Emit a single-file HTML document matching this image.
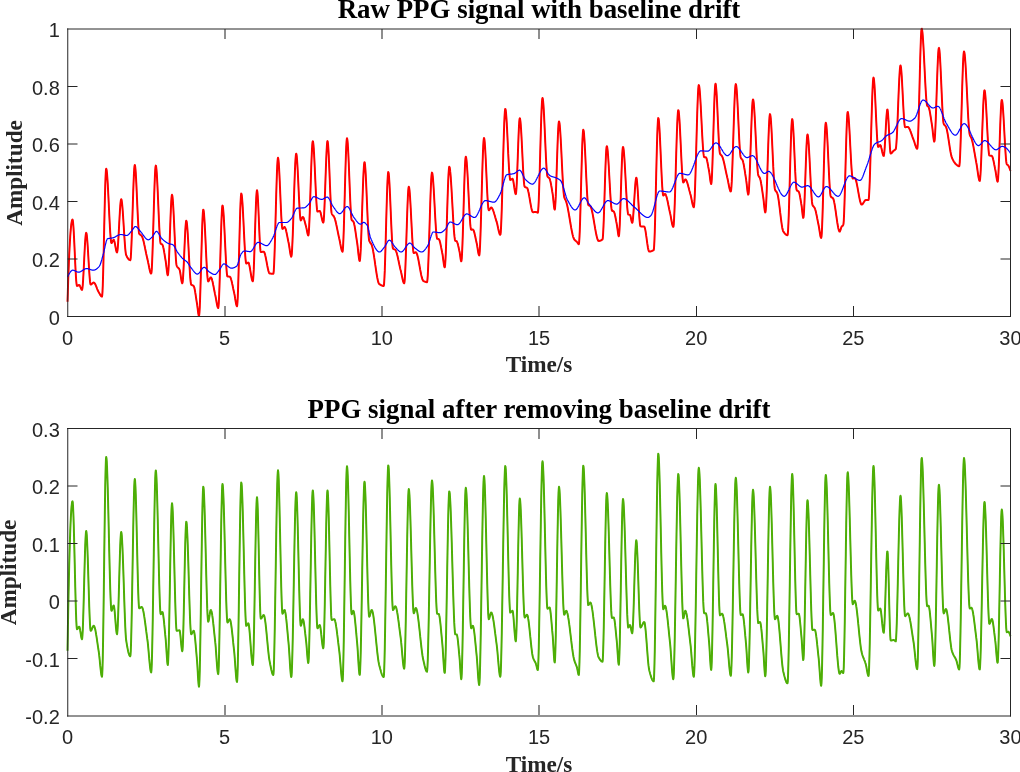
<!DOCTYPE html>
<html><head><meta charset="utf-8"><title>PPG signal</title>
<style>
html,body{margin:0;padding:0;background:#fff;}
body{width:1020px;height:772px;overflow:hidden;}
svg{display:block;}
.tk{font-family:"Liberation Sans",Arial,sans-serif;font-size:20px;fill:#262626;}
.lb{font-family:"Liberation Serif","Times New Roman",serif;font-size:23.2px;font-weight:bold;fill:#262626;}
.tt{font-family:"Liberation Serif","Times New Roman",serif;font-size:26.9px;font-weight:bold;fill:#000;}
</style></head>
<body>
<svg width="1020" height="772" viewBox="0 0 1020 772">
<rect width="1020" height="772" fill="#fff"/>
<path d="M67.5 301.8 L67.8 293.8 68.0 286.2 68.2 279.0 68.5 272.2 68.8 265.8 69.0 259.9 69.2 254.3 69.5 249.2 69.8 244.5 70.0 240.1 70.2 236.2 70.5 232.7 70.8 229.7 71.0 227.0 71.2 224.7 71.5 222.9 71.8 221.4 72.0 220.4 72.2 219.8 72.5 219.6 72.8 220.2 73.0 221.9 73.2 224.5 73.5 227.9 73.8 232.1 74.0 236.8 74.2 241.9 74.5 247.2 74.8 252.7 75.0 258.2 75.2 263.6 75.5 268.7 75.8 273.4 76.0 277.5 76.2 281.0 76.5 283.6 76.8 285.3 77.0 285.9 77.2 285.9 77.5 285.8 77.8 285.7 78.0 285.5 78.2 285.4 78.5 285.2 78.8 285.1 79.0 285.0 79.2 285.0 79.5 285.2 79.8 285.5 80.0 286.0 80.2 286.6 80.5 287.2 80.8 287.9 81.0 288.5 81.2 289.0 81.5 289.5 81.8 289.8 82.0 289.9 82.2 289.3 82.5 287.7 82.8 285.1 83.0 281.7 83.2 277.8 83.5 273.3 83.8 268.4 84.0 263.4 84.2 258.3 84.5 253.3 84.8 248.5 85.0 244.1 85.2 240.3 85.5 237.0 85.8 234.6 86.0 233.2 86.2 232.8 86.5 233.5 86.8 234.9 87.0 237.1 87.2 240.0 87.5 243.3 87.8 247.0 88.0 251.0 88.2 255.2 88.5 259.5 88.8 263.8 89.0 268.0 89.2 271.9 89.5 275.5 89.8 278.6 90.0 281.2 90.2 283.1 90.5 284.3 90.8 284.6 91.0 284.5 91.2 284.4 91.5 284.2 91.8 284.0 92.0 283.8 92.2 283.5 92.5 283.3 92.8 283.1 93.0 282.9 93.2 282.7 93.5 282.6 93.8 282.6 94.0 282.7 94.2 282.8 94.5 283.1 94.8 283.4 95.0 283.8 95.2 284.3 95.5 284.8 95.8 285.3 96.0 285.9 96.2 286.5 96.5 287.1 96.8 287.8 97.0 288.4 97.2 289.1 97.5 289.7 97.8 290.3 98.0 290.8 98.2 291.3 98.5 291.8 98.8 292.2 99.0 292.6 99.2 293.1 99.5 293.5 99.8 294.0 100.0 294.4 100.2 294.9 100.5 295.3 100.8 295.6 101.0 296.0 101.2 296.2 101.5 296.4 101.8 296.6 102.0 296.6 102.2 295.3 102.5 291.6 102.8 285.8 103.0 278.3 103.2 269.4 103.5 259.3 103.8 248.5 104.0 237.3 104.2 225.9 104.5 214.6 104.8 204.0 105.0 194.1 105.2 185.4 105.5 178.2 105.8 172.8 106.0 169.6 106.2 168.8 106.5 169.4 106.8 171.0 107.0 173.3 107.2 176.3 107.5 180.0 107.8 184.1 108.0 188.6 108.2 193.5 108.5 198.6 108.8 203.8 109.0 209.0 109.2 214.2 109.5 219.2 109.8 224.0 110.0 228.5 110.2 232.5 110.5 236.0 110.8 238.9 111.0 241.1 111.2 242.5 111.5 243.0 111.8 242.9 112.0 242.6 112.2 242.1 112.5 241.6 112.8 241.1 113.0 240.6 113.2 240.2 113.5 239.9 113.8 239.8 114.0 240.1 114.2 240.8 114.5 241.7 114.8 242.9 115.0 244.2 115.2 245.6 115.5 247.0 115.8 248.4 116.0 249.7 116.2 250.8 116.5 251.7 116.8 252.2 117.0 252.5 117.2 251.9 117.5 250.4 117.8 248.0 118.0 244.8 118.2 241.1 118.5 236.9 118.8 232.4 119.0 227.7 119.2 223.0 119.5 218.3 119.8 213.9 120.0 209.8 120.2 206.2 120.5 203.2 120.8 200.9 121.0 199.6 121.2 199.2 121.5 199.8 121.8 201.0 122.0 202.8 122.2 205.2 122.5 208.1 122.8 211.3 123.0 214.9 123.2 218.7 123.5 222.7 123.8 226.7 124.0 230.8 124.2 234.8 124.5 238.6 124.8 242.3 125.0 245.6 125.2 248.6 125.5 251.1 125.8 253.2 126.0 254.6 126.2 255.3 126.5 255.8 126.8 256.3 127.0 256.8 127.2 257.3 127.5 257.7 127.8 258.1 128.0 258.4 128.2 258.8 128.5 259.1 128.8 259.3 129.0 259.6 129.2 259.8 129.5 259.9 129.8 260.0 130.0 260.1 130.2 260.2 130.5 259.6 130.8 257.5 131.0 254.0 131.2 249.2 131.5 243.5 131.8 236.9 132.0 229.7 132.2 222.0 132.5 214.2 132.8 206.2 133.0 198.5 133.2 191.1 133.5 184.2 133.8 178.1 134.0 172.9 134.2 168.9 134.5 166.2 134.8 165.0 135.0 165.4 135.2 166.9 135.5 169.5 135.8 172.9 136.0 177.1 136.2 181.9 136.5 187.1 136.8 192.7 137.0 198.4 137.2 204.1 137.5 209.7 137.8 215.1 138.0 220.0 138.2 224.4 138.5 228.1 138.8 231.0 139.0 232.9 139.2 233.7 139.5 234.0 139.8 234.3 140.0 234.5 140.2 234.7 140.5 234.9 140.8 235.0 141.0 235.2 141.2 235.4 141.5 235.7 141.8 236.0 142.0 236.4 142.2 237.0 142.5 237.6 142.8 238.4 143.0 239.2 143.2 240.1 143.5 241.0 143.8 242.0 144.0 243.1 144.2 244.2 144.5 245.4 144.8 246.6 145.0 247.8 145.2 249.0 145.5 250.3 145.8 251.5 146.0 252.7 146.2 253.9 146.5 255.1 146.8 256.2 147.0 257.3 147.2 258.4 147.5 259.4 147.8 260.5 148.0 261.6 148.2 262.9 148.5 264.1 148.8 265.4 149.0 266.7 149.2 267.9 149.5 269.1 149.8 270.2 150.0 271.2 150.2 272.1 150.5 272.7 150.8 273.3 151.0 273.6 151.2 273.6 151.5 272.3 151.8 269.4 152.0 265.0 152.2 259.3 152.5 252.6 152.8 245.1 153.0 236.9 153.2 228.4 153.5 219.6 153.8 210.8 154.0 202.3 154.2 194.1 154.5 186.6 154.8 179.9 155.0 174.2 155.2 169.8 155.5 166.9 155.8 165.6 156.0 165.9 156.2 167.4 156.5 169.8 156.8 173.1 157.0 177.1 157.2 181.7 157.5 186.9 157.8 192.4 158.0 198.1 158.2 204.0 158.5 209.9 158.8 215.7 159.0 221.3 159.2 226.5 159.5 231.2 159.8 235.4 160.0 238.8 160.2 241.4 160.5 243.1 160.8 243.7 161.0 243.9 161.2 244.0 161.5 244.1 161.8 244.2 162.0 244.3 162.2 244.5 162.5 244.9 162.8 245.4 163.0 246.2 163.2 247.2 163.5 248.3 163.8 249.6 164.0 250.9 164.2 252.4 164.5 253.9 164.8 255.5 165.0 257.0 165.2 258.6 165.5 260.0 165.8 261.5 166.0 263.4 166.2 265.5 166.5 267.7 166.8 269.9 167.0 271.9 167.2 273.5 167.5 274.7 167.8 275.2 168.0 274.7 168.2 272.7 168.5 269.3 168.8 264.7 169.0 259.3 169.2 253.1 169.5 246.4 169.8 239.3 170.0 232.1 170.2 225.0 170.5 218.2 170.8 211.9 171.0 206.3 171.2 201.6 171.5 197.9 171.8 195.6 172.0 194.8 172.2 195.3 172.5 196.9 172.8 199.4 173.0 202.7 173.2 206.6 173.5 211.1 173.8 216.0 174.0 221.3 174.2 226.7 174.5 232.2 174.8 237.7 175.0 243.0 175.2 248.1 175.5 252.7 175.8 256.8 176.0 260.3 176.2 263.1 176.5 265.0 176.8 265.9 177.0 266.4 177.2 266.8 177.5 267.1 177.8 267.4 178.0 267.6 178.2 267.9 178.5 268.1 178.8 268.4 179.0 268.7 179.2 269.1 179.5 269.5 179.8 270.3 180.0 271.4 180.2 272.8 180.5 274.4 180.8 276.1 181.0 277.8 181.2 279.5 181.5 280.9 181.8 282.1 182.0 282.9 182.2 283.3 182.5 282.8 182.8 281.1 183.0 278.2 183.2 274.4 183.5 269.8 183.8 264.6 184.0 259.0 184.2 253.2 184.5 247.4 184.8 241.7 185.0 236.3 185.2 231.4 185.5 227.3 185.8 224.0 186.0 221.8 186.2 220.8 186.5 221.1 186.8 222.3 187.0 224.2 187.2 226.9 187.5 230.1 187.8 233.9 188.0 238.1 188.2 242.5 188.5 247.2 188.8 252.0 189.0 256.8 189.2 261.5 189.5 266.1 189.8 270.3 190.0 274.2 190.2 277.6 190.5 280.5 190.8 282.6 191.0 284.1 191.2 284.6 191.5 284.8 191.8 285.0 192.0 285.1 192.2 285.2 192.5 285.3 192.8 285.4 193.0 285.6 193.2 285.7 193.5 285.9 193.8 286.2 194.0 286.6 194.2 287.4 194.5 288.4 194.8 289.6 195.0 290.9 195.2 292.4 195.5 294.0 195.8 295.7 196.0 297.3 196.2 299.0 196.5 300.6 196.8 302.2 197.0 303.7 197.2 305.4 197.5 307.4 197.8 309.4 198.0 311.4 198.2 313.2 198.5 314.6 198.8 315.6 199.0 315.9 199.2 314.9 199.5 311.9 199.8 307.3 200.0 301.3 200.2 294.2 200.5 286.1 200.8 277.4 201.0 268.3 201.2 259.1 201.5 249.9 201.8 241.1 202.0 232.9 202.2 225.6 202.5 219.3 202.8 214.4 203.0 211.1 203.2 209.7 203.5 210.0 203.8 211.4 204.0 213.6 204.2 216.7 204.5 220.5 204.8 224.8 205.0 229.6 205.2 234.7 205.5 240.1 205.8 245.5 206.0 251.0 206.2 256.3 206.5 261.5 206.8 266.3 207.0 270.6 207.2 274.3 207.5 277.4 207.8 279.7 208.0 281.0 208.2 281.4 208.5 281.2 208.8 280.9 209.0 280.5 209.2 280.0 209.5 279.4 209.8 278.8 210.0 278.3 210.2 277.8 210.5 277.5 210.8 277.4 211.0 277.5 211.2 277.7 211.5 278.2 211.8 278.8 212.0 279.6 212.2 280.5 212.5 281.5 212.8 282.6 213.0 283.8 213.2 285.0 213.5 286.3 213.8 287.6 214.0 289.0 214.2 290.3 214.5 291.5 214.8 292.8 215.0 294.0 215.2 295.0 215.5 296.2 215.8 297.5 216.0 298.9 216.2 300.3 216.5 301.8 216.8 303.2 217.0 304.5 217.2 305.7 217.5 306.7 217.8 307.4 218.0 307.9 218.2 308.0 218.5 306.6 218.8 303.4 219.0 298.7 219.2 292.7 219.5 285.6 219.8 277.7 220.0 269.2 220.2 260.4 220.5 251.4 220.8 242.7 221.0 234.3 221.2 226.5 221.5 219.6 221.8 213.8 222.0 209.4 222.2 206.6 222.5 205.6 222.8 206.1 223.0 207.6 223.2 209.9 223.5 213.0 223.8 216.7 224.0 220.9 224.2 225.6 224.5 230.6 224.8 235.8 225.0 241.1 225.2 246.4 225.5 251.6 225.8 256.6 226.0 261.3 226.2 265.5 226.5 269.2 226.8 272.3 227.0 274.6 227.2 276.1 227.5 276.6 227.8 276.6 228.0 276.6 228.2 276.6 228.5 276.6 228.8 276.6 229.0 276.6 229.2 276.7 229.5 276.7 229.8 276.7 230.0 276.8 230.2 277.1 230.5 277.6 230.8 278.2 231.0 278.9 231.2 279.7 231.5 280.7 231.8 281.7 232.0 282.8 232.2 283.9 232.5 285.1 232.8 286.3 233.0 287.5 233.2 288.7 233.5 289.9 233.8 291.0 234.0 292.1 234.2 293.2 234.5 294.5 234.8 295.9 235.0 297.5 235.2 299.0 235.5 300.6 235.8 302.1 236.0 303.4 236.2 304.5 236.5 305.4 236.8 306.0 237.0 306.2 237.2 305.1 237.5 302.0 237.8 297.1 238.0 290.8 238.2 283.2 238.5 274.7 238.8 265.4 239.0 255.8 239.2 246.0 239.5 236.3 239.8 226.9 240.0 218.2 240.2 210.4 240.5 203.8 240.8 198.6 241.0 195.1 241.2 193.6 241.5 193.9 241.8 195.2 242.0 197.3 242.2 200.2 242.5 203.7 242.8 207.8 243.0 212.3 243.2 217.2 243.5 222.3 243.8 227.5 244.0 232.8 244.2 237.9 244.5 242.9 244.8 247.5 245.0 251.8 245.2 255.6 245.5 258.8 245.8 261.2 246.0 262.8 246.2 263.5 246.5 263.5 246.8 263.4 247.0 263.3 247.2 263.1 247.5 262.9 247.8 262.8 248.0 262.7 248.2 262.6 248.5 262.7 248.8 263.1 249.0 263.8 249.2 264.7 249.5 265.9 249.8 267.2 250.0 268.6 250.2 270.1 250.5 271.6 250.8 273.2 251.0 274.7 251.2 276.1 251.5 277.5 251.8 278.7 252.0 279.7 252.2 280.5 252.5 281.0 252.8 281.3 253.0 280.7 253.2 278.4 253.5 274.5 253.8 269.4 254.0 263.2 254.2 256.2 254.5 248.6 254.8 240.6 255.0 232.5 255.2 224.4 255.5 216.7 255.8 209.6 256.0 203.2 256.2 197.9 256.5 193.8 256.8 191.1 257.0 190.2 257.2 191.0 257.5 193.1 257.8 196.5 258.0 200.8 258.2 205.9 258.5 211.5 258.8 217.4 259.0 223.5 259.2 229.5 259.5 235.3 259.8 240.5 260.0 244.9 260.2 248.5 260.5 250.9 260.8 252.0 261.0 252.0 261.2 252.0 261.5 252.0 261.8 251.9 262.0 251.9 262.2 251.9 262.5 251.8 262.8 251.8 263.0 251.8 263.2 251.8 263.5 251.7 263.8 251.7 264.0 251.9 264.2 252.2 264.5 252.8 264.8 253.5 265.0 254.3 265.2 255.3 265.5 256.4 265.8 257.5 266.0 258.8 266.2 260.1 266.5 261.4 266.8 262.8 267.0 264.1 267.2 265.4 267.5 266.7 267.8 267.9 268.0 269.1 268.2 270.1 268.5 271.1 268.8 271.9 269.0 272.6 269.2 273.1 269.5 273.4 269.8 273.5 270.0 273.5 270.2 273.6 270.5 273.6 270.8 273.6 271.0 273.7 271.2 273.7 271.5 273.7 271.8 273.8 272.0 273.8 272.2 273.8 272.5 273.8 272.8 273.8 273.0 273.8 273.2 273.8 273.5 273.2 273.8 270.8 274.0 266.9 274.2 261.5 274.5 255.0 274.8 247.5 275.0 239.3 275.2 230.5 275.5 221.4 275.8 212.1 276.0 203.0 276.2 194.1 276.5 185.7 276.8 178.1 277.0 171.4 277.2 165.8 277.5 161.5 277.8 158.8 278.0 157.8 278.2 158.5 278.5 160.3 278.8 163.1 279.0 166.8 279.2 171.2 279.5 176.2 279.8 181.7 280.0 187.4 280.2 193.3 280.5 199.2 280.8 205.0 281.0 210.4 281.2 215.5 281.5 219.9 281.8 223.6 282.0 226.4 282.2 228.2 282.5 228.9 282.8 228.8 283.0 228.6 283.2 228.3 283.5 227.9 283.8 227.6 284.0 227.3 284.2 227.1 284.5 227.0 284.8 227.1 285.0 227.4 285.2 227.9 285.5 228.5 285.8 229.3 286.0 230.3 286.2 231.3 286.5 232.4 286.8 233.6 287.0 234.8 287.2 236.1 287.5 237.4 287.8 238.7 288.0 240.0 288.2 241.2 288.5 242.3 288.8 243.5 289.0 244.9 289.2 246.5 289.5 248.2 289.8 249.9 290.0 251.5 290.2 253.1 290.5 254.4 290.8 255.5 291.0 256.3 291.2 256.6 291.5 256.1 291.8 254.2 292.0 250.9 292.2 246.5 292.5 241.1 292.8 234.9 293.0 228.0 293.2 220.7 293.5 213.0 293.8 205.2 294.0 197.3 294.2 189.6 294.5 182.3 294.8 175.4 295.0 169.2 295.2 163.8 295.5 159.4 295.8 156.2 296.0 154.2 296.2 153.7 296.5 154.5 296.8 156.4 297.0 159.1 297.2 162.6 297.5 166.7 297.8 171.3 298.0 176.4 298.2 181.6 298.5 187.1 298.8 192.5 299.0 197.8 299.2 202.8 299.5 207.4 299.8 211.6 300.0 215.0 300.2 217.8 300.5 219.6 300.8 220.4 301.0 220.3 301.2 220.0 301.5 219.4 301.8 218.8 302.0 218.2 302.2 217.6 302.5 217.2 302.8 217.0 303.0 217.1 303.2 217.3 303.5 217.7 303.8 218.3 304.0 219.0 304.2 219.8 304.5 220.7 304.8 221.6 305.0 222.6 305.2 223.6 305.5 224.5 305.8 225.5 306.0 226.4 306.2 227.3 306.5 228.4 306.8 229.7 307.0 231.0 307.2 232.3 307.5 233.5 307.8 234.5 308.0 235.2 308.2 235.5 308.5 235.0 308.8 232.9 309.0 229.4 309.2 224.7 309.5 219.0 309.8 212.5 310.0 205.3 310.2 197.7 310.5 189.9 310.8 182.1 311.0 174.4 311.2 167.0 311.5 160.2 311.8 154.2 312.0 149.0 312.2 145.0 312.5 142.4 312.8 141.2 313.0 141.5 313.2 143.0 313.5 145.4 313.8 148.6 314.0 152.6 314.2 157.1 314.5 162.1 314.8 167.5 315.0 173.0 315.2 178.6 315.5 184.2 315.8 189.6 316.0 194.6 316.2 199.3 316.5 203.4 316.8 206.8 317.0 209.4 317.2 211.0 317.5 211.6 317.8 211.6 318.0 211.5 318.2 211.4 318.5 211.3 318.8 211.2 319.0 211.1 319.2 211.0 319.5 211.0 319.8 211.0 320.0 211.2 320.2 211.7 320.5 212.4 320.8 213.4 321.0 214.4 321.2 215.6 321.5 216.8 321.8 218.0 322.0 219.1 322.2 220.2 322.5 221.1 322.8 221.8 323.0 222.4 323.2 222.6 323.5 222.0 323.8 220.0 324.0 216.5 324.2 212.0 324.5 206.4 324.8 200.2 325.0 193.3 325.2 186.2 325.5 178.9 325.8 171.7 326.0 164.9 326.2 158.5 326.5 152.8 326.8 148.0 327.0 144.3 327.2 141.9 327.5 141.1 327.8 141.8 328.0 143.8 328.2 146.9 328.5 151.0 328.8 155.9 329.0 161.3 329.2 167.2 329.5 173.4 329.8 179.7 330.0 186.0 330.2 192.0 330.5 197.6 330.8 202.6 331.0 206.9 331.2 210.2 331.5 212.5 331.8 213.6 332.0 214.1 332.2 214.5 332.5 214.9 332.8 215.2 333.0 215.5 333.2 215.7 333.5 216.0 333.8 216.3 334.0 216.7 334.2 217.2 334.5 217.8 334.8 218.5 335.0 219.3 335.2 220.1 335.5 221.1 335.8 222.1 336.0 223.2 336.2 224.3 336.5 225.5 336.8 226.7 337.0 227.9 337.2 229.1 337.5 230.4 337.8 231.6 338.0 232.8 338.2 234.1 338.5 235.2 338.8 236.4 339.0 237.5 339.2 238.5 339.5 239.7 339.8 240.9 340.0 242.2 340.2 243.5 340.5 244.9 340.8 246.2 341.0 247.4 341.2 248.5 341.5 249.6 341.8 250.4 342.0 251.0 342.2 251.4 342.5 251.6 342.8 250.6 343.0 247.7 343.2 243.2 343.5 237.3 343.8 230.2 344.0 222.2 344.2 213.5 344.5 204.4 344.8 195.0 345.0 185.6 345.2 176.4 345.5 167.7 345.8 159.7 346.0 152.6 346.2 146.7 346.5 142.2 346.8 139.3 347.0 138.3 347.2 139.0 347.5 140.8 347.8 143.7 348.0 147.6 348.2 152.2 348.5 157.5 348.8 163.2 349.0 169.4 349.2 175.7 349.5 182.1 349.8 188.5 350.0 194.6 350.2 200.4 350.5 205.7 350.8 210.4 351.0 214.3 351.2 217.3 351.5 219.3 351.8 220.1 352.0 220.4 352.2 220.6 352.5 220.7 352.8 220.9 353.0 221.1 353.2 221.4 353.5 221.8 353.8 222.5 354.0 223.3 354.2 224.4 354.5 225.6 354.8 226.9 355.0 228.4 355.2 230.0 355.5 231.6 355.8 233.3 356.0 235.0 356.2 236.8 356.5 238.5 356.8 240.2 357.0 241.8 357.2 243.5 357.5 245.4 357.8 247.6 358.0 249.9 358.2 252.3 358.5 254.6 358.8 256.7 359.0 258.6 359.2 259.9 359.5 260.8 359.8 261.0 360.0 259.9 360.2 257.4 360.5 253.7 360.8 248.9 361.0 243.2 361.2 236.8 361.5 229.8 361.8 222.3 362.0 214.7 362.2 207.0 362.5 199.4 362.8 192.0 363.0 185.1 363.2 178.8 363.5 173.3 363.8 168.7 364.0 165.2 364.2 163.0 364.5 162.2 364.8 162.8 365.0 164.5 365.2 167.2 365.5 170.8 365.8 175.1 366.0 180.1 366.2 185.5 366.5 191.2 366.8 197.2 367.0 203.2 367.2 209.3 367.5 215.1 367.8 220.7 368.0 225.8 368.2 230.4 368.5 234.3 368.8 237.4 369.0 239.6 369.2 240.7 369.5 241.3 369.8 241.9 370.0 242.3 370.2 242.7 370.5 243.0 370.8 243.3 371.0 243.7 371.2 244.1 371.5 244.5 371.8 245.1 372.0 245.9 372.2 246.7 372.5 247.7 372.8 248.9 373.0 250.2 373.2 251.5 373.5 253.0 373.8 254.5 374.0 256.1 374.2 257.7 374.5 259.4 374.8 261.2 375.0 262.9 375.2 264.7 375.5 266.4 375.8 268.2 376.0 269.9 376.2 271.5 376.5 273.1 376.8 274.7 377.0 276.2 377.2 277.5 377.5 278.8 377.8 280.0 378.0 281.1 378.2 282.0 378.5 282.7 378.8 283.3 379.0 283.8 379.2 284.0 379.5 284.2 379.8 284.4 380.0 284.6 380.2 284.7 380.5 284.9 380.8 285.0 381.0 285.2 381.2 285.3 381.5 285.4 381.8 285.5 382.0 285.6 382.2 285.7 382.5 285.8 382.8 285.9 383.0 285.9 383.2 285.9 383.5 286.0 383.8 285.9 384.0 284.6 384.2 281.5 384.5 276.8 384.8 270.9 385.0 263.8 385.2 255.9 385.5 247.3 385.8 238.3 386.0 229.0 386.2 219.8 386.5 210.8 386.8 202.2 387.0 194.2 387.2 187.2 387.5 181.2 387.8 176.6 388.0 173.5 388.2 172.1 388.5 172.5 388.8 174.0 389.0 176.6 389.2 180.1 389.5 184.3 389.8 189.2 390.0 194.5 390.2 200.2 390.5 206.2 390.8 212.2 391.0 218.2 391.2 224.0 391.5 229.5 391.8 234.6 392.0 239.1 392.2 242.9 392.5 245.8 392.8 247.8 393.0 248.6 393.2 248.8 393.5 249.0 393.8 249.1 394.0 249.2 394.2 249.3 394.5 249.4 394.8 249.5 395.0 249.6 395.2 249.8 395.5 250.1 395.8 250.5 396.0 251.0 396.2 251.6 396.5 252.3 396.8 253.1 397.0 254.0 397.2 255.0 397.5 256.0 397.8 257.1 398.0 258.2 398.2 259.4 398.5 260.6 398.8 261.8 399.0 263.0 399.2 264.2 399.5 265.3 399.8 266.5 400.0 267.6 400.2 268.7 400.5 269.7 400.8 270.6 401.0 271.7 401.2 272.8 401.5 274.0 401.8 275.2 402.0 276.4 402.2 277.6 402.5 278.8 402.8 279.9 403.0 280.9 403.2 281.7 403.5 282.4 403.8 282.9 404.0 283.2 404.2 283.3 404.5 282.1 404.8 279.5 405.0 275.6 405.2 270.5 405.5 264.5 405.8 257.8 406.0 250.5 406.2 242.8 406.5 235.0 406.8 227.2 407.0 219.5 407.2 212.2 407.5 205.5 407.8 199.5 408.0 194.4 408.2 190.5 408.5 187.9 408.8 186.7 409.0 187.0 409.2 188.2 409.5 190.2 409.8 193.0 410.0 196.3 410.2 200.2 410.5 204.5 410.8 209.1 411.0 214.0 411.2 218.9 411.5 223.9 411.8 228.8 412.0 233.5 412.2 237.9 412.5 242.0 412.8 245.6 413.0 248.6 413.2 250.9 413.5 252.5 413.8 253.1 414.0 253.1 414.2 253.0 414.5 252.9 414.8 252.7 415.0 252.6 415.2 252.4 415.5 252.3 415.8 252.3 416.0 252.3 416.2 252.6 416.5 252.9 416.8 253.5 417.0 254.1 417.2 254.9 417.5 255.8 417.8 256.8 418.0 257.9 418.2 259.1 418.5 260.3 418.8 261.6 419.0 263.0 419.2 264.3 419.5 265.7 419.8 267.1 420.0 268.5 420.2 269.9 420.5 271.2 420.8 272.5 421.0 273.8 421.2 275.0 421.5 276.1 421.8 277.1 422.0 278.1 422.2 278.9 422.5 279.6 422.8 280.1 423.0 280.6 423.2 280.8 423.5 281.0 423.8 281.1 424.0 281.3 424.2 281.4 424.5 281.5 424.8 281.6 425.0 281.7 425.2 281.8 425.5 281.9 425.8 282.0 426.0 282.1 426.2 282.1 426.5 282.1 426.8 282.2 427.0 282.2 427.2 281.4 427.5 279.1 427.8 275.5 428.0 270.8 428.2 265.0 428.5 258.5 428.8 251.3 429.0 243.6 429.2 235.6 429.5 227.4 429.8 219.2 430.0 211.2 430.2 203.5 430.5 196.3 430.8 189.7 431.0 184.0 431.2 179.3 431.5 175.7 431.8 173.4 432.0 172.6 432.2 173.0 432.5 174.3 432.8 176.3 433.0 178.9 433.2 182.1 433.5 185.8 433.8 189.9 434.0 194.2 434.2 198.8 434.5 203.5 434.8 208.3 435.0 213.0 435.2 217.5 435.5 221.9 435.8 225.9 436.0 229.5 436.2 232.7 436.5 235.3 436.8 237.2 437.0 238.4 437.2 238.8 437.5 238.8 437.8 238.9 438.0 238.9 438.2 239.0 438.5 239.0 438.8 239.1 439.0 239.4 439.2 239.8 439.5 240.4 439.8 241.2 440.0 242.1 440.2 243.1 440.5 244.2 440.8 245.4 441.0 246.6 441.2 247.9 441.5 249.2 441.8 250.5 442.0 251.7 442.2 253.0 442.5 254.3 442.8 255.9 443.0 257.8 443.2 259.8 443.5 261.7 443.8 263.6 444.0 265.1 444.2 266.4 444.5 267.2 444.8 267.3 445.0 266.1 445.2 263.4 445.5 259.3 445.8 254.0 446.0 247.8 446.2 240.8 446.5 233.2 446.8 225.2 447.0 217.1 447.2 208.9 447.5 200.9 447.8 193.3 448.0 186.3 448.2 180.1 448.5 174.8 448.8 170.7 449.0 168.0 449.2 166.8 449.5 167.0 449.8 167.9 450.0 169.5 450.2 171.7 450.5 174.3 450.8 177.4 451.0 181.0 451.2 184.8 451.5 188.9 451.8 193.3 452.0 197.7 452.2 202.3 452.5 206.9 452.8 211.4 453.0 215.8 453.2 220.1 453.5 224.1 453.8 227.8 454.0 231.2 454.2 234.2 454.5 236.7 454.8 238.6 455.0 240.0 455.2 240.7 455.5 240.9 455.8 241.0 456.0 241.0 456.2 241.1 456.5 241.2 456.8 241.4 457.0 241.7 457.2 242.3 457.5 243.0 457.8 243.8 458.0 244.8 458.2 245.8 458.5 246.9 458.8 248.1 459.0 249.3 459.2 250.4 459.5 251.5 459.8 252.9 460.0 254.6 460.2 256.4 460.5 258.2 460.8 259.7 461.0 260.8 461.2 261.3 461.5 260.7 461.8 258.4 462.0 254.5 462.2 249.3 462.5 243.0 462.8 235.7 463.0 227.8 463.2 219.4 463.5 210.8 463.8 202.1 464.0 193.5 464.2 185.4 464.5 177.9 464.8 171.2 465.0 165.5 465.2 161.0 465.5 158.1 465.8 156.8 466.0 157.0 466.2 158.2 466.5 160.1 466.8 162.7 467.0 166.0 467.2 169.7 467.5 173.9 467.8 178.4 468.0 183.2 468.2 188.2 468.5 193.3 468.8 198.3 469.0 203.3 469.2 208.1 469.5 212.6 469.8 216.8 470.0 220.5 470.2 223.8 470.5 226.4 470.8 228.3 471.0 229.5 471.2 229.8 471.5 229.7 471.8 229.7 472.0 229.6 472.2 229.5 472.5 229.5 472.8 229.5 473.0 229.5 473.2 229.8 473.5 230.2 473.8 230.8 474.0 231.5 474.2 232.4 474.5 233.3 474.8 234.4 475.0 235.5 475.2 236.6 475.5 237.8 475.8 239.0 476.0 240.1 476.2 241.3 476.5 242.4 476.8 243.5 477.0 244.7 477.2 246.2 477.5 247.8 477.8 249.5 478.0 251.0 478.2 252.5 478.5 253.8 478.8 254.7 479.0 255.3 479.2 255.4 479.5 254.2 479.8 251.2 480.0 246.8 480.2 241.1 480.5 234.3 480.8 226.6 481.0 218.3 481.2 209.5 481.5 200.4 481.8 191.2 482.0 182.2 482.2 173.4 482.5 165.2 482.8 157.7 483.0 151.2 483.2 145.7 483.5 141.5 483.8 138.9 484.0 138.0 484.2 138.5 484.5 140.2 484.8 142.7 485.0 146.1 485.2 150.1 485.5 154.7 485.8 159.8 486.0 165.2 486.2 170.7 486.5 176.4 486.8 182.0 487.0 187.4 487.2 192.5 487.5 197.2 487.8 201.4 488.0 204.9 488.2 207.6 488.5 209.4 488.8 210.2 489.0 210.2 489.2 210.0 489.5 209.7 489.8 209.3 490.0 208.9 490.2 208.5 490.5 208.1 490.8 207.8 491.0 207.6 491.2 207.5 491.5 207.6 491.8 207.8 492.0 208.1 492.2 208.4 492.5 208.9 492.8 209.4 493.0 210.0 493.2 210.6 493.5 211.4 493.8 212.1 494.0 212.9 494.2 213.7 494.5 214.6 494.8 215.4 495.0 216.3 495.2 217.2 495.5 218.1 495.8 219.0 496.0 219.8 496.2 220.7 496.5 221.5 496.8 222.2 497.0 223.1 497.2 224.1 497.5 225.2 497.8 226.4 498.0 227.6 498.2 228.7 498.5 229.9 498.8 231.0 499.0 232.0 499.2 232.9 499.5 233.7 499.8 234.3 500.0 234.7 500.2 234.8 500.5 234.3 500.8 232.0 501.0 228.1 501.2 222.9 501.5 216.6 501.8 209.2 502.0 201.1 502.2 192.3 502.5 183.1 502.8 173.7 503.0 164.3 503.2 155.0 503.5 146.1 503.8 137.6 504.0 130.0 504.2 123.2 504.5 117.5 504.8 113.1 505.0 110.1 505.2 108.9 505.5 109.2 505.8 110.4 506.0 112.6 506.2 115.5 506.5 119.1 506.8 123.3 507.0 127.9 507.2 132.8 507.5 138.0 507.8 143.3 508.0 148.6 508.2 153.9 508.5 158.9 508.8 163.7 509.0 168.0 509.2 171.8 509.5 175.0 509.8 177.5 510.0 179.2 510.2 179.9 510.5 179.9 510.8 179.8 511.0 179.7 511.2 179.5 511.5 179.3 511.8 179.1 512.0 179.0 512.2 178.9 512.5 178.8 512.8 179.1 513.0 179.8 513.2 180.8 513.5 182.2 513.8 183.8 514.0 185.4 514.2 187.2 514.5 188.9 514.8 190.5 515.0 191.9 515.2 193.0 515.5 193.8 515.8 194.1 516.0 193.6 516.2 191.5 516.5 188.0 516.8 183.3 517.0 177.7 517.2 171.4 517.5 164.6 517.8 157.6 518.0 150.5 518.2 143.6 518.5 137.0 518.8 131.1 519.0 126.1 519.2 122.1 519.5 119.4 519.8 118.2 520.0 118.5 520.2 119.8 520.5 121.9 520.8 124.8 521.0 128.3 521.2 132.4 521.5 136.9 521.8 141.8 522.0 146.8 522.2 152.0 522.5 157.2 522.8 162.3 523.0 167.2 523.2 171.8 523.5 175.9 523.8 179.6 524.0 182.6 524.2 184.9 524.5 186.3 524.8 186.9 525.0 187.0 525.2 187.1 525.5 187.2 525.8 187.3 526.0 187.4 526.2 187.5 526.5 187.6 526.8 187.7 527.0 187.9 527.2 188.1 527.5 188.6 527.8 189.3 528.0 190.2 528.2 191.2 528.5 192.3 528.8 193.5 529.0 194.8 529.2 196.2 529.5 197.6 529.8 199.1 530.0 200.6 530.2 202.1 530.5 203.5 530.8 204.9 531.0 206.2 531.2 207.5 531.5 208.6 531.8 209.6 532.0 210.5 532.2 211.2 532.5 211.8 532.8 212.1 533.0 212.2 533.2 212.2 533.5 212.2 533.8 212.2 534.0 212.1 534.2 212.1 534.5 212.0 534.8 212.0 535.0 212.0 535.2 211.9 535.5 211.9 535.8 211.9 536.0 211.9 536.2 212.0 536.5 212.1 536.8 212.2 537.0 212.4 537.2 212.5 537.5 212.6 537.8 212.7 538.0 212.1 538.2 209.7 538.5 205.8 538.8 200.5 539.0 194.1 539.2 186.7 539.5 178.5 539.8 169.9 540.0 160.8 540.2 151.7 540.5 142.7 540.8 133.9 541.0 125.6 541.2 118.1 541.5 111.4 541.8 105.9 542.0 101.7 542.2 99.0 542.5 98.0 542.8 98.6 543.0 100.2 543.2 102.6 543.5 105.9 543.8 109.9 544.0 114.4 544.2 119.4 544.5 124.8 544.8 130.4 545.0 136.1 545.2 141.9 545.5 147.6 545.8 153.0 546.0 158.2 546.2 162.9 546.5 167.1 546.8 170.7 547.0 173.5 547.2 175.5 547.5 176.4 547.8 176.8 548.0 177.1 548.2 177.3 548.5 177.5 548.8 177.7 549.0 177.9 549.2 178.2 549.5 178.6 549.8 179.1 550.0 179.8 550.2 180.7 550.5 181.7 550.8 182.9 551.0 184.2 551.2 185.5 551.5 187.0 551.8 188.5 552.0 190.0 552.2 191.5 552.5 193.1 552.8 194.6 553.0 196.7 553.2 199.1 553.5 201.7 553.8 204.2 554.0 206.4 554.2 208.2 554.5 209.3 554.8 209.6 555.0 208.4 555.2 205.7 555.5 201.6 555.8 196.4 556.0 190.3 556.2 183.5 556.5 176.2 556.8 168.6 557.0 160.9 557.2 153.4 557.5 146.1 557.8 139.4 558.0 133.5 558.2 128.5 558.5 124.7 558.8 122.3 559.0 121.4 559.2 121.9 559.5 123.2 559.8 125.3 560.0 128.2 560.2 131.6 560.5 135.5 560.8 139.9 561.0 144.6 561.2 149.6 561.5 154.7 561.8 160.0 562.0 165.2 562.2 170.3 562.5 175.2 562.8 179.9 563.0 184.2 563.2 188.0 563.5 191.3 563.8 194.0 564.0 196.0 564.2 197.2 564.5 198.0 564.8 198.6 565.0 199.2 565.2 199.6 565.5 200.1 565.8 200.6 566.0 201.2 566.2 201.9 566.5 202.7 566.8 203.6 567.0 204.6 567.2 205.6 567.5 206.8 567.8 208.0 568.0 209.3 568.2 210.6 568.5 212.0 568.8 213.4 569.0 214.9 569.2 216.3 569.5 217.8 569.8 219.3 570.0 220.8 570.2 222.3 570.5 223.8 570.8 225.2 571.0 226.6 571.2 228.0 571.5 229.4 571.8 230.7 572.0 231.9 572.2 233.1 572.5 234.2 572.8 235.2 573.0 236.2 573.2 237.0 573.5 237.8 573.8 238.4 574.0 238.9 574.2 239.4 574.5 239.7 574.8 240.0 575.0 240.2 575.2 240.5 575.5 240.7 575.8 240.9 576.0 241.1 576.2 241.3 576.5 241.5 576.8 241.7 577.0 242.0 577.2 242.3 577.5 242.7 577.8 243.1 578.0 243.5 578.2 243.8 578.5 244.1 578.8 244.2 579.0 243.5 579.2 241.0 579.5 236.7 579.8 231.0 580.0 224.1 580.2 216.2 580.5 207.5 580.8 198.3 581.0 188.9 581.2 179.4 581.5 170.0 581.8 161.1 582.0 152.9 582.2 145.5 582.5 139.3 582.8 134.5 583.0 131.2 583.2 129.8 583.5 130.1 583.8 131.4 584.0 133.7 584.2 136.7 584.5 140.4 584.8 144.7 585.0 149.5 585.2 154.6 585.5 160.0 585.8 165.5 586.0 171.0 586.2 176.5 586.5 181.8 586.8 186.8 587.0 191.5 587.2 195.6 587.5 199.1 587.8 201.8 588.0 203.8 588.2 204.8 588.5 205.1 588.8 205.3 589.0 205.4 589.2 205.5 589.5 205.6 589.8 205.8 590.0 205.9 590.2 206.1 590.5 206.4 590.8 206.9 591.0 207.5 591.2 208.2 591.5 209.0 591.8 209.9 592.0 211.0 592.2 212.1 592.5 213.3 592.8 214.6 593.0 215.9 593.2 217.3 593.5 218.7 593.8 220.2 594.0 221.6 594.2 223.1 594.5 224.6 594.8 226.1 595.0 227.6 595.2 229.0 595.5 230.4 595.8 231.8 596.0 233.1 596.2 234.3 596.5 235.5 596.8 236.6 597.0 237.5 597.2 238.4 597.5 239.2 597.8 239.8 598.0 240.3 598.2 240.7 598.5 240.9 598.8 241.0 599.0 241.0 599.2 240.9 599.5 240.9 599.8 240.8 600.0 240.8 600.2 240.7 600.5 240.6 600.8 240.5 601.0 240.4 601.2 240.2 601.5 240.1 601.8 239.9 602.0 239.7 602.2 239.6 602.5 239.4 602.8 238.3 603.0 235.5 603.2 231.4 603.5 226.1 603.8 219.8 604.0 212.7 604.2 205.1 604.5 197.2 604.8 189.1 605.0 181.1 605.2 173.5 605.5 166.3 605.8 160.0 606.0 154.5 606.2 150.3 606.5 147.4 606.8 146.2 607.0 146.4 607.2 147.5 607.5 149.3 607.8 151.7 608.0 154.7 608.2 158.2 608.5 162.1 608.8 166.3 609.0 170.7 609.2 175.2 609.5 179.8 609.8 184.4 610.0 188.9 610.2 193.1 610.5 197.1 610.8 200.8 611.0 204.0 611.2 206.7 611.5 208.7 611.8 210.1 612.0 210.7 612.2 210.9 612.5 211.0 612.8 211.0 613.0 211.1 613.2 211.2 613.5 211.3 613.8 211.5 614.0 211.8 614.2 212.4 614.5 213.1 614.8 214.0 615.0 215.1 615.2 216.3 615.5 217.5 615.8 218.8 616.0 220.2 616.2 221.5 616.5 222.8 616.8 224.1 617.0 225.5 617.2 227.3 617.5 229.2 617.8 231.2 618.0 233.0 618.2 234.6 618.5 235.7 618.8 236.2 619.0 235.6 619.2 233.3 619.5 229.6 619.8 224.6 620.0 218.5 620.2 211.6 620.5 204.1 620.8 196.3 621.0 188.4 621.2 180.5 621.5 172.9 621.8 165.9 622.0 159.7 622.2 154.4 622.5 150.4 622.8 147.8 623.0 146.9 623.2 147.3 623.5 148.6 623.8 150.5 624.0 153.1 624.2 156.3 624.5 159.9 624.8 164.0 625.0 168.3 625.2 172.8 625.5 177.5 625.8 182.3 626.0 187.0 626.2 191.6 626.5 196.0 626.8 200.2 627.0 203.9 627.2 207.3 627.5 210.1 627.8 212.2 628.0 213.7 628.2 214.4 628.5 214.6 628.8 214.6 629.0 214.7 629.2 214.7 629.5 214.8 629.8 214.8 630.0 214.9 630.2 215.3 630.5 216.1 630.8 217.2 631.0 218.5 631.2 219.8 631.5 221.0 631.8 222.0 632.0 222.7 632.2 222.8 632.5 222.2 632.8 220.6 633.0 218.4 633.2 215.5 633.5 212.1 633.8 208.4 634.0 204.4 634.2 200.3 634.5 196.2 634.8 192.2 635.0 188.4 635.2 185.0 635.5 182.2 635.8 179.9 636.0 178.4 636.2 177.7 636.5 178.0 636.8 179.2 637.0 181.3 637.2 184.0 637.5 187.3 637.8 191.0 638.0 195.0 638.2 199.3 638.5 203.6 638.8 207.9 639.0 212.0 639.2 215.8 639.5 219.2 639.8 222.1 640.0 224.3 640.2 225.7 640.5 226.2 640.8 226.3 641.0 226.3 641.2 226.4 641.5 226.4 641.8 226.4 642.0 226.4 642.2 226.4 642.5 226.5 642.8 226.5 643.0 226.5 643.2 226.5 643.5 226.5 643.8 226.6 644.0 226.6 644.2 226.6 644.5 226.9 644.8 227.6 645.0 228.5 645.2 229.6 645.5 230.9 645.8 232.5 646.0 234.1 646.2 235.9 646.5 237.7 646.8 239.6 647.0 241.4 647.2 243.2 647.5 244.9 647.8 246.5 648.0 248.0 648.2 249.2 648.5 250.2 648.8 251.0 649.0 251.4 649.2 251.5 649.5 251.5 649.8 251.5 650.0 251.5 650.2 251.5 650.5 251.4 650.8 251.4 651.0 251.3 651.2 251.2 651.5 251.1 651.8 251.0 652.0 250.9 652.2 250.8 652.5 250.7 652.8 250.6 653.0 250.4 653.2 250.3 653.5 250.1 653.8 249.9 654.0 248.2 654.2 244.5 654.5 239.0 654.8 232.1 655.0 223.9 655.2 214.7 655.5 204.7 655.8 194.3 656.0 183.6 656.2 172.9 656.5 162.5 656.8 152.6 657.0 143.5 657.2 135.4 657.5 128.5 657.8 123.2 658.0 119.6 658.2 118.1 658.5 118.4 658.8 119.8 659.0 122.2 659.2 125.3 659.5 129.3 659.8 133.8 660.0 138.8 660.2 144.2 660.5 149.8 660.8 155.6 661.0 161.3 661.2 167.0 661.5 172.5 661.8 177.7 662.0 182.4 662.2 186.6 662.5 190.1 662.8 192.8 663.0 194.6 663.2 195.4 663.5 195.4 663.8 195.2 664.0 194.9 664.2 194.6 664.5 194.3 664.8 194.0 665.0 194.0 665.2 194.0 665.5 194.3 665.8 194.7 666.0 195.3 666.2 196.0 666.5 196.8 666.8 197.7 667.0 198.6 667.2 199.7 667.5 200.8 667.8 202.0 668.0 203.2 668.2 204.5 668.5 205.7 668.8 207.0 669.0 208.2 669.2 209.4 669.5 210.6 669.8 211.7 670.0 212.7 670.2 213.8 670.5 215.1 670.8 216.4 671.0 217.8 671.2 219.3 671.5 220.7 671.8 222.0 672.0 223.3 672.2 224.5 672.5 225.4 672.8 226.2 673.0 226.7 673.2 226.9 673.5 226.4 673.8 224.3 674.0 220.7 674.2 215.9 674.5 210.0 674.8 203.2 675.0 195.6 675.2 187.5 675.5 179.0 675.8 170.3 676.0 161.6 676.2 153.0 676.5 144.7 676.8 136.9 677.0 129.8 677.2 123.5 677.5 118.2 677.8 114.1 678.0 111.4 678.2 110.2 678.5 110.5 678.8 111.8 679.0 114.0 679.2 117.0 679.5 120.7 679.8 124.9 680.0 129.6 680.2 134.6 680.5 139.9 680.8 145.3 681.0 150.7 681.2 156.0 681.5 161.2 681.8 166.0 682.0 170.4 682.2 174.3 682.5 177.6 682.8 180.1 683.0 181.8 683.2 182.5 683.5 182.5 683.8 182.1 684.0 181.7 684.2 181.1 684.5 180.5 684.8 180.0 685.0 179.6 685.2 179.4 685.5 179.4 685.8 179.6 686.0 179.9 686.2 180.2 686.5 180.7 686.8 181.3 687.0 182.0 687.2 182.7 687.5 183.5 687.8 184.3 688.0 185.2 688.2 186.1 688.5 187.1 688.8 188.0 689.0 189.0 689.2 190.0 689.5 191.0 689.8 191.9 690.0 192.8 690.2 193.7 690.5 194.6 690.8 195.5 691.0 196.6 691.2 197.8 691.5 199.1 691.8 200.4 692.0 201.6 692.2 202.8 692.5 204.0 692.8 205.0 693.0 205.8 693.2 206.5 693.5 207.0 693.8 207.2 694.0 206.6 694.2 204.4 694.5 200.7 694.8 195.6 695.0 189.4 695.2 182.3 695.5 174.4 695.8 165.9 696.0 157.1 696.2 148.0 696.5 138.8 696.8 129.8 697.0 121.2 697.2 113.0 697.5 105.6 697.8 99.0 698.0 93.5 698.2 89.2 698.5 86.3 698.8 85.1 699.0 85.4 699.2 86.5 699.5 88.4 699.8 91.0 700.0 94.1 700.2 97.8 700.5 102.0 700.8 106.4 701.0 111.1 701.2 116.0 701.5 121.0 701.8 126.0 702.0 130.9 702.2 135.6 702.5 140.1 702.8 144.2 703.0 147.9 703.2 151.1 703.5 153.7 703.8 155.7 704.0 156.8 704.2 157.1 704.5 157.2 704.8 157.2 705.0 157.2 705.2 157.2 705.5 157.2 705.8 157.3 706.0 157.4 706.2 157.8 706.5 158.4 706.8 159.2 707.0 160.2 707.2 161.3 707.5 162.5 707.8 163.9 708.0 165.2 708.2 166.7 708.5 168.1 708.8 169.4 709.0 170.7 709.2 172.2 709.5 173.9 709.8 175.9 710.0 177.9 710.2 179.8 710.5 181.6 710.8 182.9 711.0 183.8 711.2 184.0 711.5 182.6 711.8 179.5 712.0 174.9 712.2 169.0 712.5 162.1 712.8 154.3 713.0 146.0 713.2 137.3 713.5 128.6 713.8 120.0 714.0 111.8 714.2 104.2 714.5 97.4 714.8 91.8 715.0 87.4 715.2 84.7 715.5 83.7 715.8 84.3 716.0 86.0 716.2 88.7 716.5 92.2 716.8 96.4 717.0 101.1 717.2 106.3 717.5 111.8 717.8 117.5 718.0 123.2 718.2 128.8 718.5 134.1 718.8 139.1 719.0 143.6 719.2 147.4 719.5 150.5 719.8 152.6 720.0 153.7 720.2 154.1 720.5 154.5 720.8 154.8 721.0 155.0 721.2 155.2 721.5 155.5 721.8 155.8 722.0 156.2 722.2 156.6 722.5 157.2 722.8 157.9 723.0 158.7 723.2 159.6 723.5 160.5 723.8 161.5 724.0 162.5 724.2 163.6 724.5 164.7 724.8 165.9 725.0 167.1 725.2 168.3 725.5 169.5 725.8 170.7 726.0 171.9 726.2 173.1 726.5 174.2 726.8 175.3 727.0 176.4 727.2 177.5 727.5 178.5 727.8 179.7 728.0 180.9 728.2 182.2 728.5 183.5 728.8 184.8 729.0 186.1 729.2 187.3 729.5 188.4 729.8 189.4 730.0 190.3 730.2 190.9 730.5 191.3 730.8 191.5 731.0 191.0 731.2 189.1 731.5 185.8 731.8 181.4 732.0 175.9 732.2 169.7 732.5 162.7 732.8 155.3 733.0 147.4 733.2 139.4 733.5 131.4 733.8 123.5 734.0 115.9 734.2 108.7 734.5 102.1 734.8 96.3 735.0 91.5 735.2 87.7 735.5 85.2 735.8 84.1 736.0 84.4 736.2 85.7 736.5 87.9 736.8 90.8 737.0 94.3 737.2 98.5 737.5 103.1 737.8 108.0 738.0 113.2 738.2 118.6 738.5 124.0 738.8 129.3 739.0 134.5 739.2 139.4 739.5 144.0 739.8 148.1 740.0 151.6 740.2 154.4 740.5 156.5 740.8 157.7 741.0 158.2 741.2 158.5 741.5 158.8 741.8 159.0 742.0 159.3 742.2 159.6 742.5 160.0 742.8 160.6 743.0 161.4 743.2 162.4 743.5 163.5 743.8 164.7 744.0 166.1 744.2 167.5 744.5 169.1 744.8 170.6 745.0 172.2 745.2 173.9 745.5 175.5 745.8 177.1 746.0 178.6 746.2 180.4 746.5 182.5 746.8 184.7 747.0 187.0 747.2 189.3 747.5 191.3 747.8 192.9 748.0 194.0 748.2 194.6 748.5 194.1 748.8 192.1 749.0 188.9 749.2 184.5 749.5 179.1 749.8 173.0 750.0 166.2 750.2 159.0 750.5 151.5 750.8 143.9 751.0 136.4 751.2 129.2 751.5 122.3 751.8 116.0 752.0 110.5 752.2 105.9 752.5 102.4 752.8 100.2 753.0 99.4 753.2 99.8 753.5 101.2 753.8 103.2 754.0 106.0 754.2 109.4 754.5 113.3 754.8 117.6 755.0 122.2 755.2 127.1 755.5 132.2 755.8 137.4 756.0 142.6 756.2 147.6 756.5 152.6 756.8 157.2 757.0 161.5 757.2 165.4 757.5 168.8 757.8 171.6 758.0 173.7 758.2 175.0 758.5 175.7 758.8 176.2 759.0 176.6 759.2 177.0 759.5 177.3 759.8 177.8 760.0 178.4 760.2 179.2 760.5 180.1 760.8 181.3 761.0 182.6 761.2 184.0 761.5 185.6 761.8 187.2 762.0 188.9 762.2 190.6 762.5 192.3 762.8 194.1 763.0 195.8 763.2 197.5 763.5 199.4 763.8 201.7 764.0 204.1 764.2 206.5 764.5 208.7 764.8 210.6 765.0 211.8 765.2 212.4 765.5 211.9 765.8 209.9 766.0 206.5 766.2 202.0 766.5 196.5 766.8 190.1 767.0 183.1 767.2 175.7 767.5 168.0 767.8 160.1 768.0 152.3 768.2 144.8 768.5 137.7 768.8 131.2 769.0 125.5 769.2 120.8 769.5 117.2 769.8 114.9 770.0 114.1 770.2 114.6 770.5 116.1 770.8 118.4 771.0 121.5 771.2 125.3 771.5 129.6 771.8 134.3 772.0 139.4 772.2 144.7 772.5 150.2 772.8 155.7 773.0 161.1 773.2 166.4 773.5 171.4 773.8 176.0 774.0 180.1 774.2 183.6 774.5 186.5 774.8 188.5 775.0 189.6 775.2 190.2 775.5 190.7 775.8 191.0 776.0 191.4 776.2 191.6 776.5 192.0 776.8 192.3 777.0 192.7 777.2 193.3 777.5 194.0 777.8 195.0 778.0 196.2 778.2 197.6 778.5 199.2 778.8 200.9 779.0 202.7 779.2 204.6 779.5 206.6 779.8 208.7 780.0 210.8 780.2 212.9 780.5 215.0 780.8 217.1 781.0 219.1 781.2 221.0 781.5 222.9 781.8 224.6 782.0 226.2 782.2 227.7 782.5 228.9 782.8 229.9 783.0 230.8 783.2 231.3 783.5 231.7 783.8 232.1 784.0 232.4 784.2 232.8 784.5 233.1 784.8 233.4 785.0 233.7 785.2 234.0 785.5 234.2 785.8 234.4 786.0 234.6 786.2 234.8 786.5 235.0 786.8 235.1 787.0 235.2 787.2 235.2 787.5 235.2 787.8 234.3 788.0 231.6 788.2 227.3 788.5 221.7 788.8 214.9 789.0 207.3 789.2 198.9 789.5 190.0 789.8 180.8 790.0 171.6 790.2 162.5 790.5 153.7 790.8 145.4 791.0 137.9 791.2 131.4 791.5 126.0 791.8 122.0 792.0 119.7 792.2 119.1 792.5 119.9 792.8 121.9 793.0 124.8 793.2 128.6 793.5 133.1 793.8 138.1 794.0 143.5 794.2 149.2 794.5 155.0 794.8 160.8 795.0 166.5 795.2 171.9 795.5 176.8 795.8 181.2 796.0 184.8 796.2 187.6 796.5 189.5 796.8 190.2 797.0 190.5 797.2 190.7 797.5 190.8 797.8 190.9 798.0 191.1 798.2 191.2 798.5 191.5 798.8 191.8 799.0 192.3 799.2 193.0 799.5 194.0 799.8 195.1 800.0 196.4 800.2 197.7 800.5 199.2 800.8 200.7 801.0 202.2 801.2 203.7 801.5 205.2 801.8 207.0 802.0 209.2 802.2 211.6 802.5 213.8 802.8 215.8 803.0 217.2 803.2 217.9 803.5 217.3 803.8 215.2 804.0 211.7 804.2 207.0 804.5 201.4 804.8 194.9 805.0 188.0 805.2 180.7 805.5 173.2 805.8 165.9 806.0 158.8 806.2 152.3 806.5 146.4 806.8 141.5 807.0 137.8 807.2 135.4 807.5 134.5 807.8 135.0 808.0 136.4 808.2 138.6 808.5 141.4 808.8 144.9 809.0 149.0 809.2 153.4 809.5 158.1 809.8 163.1 810.0 168.2 810.2 173.3 810.5 178.4 810.8 183.3 811.0 187.9 811.2 192.2 811.5 196.0 811.8 199.3 812.0 201.9 812.2 203.8 812.5 204.9 812.8 205.4 813.0 205.8 813.2 206.2 813.5 206.4 813.8 206.7 814.0 207.0 814.2 207.3 814.5 207.7 814.8 208.2 815.0 208.8 815.2 209.5 815.5 210.4 815.8 211.3 816.0 212.4 816.2 213.5 816.5 214.7 816.8 215.9 817.0 217.2 817.2 218.5 817.5 219.8 817.8 221.1 818.0 222.3 818.2 223.6 818.5 224.8 818.8 226.0 819.0 227.4 819.2 229.0 819.5 230.6 819.8 232.2 820.0 233.7 820.2 235.2 820.5 236.4 820.8 237.3 821.0 237.8 821.2 237.9 821.5 236.6 821.8 233.4 822.0 228.7 822.2 222.7 822.5 215.6 822.8 207.6 823.0 198.9 823.2 189.7 823.5 180.4 823.8 171.0 824.0 161.9 824.2 153.2 824.5 145.2 824.8 138.0 825.0 132.0 825.2 127.3 825.5 124.2 825.8 122.8 826.0 123.1 826.2 124.4 826.5 126.6 826.8 129.6 827.0 133.2 827.2 137.4 827.5 142.1 827.8 147.1 828.0 152.4 828.2 157.8 828.5 163.2 828.8 168.6 829.0 173.8 829.2 178.7 829.5 183.3 829.8 187.3 830.0 190.8 830.2 193.6 830.5 195.5 830.8 196.5 831.0 196.9 831.2 197.1 831.5 197.3 831.8 197.4 832.0 197.6 832.2 197.7 832.5 197.9 832.8 198.1 833.0 198.3 833.2 198.8 833.5 199.4 833.8 200.2 834.0 201.2 834.2 202.4 834.5 203.7 834.8 205.1 835.0 206.6 835.2 208.3 835.5 210.0 835.8 211.7 836.0 213.5 836.2 215.3 836.5 217.0 836.8 218.8 837.0 220.5 837.2 222.2 837.5 223.8 837.8 225.3 838.0 226.6 838.2 227.9 838.5 229.0 838.8 229.9 839.0 230.7 839.2 231.2 839.5 231.5 839.8 231.6 840.0 231.3 840.2 230.7 840.5 229.9 840.8 229.1 841.0 228.2 841.2 227.4 841.5 226.9 841.8 226.5 842.0 226.3 842.2 226.0 842.5 225.8 842.8 225.6 843.0 225.3 843.2 224.9 843.5 223.8 843.8 220.8 844.0 216.2 844.2 210.2 844.5 203.0 844.8 194.9 845.0 186.1 845.2 176.8 845.5 167.3 845.8 157.9 846.0 148.7 846.2 140.1 846.5 132.1 846.8 125.2 847.0 119.5 847.2 115.2 847.5 112.7 847.8 112.0 848.0 112.7 848.2 114.2 848.5 116.4 848.8 119.3 849.0 122.8 849.2 126.7 849.5 131.0 849.8 135.6 850.0 140.4 850.2 145.3 850.5 150.2 850.8 155.0 851.0 159.6 851.2 163.9 851.5 167.8 851.8 171.3 852.0 174.2 852.2 176.4 852.5 177.9 852.8 178.6 853.0 178.6 853.2 178.5 853.5 178.4 853.8 178.3 854.0 178.2 854.2 178.1 854.5 178.1 854.8 178.1 855.0 178.2 855.2 178.5 855.5 179.0 855.8 179.7 856.0 180.5 856.2 181.4 856.5 182.4 856.8 183.5 857.0 184.8 857.2 186.1 857.5 187.4 857.8 188.8 858.0 190.2 858.2 191.6 858.5 193.0 858.8 194.4 859.0 195.8 859.2 197.1 859.5 198.4 859.8 199.6 860.0 200.7 860.2 201.7 860.5 202.5 860.8 203.3 861.0 203.9 861.2 204.3 861.5 204.5 861.8 204.6 862.0 204.5 862.2 204.4 862.5 204.1 862.8 203.9 863.0 203.5 863.2 203.1 863.5 202.7 863.8 202.3 864.0 201.9 864.2 201.5 864.5 201.1 864.8 200.8 865.0 200.5 865.2 200.3 865.5 200.1 865.8 200.0 866.0 200.0 866.2 200.0 866.5 200.0 866.8 200.0 867.0 200.0 867.2 200.0 867.5 200.0 867.8 199.9 868.0 199.9 868.2 199.9 868.5 199.9 868.8 199.0 869.0 196.5 869.2 192.4 869.5 187.1 869.8 180.7 870.0 173.4 870.2 165.4 870.5 156.8 870.8 147.9 871.0 138.7 871.2 129.6 871.5 120.6 871.8 112.0 872.0 104.0 872.2 96.7 872.5 90.3 872.8 85.0 873.0 81.0 873.2 78.5 873.5 77.6 873.8 78.2 874.0 79.8 874.2 82.4 874.5 85.7 874.8 89.7 875.0 94.3 875.2 99.3 875.5 104.6 875.8 110.1 876.0 115.6 876.2 121.0 876.5 126.3 876.8 131.2 877.0 135.7 877.2 139.6 877.5 142.8 877.8 145.2 878.0 146.6 878.2 146.9 878.5 146.8 878.8 146.6 879.0 146.3 879.2 146.0 879.5 145.6 879.8 145.4 880.0 145.2 880.2 145.1 880.5 145.3 880.8 145.8 881.0 146.6 881.2 147.5 881.5 148.5 881.8 149.6 882.0 150.7 882.2 151.9 882.5 153.0 882.8 154.0 883.0 154.8 883.2 155.4 883.5 155.8 883.8 155.9 884.0 155.0 884.2 153.1 884.5 150.3 884.8 146.8 885.0 142.8 885.2 138.3 885.5 133.7 885.8 129.0 886.0 124.4 886.2 120.2 886.5 116.4 886.8 113.3 887.0 111.0 887.2 109.7 887.5 109.6 887.8 110.9 888.0 113.3 888.2 116.8 888.5 120.9 888.8 125.6 889.0 130.5 889.2 135.5 889.5 140.3 889.8 144.7 890.0 148.4 890.2 151.3 890.5 153.0 890.8 153.5 891.0 153.4 891.2 153.3 891.5 153.1 891.8 152.9 892.0 152.6 892.2 152.3 892.5 152.0 892.8 151.7 893.0 151.4 893.2 151.1 893.5 150.9 893.8 150.6 894.0 150.5 894.2 150.3 894.5 150.1 894.8 150.0 895.0 149.8 895.2 149.6 895.5 149.3 895.8 149.0 896.0 147.8 896.2 145.5 896.5 142.1 896.8 138.0 897.0 133.1 897.2 127.6 897.5 121.7 897.8 115.5 898.0 109.1 898.2 102.6 898.5 96.3 898.8 90.2 899.0 84.5 899.2 79.3 899.5 74.7 899.8 70.9 900.0 68.0 900.2 66.2 900.5 65.5 900.8 66.1 901.0 67.6 901.2 69.9 901.5 73.0 901.8 76.7 902.0 80.9 902.2 85.5 902.5 90.4 902.8 95.4 903.0 100.4 903.2 105.3 903.5 110.0 903.8 114.4 904.0 118.3 904.2 121.7 904.5 124.3 904.8 126.2 905.0 127.1 905.2 127.2 905.5 127.2 905.8 127.2 906.0 127.1 906.2 127.1 906.5 127.1 906.8 127.1 907.0 127.1 907.2 127.0 907.5 127.0 907.8 127.0 908.0 127.0 908.2 127.2 908.5 127.4 908.8 127.7 909.0 128.0 909.2 128.4 909.5 128.9 909.8 129.4 910.0 130.0 910.2 130.6 910.5 131.3 910.8 132.0 911.0 132.7 911.2 133.4 911.5 134.1 911.8 134.9 912.0 135.6 912.2 136.3 912.5 137.0 912.8 137.7 913.0 138.4 913.2 139.0 913.5 139.6 913.8 140.3 914.0 141.0 914.2 141.7 914.5 142.5 914.8 143.4 915.0 144.2 915.2 145.0 915.5 145.7 915.8 146.5 916.0 147.1 916.2 147.7 916.5 148.1 916.8 148.5 917.0 148.7 917.2 148.7 917.5 147.2 917.8 143.8 918.0 138.7 918.2 132.2 918.5 124.5 918.8 115.8 919.0 106.5 919.2 96.7 919.5 86.7 919.8 76.8 920.0 67.1 920.2 58.0 920.5 49.7 920.8 42.5 921.0 36.5 921.2 32.1 921.5 29.4 921.8 28.7 922.0 29.3 922.2 30.8 922.5 32.9 922.8 35.8 923.0 39.2 923.2 43.1 923.5 47.4 923.8 52.0 924.0 56.9 924.2 62.0 924.5 67.1 924.8 72.2 925.0 77.3 925.2 82.2 925.5 86.9 925.8 91.2 926.0 95.1 926.2 98.5 926.5 101.4 926.8 103.6 927.0 105.1 927.2 105.7 927.5 106.0 927.8 106.2 928.0 106.4 928.2 106.6 928.5 106.9 928.8 107.4 929.0 108.2 929.2 109.1 929.5 110.1 929.8 111.3 930.0 112.7 930.2 114.1 930.5 115.7 930.8 117.2 931.0 118.9 931.2 120.5 931.5 122.1 931.8 123.7 932.0 125.3 932.2 127.1 932.5 129.2 932.8 131.5 933.0 133.9 933.2 136.2 933.5 138.2 933.8 139.9 934.0 141.1 934.2 141.6 934.5 141.1 934.8 139.1 935.0 135.8 935.2 131.3 935.5 125.8 935.8 119.6 936.0 112.7 936.2 105.4 936.5 97.8 936.8 90.1 937.0 82.6 937.2 75.4 937.5 68.6 937.8 62.5 938.0 57.2 938.2 52.9 938.5 49.8 938.8 48.1 939.0 47.9 939.2 48.9 939.5 50.9 939.8 53.8 940.0 57.5 940.2 61.9 940.5 66.7 940.8 72.0 941.0 77.6 941.2 83.3 941.5 89.1 941.8 94.8 942.0 100.4 942.2 105.6 942.5 110.4 942.8 114.7 943.0 118.3 943.2 121.1 943.5 123.0 943.8 123.9 944.0 124.4 944.2 124.7 944.5 125.0 944.8 125.3 945.0 125.5 945.2 125.8 945.5 126.1 945.8 126.4 946.0 126.9 946.2 127.5 946.5 128.4 946.8 129.3 947.0 130.4 947.2 131.6 947.5 133.0 947.8 134.4 948.0 135.9 948.2 137.5 948.5 139.1 948.8 140.7 949.0 142.4 949.2 144.0 949.5 145.6 949.8 147.3 950.0 148.8 950.2 150.3 950.5 151.8 950.8 153.1 951.0 154.3 951.2 155.4 951.5 156.4 951.8 157.2 952.0 157.9 952.2 158.5 952.5 159.0 952.8 159.5 953.0 160.0 953.2 160.5 953.5 160.9 953.8 161.4 954.0 161.8 954.2 162.1 954.5 162.5 954.8 162.8 955.0 163.2 955.2 163.5 955.5 163.8 955.8 164.0 956.0 164.3 956.2 164.5 956.5 164.7 956.8 164.9 957.0 165.1 957.2 165.3 957.5 165.5 957.8 165.7 958.0 165.9 958.2 166.0 958.5 166.1 958.8 166.2 959.0 166.3 959.2 166.2 959.5 165.0 959.8 162.1 960.0 157.8 960.2 152.2 960.5 145.6 960.8 138.1 961.0 130.0 961.2 121.3 961.5 112.5 961.8 103.5 962.0 94.6 962.2 86.1 962.5 78.1 962.8 70.8 963.0 64.3 963.2 59.0 963.5 54.9 963.8 52.4 964.0 51.5 964.2 51.9 964.5 53.1 964.8 55.0 965.0 57.6 965.2 60.8 965.5 64.4 965.8 68.5 966.0 73.0 966.2 77.7 966.5 82.7 966.8 87.8 967.0 93.0 967.2 98.2 967.5 103.4 967.8 108.4 968.0 113.2 968.2 117.7 968.5 121.8 968.8 125.5 969.0 128.8 969.2 131.4 969.5 133.5 969.8 134.8 970.0 135.5 970.2 136.0 970.5 136.5 970.8 136.9 971.0 137.3 971.2 137.8 971.5 138.4 971.8 139.2 972.0 140.1 972.2 141.0 972.5 142.1 972.8 143.2 973.0 144.4 973.2 145.6 973.5 146.9 973.8 148.3 974.0 149.6 974.2 151.1 974.5 152.5 974.8 153.9 975.0 155.4 975.2 156.8 975.5 158.2 975.8 159.6 976.0 161.0 976.2 162.4 976.5 163.7 976.8 165.2 977.0 166.8 977.2 168.5 977.5 170.3 977.8 172.1 978.0 173.9 978.2 175.5 978.5 177.0 978.8 178.4 979.0 179.5 979.2 180.3 979.5 180.8 979.8 180.9 980.0 179.9 980.2 177.6 980.5 174.2 980.8 169.8 981.0 164.6 981.2 158.7 981.5 152.3 981.8 145.5 982.0 138.4 982.2 131.4 982.5 124.4 982.8 117.7 983.0 111.3 983.2 105.5 983.5 100.5 983.8 96.3 984.0 93.1 984.2 91.0 984.5 90.3 984.8 90.8 985.0 92.2 985.2 94.4 985.5 97.3 985.8 100.8 986.0 104.8 986.2 109.2 986.5 113.9 986.8 118.7 987.0 123.7 987.2 128.6 987.5 133.5 987.8 138.1 988.0 142.3 988.2 146.2 988.5 149.5 988.8 152.2 989.0 154.2 989.2 155.3 989.5 155.5 989.8 155.6 990.0 155.6 990.2 155.7 990.5 155.7 990.8 155.7 991.0 155.8 991.2 155.8 991.5 155.8 991.8 155.9 992.0 156.1 992.2 156.4 992.5 157.0 992.8 157.8 993.0 158.6 993.2 159.7 993.5 160.8 993.8 162.0 994.0 163.2 994.2 164.5 994.5 165.8 994.8 167.1 995.0 168.4 995.2 169.5 995.5 170.8 995.8 172.3 996.0 174.0 996.2 175.7 996.5 177.4 996.8 178.9 997.0 180.2 997.2 181.1 997.5 181.6 997.8 181.4 998.0 179.6 998.2 176.4 998.5 172.0 998.8 166.6 999.0 160.5 999.2 153.7 999.5 146.6 999.8 139.3 1000.0 132.1 1000.2 125.1 1000.5 118.5 1000.8 112.7 1001.0 107.6 1001.2 103.7 1001.5 101.1 1001.8 99.9 1002.0 100.2 1002.2 101.3 1002.5 103.2 1002.8 105.8 1003.0 108.9 1003.2 112.6 1003.5 116.6 1003.8 121.0 1004.0 125.5 1004.2 130.2 1004.5 135.0 1004.8 139.6 1005.0 144.2 1005.2 148.5 1005.5 152.4 1005.8 156.0 1006.0 159.0 1006.2 161.4 1006.5 163.2 1006.8 164.1 1007.0 164.4 1007.2 164.6 1007.5 164.8 1007.8 165.0 1008.0 165.2 1008.2 165.5 1008.5 165.9 1008.8 166.3 1009.0 166.8 1009.2 167.4 1009.5 168.0 1009.8 168.7 1010.0 169.4 1010.2 170.1 1010.5 170.9" fill="none" stroke="#ff0000" stroke-width="2" stroke-linejoin="round"/>
<path d="M67.5 276.9 L67.8 276.4 68.0 275.9 68.2 275.4 68.5 275.0 68.8 274.5 69.0 274.1 69.2 273.7 69.5 273.2 69.8 272.8 70.0 272.5 70.2 272.1 70.5 271.8 70.8 271.5 71.0 271.2 71.2 271.0 71.5 270.7 71.8 270.6 72.0 270.4 72.2 270.3 72.5 270.2 72.8 270.2 73.0 270.2 73.2 270.2 73.5 270.3 73.8 270.3 74.0 270.4 74.2 270.5 74.5 270.6 74.8 270.7 75.0 270.8 75.2 270.9 75.5 271.1 75.8 271.2 76.0 271.3 76.2 271.5 76.5 271.6 76.8 271.7 77.0 271.8 77.2 271.9 77.5 272.0 77.8 272.1 78.0 272.1 78.2 272.2 78.5 272.2 78.8 272.2 79.0 272.2 79.2 272.1 79.5 272.1 79.8 272.0 80.0 271.9 80.2 271.8 80.5 271.7 80.8 271.6 81.0 271.4 81.2 271.3 81.5 271.1 81.8 271.0 82.0 270.8 82.2 270.6 82.5 270.5 82.8 270.3 83.0 270.1 83.2 270.0 83.5 269.8 83.8 269.6 84.0 269.5 84.2 269.3 84.5 269.2 84.8 269.1 85.0 268.9 85.2 268.8 85.5 268.8 85.8 268.7 86.0 268.6 86.2 268.6 86.5 268.6 86.8 268.6 87.0 268.6 87.2 268.7 87.5 268.7 87.8 268.7 88.0 268.8 88.2 268.9 88.5 268.9 88.8 269.0 89.0 269.1 89.2 269.2 89.5 269.2 89.8 269.3 90.0 269.4 90.2 269.5 90.5 269.6 90.8 269.7 91.0 269.8 91.2 269.8 91.5 269.9 91.8 270.0 92.0 270.0 92.2 270.1 92.5 270.1 92.8 270.2 93.0 270.2 93.2 270.2 93.5 270.2 93.8 270.2 94.0 270.1 94.2 270.1 94.5 270.0 94.8 270.0 95.0 269.9 95.2 269.7 95.5 269.6 95.8 269.5 96.0 269.3 96.2 269.2 96.5 269.0 96.8 268.8 97.0 268.6 97.2 268.4 97.5 268.2 97.8 267.9 98.0 267.7 98.2 267.4 98.5 267.2 98.8 266.9 99.0 266.6 99.2 266.4 99.5 266.0 99.8 265.6 100.0 265.1 100.2 264.5 100.5 263.8 100.8 263.1 101.0 262.3 101.2 261.5 101.5 260.6 101.8 259.7 102.0 258.8 102.2 257.9 102.5 256.9 102.8 256.0 103.0 255.2 103.2 254.3 103.5 253.4 103.8 252.4 104.0 251.4 104.2 250.2 104.5 249.1 104.8 247.9 105.0 246.7 105.2 245.5 105.5 244.4 105.8 243.3 106.0 242.3 106.2 241.4 106.5 240.6 106.8 239.9 107.0 239.4 107.2 239.0 107.5 238.8 107.8 238.7 108.0 238.6 108.2 238.6 108.5 238.5 108.8 238.5 109.0 238.4 109.2 238.4 109.5 238.3 109.8 238.3 110.0 238.3 110.2 238.2 110.5 238.2 110.8 238.2 111.0 238.1 111.2 238.1 111.5 238.1 111.8 238.0 112.0 238.0 112.2 238.0 112.5 237.9 112.8 237.9 113.0 237.8 113.2 237.7 113.5 237.7 113.8 237.6 114.0 237.5 114.2 237.4 114.5 237.2 114.8 237.1 115.0 237.0 115.2 236.9 115.5 236.7 115.8 236.6 116.0 236.4 116.2 236.3 116.5 236.1 116.8 236.0 117.0 235.9 117.2 235.7 117.5 235.6 117.8 235.4 118.0 235.3 118.2 235.2 118.5 235.1 118.8 235.0 119.0 234.9 119.2 234.8 119.5 234.7 119.8 234.6 120.0 234.6 120.2 234.5 120.5 234.5 120.8 234.5 121.0 234.5 121.2 234.5 121.5 234.5 121.8 234.6 122.0 234.6 122.2 234.7 122.5 234.7 122.8 234.8 123.0 234.8 123.2 234.9 123.5 234.9 123.8 235.0 124.0 235.1 124.2 235.1 124.5 235.2 124.8 235.2 125.0 235.3 125.2 235.3 125.5 235.4 125.8 235.4 126.0 235.5 126.2 235.5 126.5 235.5 126.8 235.5 127.0 235.5 127.2 235.4 127.5 235.3 127.8 235.2 128.0 235.0 128.2 234.8 128.5 234.6 128.8 234.3 129.0 234.0 129.2 233.8 129.5 233.5 129.8 233.2 130.0 232.9 130.2 232.6 130.5 232.3 130.8 232.0 131.0 231.7 131.2 231.4 131.5 231.1 131.8 230.8 132.0 230.5 132.2 230.2 132.5 229.8 132.8 229.5 133.0 229.1 133.2 228.7 133.5 228.3 133.8 228.0 134.0 227.6 134.2 227.3 134.5 227.0 134.8 226.8 135.0 226.6 135.2 226.5 135.5 226.5 135.8 226.5 136.0 226.6 136.2 226.7 136.5 226.9 136.8 227.0 137.0 227.3 137.2 227.5 137.5 227.8 137.8 228.1 138.0 228.4 138.2 228.7 138.5 229.0 138.8 229.4 139.0 229.7 139.2 230.0 139.5 230.3 139.8 230.7 140.0 231.0 140.2 231.2 140.5 231.5 140.8 231.8 141.0 232.1 141.2 232.4 141.5 232.7 141.8 233.0 142.0 233.3 142.2 233.7 142.5 234.0 142.8 234.4 143.0 234.7 143.2 235.1 143.5 235.4 143.8 235.8 144.0 236.1 144.2 236.5 144.5 236.8 144.8 237.1 145.0 237.5 145.2 237.8 145.5 238.0 145.8 238.3 146.0 238.6 146.2 238.8 146.5 239.0 146.8 239.2 147.0 239.4 147.2 239.5 147.5 239.6 147.8 239.7 148.0 239.8 148.2 239.8 148.5 239.8 148.8 239.7 149.0 239.6 149.2 239.5 149.5 239.4 149.8 239.2 150.0 239.0 150.2 238.8 150.5 238.6 150.8 238.3 151.0 238.1 151.2 237.8 151.5 237.6 151.8 237.3 152.0 237.1 152.2 236.9 152.5 236.6 152.8 236.3 153.0 235.9 153.2 235.5 153.5 235.1 153.8 234.7 154.0 234.2 154.2 233.8 154.5 233.4 154.8 233.0 155.0 232.6 155.2 232.3 155.5 232.0 155.8 231.7 156.0 231.6 156.2 231.4 156.5 231.4 156.8 231.4 157.0 231.5 157.2 231.7 157.5 231.9 157.8 232.2 158.0 232.5 158.2 232.8 158.5 233.2 158.8 233.6 159.0 234.0 159.2 234.5 159.5 234.9 159.8 235.4 160.0 235.8 160.2 236.3 160.5 236.7 160.8 237.1 161.0 237.5 161.2 237.9 161.5 238.2 161.8 238.5 162.0 238.8 162.2 239.0 162.5 239.3 162.8 239.5 163.0 239.7 163.2 239.9 163.5 240.2 163.8 240.4 164.0 240.6 164.2 240.8 164.5 241.0 164.8 241.2 165.0 241.4 165.2 241.6 165.5 241.8 165.8 242.0 166.0 242.1 166.2 242.3 166.5 242.5 166.8 242.6 167.0 242.8 167.2 242.9 167.5 243.1 167.8 243.2 168.0 243.3 168.2 243.4 168.5 243.5 168.8 243.6 169.0 243.7 169.2 243.8 169.5 243.9 169.8 243.9 170.0 244.0 170.2 244.1 170.5 244.1 170.8 244.1 171.0 244.2 171.2 244.2 171.5 244.3 171.8 244.4 172.0 244.4 172.2 244.5 172.5 244.6 172.8 244.7 173.0 244.8 173.2 245.0 173.5 245.2 173.8 245.5 174.0 245.9 174.2 246.2 174.5 246.7 174.8 247.1 175.0 247.6 175.2 248.0 175.5 248.5 175.8 249.0 176.0 249.5 176.2 250.0 176.5 250.5 176.8 251.0 177.0 251.4 177.2 251.8 177.5 252.2 177.8 252.6 178.0 252.9 178.2 253.2 178.5 253.6 178.8 253.9 179.0 254.2 179.2 254.6 179.5 254.9 179.8 255.2 180.0 255.5 180.2 255.8 180.5 256.1 180.8 256.4 181.0 256.7 181.2 257.0 181.5 257.3 181.8 257.6 182.0 257.9 182.2 258.1 182.5 258.4 182.8 258.6 183.0 258.9 183.2 259.1 183.5 259.3 183.8 259.5 184.0 259.7 184.2 259.9 184.5 260.0 184.8 260.2 185.0 260.4 185.2 260.5 185.5 260.7 185.8 260.8 186.0 261.0 186.2 261.2 186.5 261.4 186.8 261.6 187.0 261.9 187.2 262.2 187.5 262.5 187.8 262.8 188.0 263.2 188.2 263.6 188.5 263.9 188.8 264.3 189.0 264.7 189.2 265.1 189.5 265.5 189.8 265.9 190.0 266.3 190.2 266.7 190.5 267.0 190.8 267.4 191.0 267.7 191.2 268.0 191.5 268.3 191.8 268.6 192.0 268.9 192.2 269.3 192.5 269.6 192.8 269.9 193.0 270.3 193.2 270.6 193.5 270.9 193.8 271.3 194.0 271.6 194.2 271.9 194.5 272.2 194.8 272.5 195.0 272.7 195.2 273.0 195.5 273.2 195.8 273.4 196.0 273.6 196.2 273.8 196.5 273.9 196.8 274.0 197.0 274.1 197.2 274.1 197.5 274.1 197.8 274.0 198.0 273.9 198.2 273.7 198.5 273.6 198.8 273.3 199.0 273.1 199.2 272.8 199.5 272.5 199.8 272.1 200.0 271.8 200.2 271.4 200.5 271.1 200.8 270.7 201.0 270.3 201.2 270.0 201.5 269.6 201.8 269.3 202.0 268.9 202.2 268.6 202.5 268.3 202.8 268.1 203.0 267.8 203.2 267.7 203.5 267.5 203.8 267.4 204.0 267.3 204.2 267.3 204.5 267.3 204.8 267.4 205.0 267.6 205.2 267.7 205.5 267.9 205.8 268.2 206.0 268.4 206.2 268.7 206.5 269.0 206.8 269.3 207.0 269.6 207.2 269.9 207.5 270.2 207.8 270.5 208.0 270.8 208.2 271.1 208.5 271.3 208.8 271.5 209.0 271.7 209.2 271.9 209.5 272.1 209.8 272.2 210.0 272.4 210.2 272.5 210.5 272.7 210.8 272.9 211.0 273.0 211.2 273.2 211.5 273.3 211.8 273.5 212.0 273.6 212.2 273.7 212.5 273.9 212.8 274.0 213.0 274.1 213.2 274.2 213.5 274.3 213.8 274.3 214.0 274.4 214.2 274.4 214.5 274.5 214.8 274.5 215.0 274.5 215.2 274.5 215.5 274.4 215.8 274.2 216.0 274.0 216.2 273.8 216.5 273.6 216.8 273.3 217.0 273.0 217.2 272.7 217.5 272.4 217.8 272.0 218.0 271.7 218.2 271.3 218.5 271.0 218.8 270.6 219.0 270.2 219.2 269.9 219.5 269.6 219.8 269.3 220.0 268.9 220.2 268.6 220.5 268.2 220.8 267.8 221.0 267.4 221.2 266.9 221.5 266.5 221.8 266.0 222.0 265.6 222.2 265.2 222.5 264.9 222.8 264.6 223.0 264.3 223.2 264.1 223.5 264.0 223.8 263.9 224.0 263.9 224.2 263.9 224.5 264.0 224.8 264.1 225.0 264.2 225.2 264.3 225.5 264.4 225.8 264.6 226.0 264.7 226.2 264.9 226.5 265.1 226.8 265.3 227.0 265.5 227.2 265.7 227.5 265.9 227.8 266.1 228.0 266.3 228.2 266.5 228.5 266.7 228.8 266.9 229.0 267.1 229.2 267.3 229.5 267.4 229.8 267.6 230.0 267.7 230.2 267.9 230.5 268.0 230.8 268.1 231.0 268.1 231.2 268.2 231.5 268.2 231.8 268.2 232.0 268.2 232.2 268.2 232.5 268.1 232.8 268.1 233.0 268.0 233.2 267.9 233.5 267.9 233.8 267.8 234.0 267.7 234.2 267.6 234.5 267.5 234.8 267.3 235.0 267.2 235.2 267.1 235.5 266.9 235.8 266.8 236.0 266.6 236.2 266.5 236.5 266.3 236.8 266.1 237.0 265.7 237.2 265.2 237.5 264.7 237.8 264.0 238.0 263.3 238.2 262.6 238.5 261.8 238.8 260.9 239.0 260.1 239.2 259.2 239.5 258.3 239.8 257.5 240.0 256.7 240.2 256.0 240.5 255.3 240.8 254.7 241.0 254.1 241.2 253.7 241.5 253.4 241.8 253.1 242.0 252.8 242.2 252.5 242.5 252.2 242.8 251.9 243.0 251.7 243.2 251.5 243.5 251.3 243.8 251.2 244.0 251.1 244.2 251.0 244.5 251.0 244.8 251.0 245.0 251.0 245.2 251.0 245.5 251.1 245.8 251.1 246.0 251.1 246.2 251.1 246.5 251.2 246.8 251.2 247.0 251.3 247.2 251.3 247.5 251.3 247.8 251.4 248.0 251.4 248.2 251.4 248.5 251.5 248.8 251.5 249.0 251.5 249.2 251.6 249.5 251.6 249.8 251.6 250.0 251.6 250.2 251.6 250.5 251.6 250.8 251.5 251.0 251.3 251.2 251.2 251.5 250.9 251.8 250.7 252.0 250.4 252.2 250.1 252.5 249.7 252.8 249.3 253.0 249.0 253.2 248.5 253.5 248.1 253.8 247.7 254.0 247.3 254.2 246.8 254.5 246.4 254.8 246.0 255.0 245.5 255.2 245.1 255.5 244.7 255.8 244.4 256.0 244.0 256.2 243.7 256.5 243.4 256.8 243.1 257.0 242.9 257.2 242.7 257.5 242.6 257.8 242.5 258.0 242.4 258.2 242.4 258.5 242.4 258.8 242.5 259.0 242.5 259.2 242.6 259.5 242.6 259.8 242.7 260.0 242.8 260.2 242.9 260.5 243.0 260.8 243.1 261.0 243.3 261.2 243.4 261.5 243.5 261.8 243.7 262.0 243.8 262.2 243.9 262.5 244.1 262.8 244.2 263.0 244.4 263.2 244.5 263.5 244.6 263.8 244.8 264.0 244.9 264.2 245.0 264.5 245.1 264.8 245.2 265.0 245.3 265.2 245.4 265.5 245.5 265.8 245.6 266.0 245.6 266.2 245.7 266.5 245.7 266.8 245.7 267.0 245.7 267.2 245.6 267.5 245.5 267.8 245.4 268.0 245.2 268.2 245.0 268.5 244.7 268.8 244.4 269.0 244.1 269.2 243.8 269.5 243.4 269.8 243.1 270.0 242.7 270.2 242.3 270.5 241.8 270.8 241.4 271.0 241.0 271.2 240.5 271.5 240.1 271.8 239.6 272.0 239.2 272.2 238.8 272.5 238.4 272.8 237.9 273.0 237.5 273.2 236.9 273.5 236.4 273.8 235.7 274.0 235.1 274.2 234.4 274.5 233.7 274.8 232.9 275.0 232.2 275.2 231.4 275.5 230.6 275.8 229.8 276.0 229.1 276.2 228.3 276.5 227.6 276.8 226.9 277.0 226.2 277.2 225.6 277.5 225.0 277.8 224.5 278.0 224.0 278.2 223.6 278.5 223.2 278.8 222.9 279.0 222.7 279.2 222.5 279.5 222.5 279.8 222.5 280.0 222.5 280.2 222.5 280.5 222.5 280.8 222.5 281.0 222.5 281.2 222.5 281.5 222.5 281.8 222.5 282.0 222.5 282.2 222.5 282.5 222.5 282.8 222.5 283.0 222.5 283.2 222.5 283.5 222.5 283.8 222.5 284.0 222.5 284.2 222.5 284.5 222.5 284.8 222.5 285.0 222.5 285.2 222.5 285.5 222.5 285.8 222.5 286.0 222.5 286.2 222.5 286.5 222.5 286.8 222.5 287.0 222.4 287.2 222.3 287.5 222.2 287.8 222.1 288.0 221.9 288.2 221.7 288.5 221.5 288.8 221.3 289.0 221.1 289.2 220.8 289.5 220.6 289.8 220.3 290.0 220.0 290.2 219.8 290.5 219.5 290.8 219.2 291.0 218.9 291.2 218.7 291.5 218.4 291.8 218.0 292.0 217.6 292.2 217.2 292.5 216.7 292.8 216.2 293.0 215.6 293.2 215.0 293.5 214.5 293.8 213.9 294.0 213.3 294.2 212.7 294.5 212.1 294.8 211.5 295.0 211.0 295.2 210.5 295.5 210.0 295.8 209.6 296.0 209.2 296.2 208.9 296.5 208.6 296.8 208.4 297.0 208.2 297.2 208.2 297.5 208.2 297.8 208.1 298.0 208.1 298.2 208.1 298.5 208.1 298.8 208.1 299.0 208.1 299.2 208.0 299.5 208.0 299.8 208.0 300.0 208.0 300.2 208.0 300.5 208.0 300.8 208.0 301.0 208.0 301.2 208.0 301.5 208.0 301.8 208.0 302.0 207.9 302.2 207.9 302.5 207.9 302.8 207.9 303.0 207.9 303.2 207.9 303.5 207.9 303.8 207.8 304.0 207.8 304.2 207.8 304.5 207.7 304.8 207.6 305.0 207.5 305.2 207.3 305.5 207.2 305.8 207.0 306.0 206.8 306.2 206.6 306.5 206.4 306.8 206.1 307.0 205.9 307.2 205.6 307.5 205.4 307.8 205.1 308.0 204.9 308.2 204.6 308.5 204.3 308.8 204.1 309.0 203.8 309.2 203.5 309.5 203.1 309.8 202.7 310.0 202.3 310.2 201.8 310.5 201.3 310.8 200.9 311.0 200.4 311.2 199.9 311.5 199.4 311.8 198.9 312.0 198.5 312.2 198.1 312.5 197.7 312.8 197.4 313.0 197.1 313.2 196.9 313.5 196.8 313.8 196.7 314.0 196.7 314.2 196.7 314.5 196.8 314.8 196.8 315.0 196.9 315.2 196.9 315.5 197.0 315.8 197.1 316.0 197.2 316.2 197.3 316.5 197.4 316.8 197.5 317.0 197.7 317.2 197.8 317.5 197.9 317.8 198.0 318.0 198.2 318.2 198.3 318.5 198.4 318.8 198.6 319.0 198.7 319.2 198.8 319.5 198.9 319.8 199.0 320.0 199.1 320.2 199.2 320.5 199.2 320.8 199.3 321.0 199.3 321.2 199.4 321.5 199.4 321.8 199.4 322.0 199.4 322.2 199.3 322.5 199.3 322.8 199.2 323.0 199.1 323.2 199.0 323.5 198.8 323.8 198.7 324.0 198.5 324.2 198.4 324.5 198.2 324.8 198.1 325.0 197.9 325.2 197.8 325.5 197.6 325.8 197.5 326.0 197.4 326.2 197.3 326.5 197.2 326.8 197.1 327.0 197.1 327.2 197.1 327.5 197.1 327.8 197.3 328.0 197.4 328.2 197.7 328.5 197.9 328.8 198.3 329.0 198.6 329.2 199.0 329.5 199.5 329.8 199.9 330.0 200.4 330.2 200.9 330.5 201.4 330.8 201.9 331.0 202.5 331.2 203.0 331.5 203.5 331.8 204.0 332.0 204.5 332.2 205.0 332.5 205.5 332.8 205.9 333.0 206.3 333.2 206.7 333.5 207.0 333.8 207.4 334.0 207.7 334.2 208.1 334.5 208.4 334.8 208.8 335.0 209.1 335.2 209.5 335.5 209.9 335.8 210.2 336.0 210.6 336.2 210.9 336.5 211.2 336.8 211.6 337.0 211.9 337.2 212.2 337.5 212.4 337.8 212.7 338.0 212.9 338.2 213.1 338.5 213.3 338.8 213.4 339.0 213.6 339.2 213.6 339.5 213.7 339.8 213.7 340.0 213.7 340.2 213.6 340.5 213.5 340.8 213.3 341.0 213.1 341.2 212.9 341.5 212.7 341.8 212.4 342.0 212.1 342.2 211.8 342.5 211.4 342.8 211.1 343.0 210.7 343.2 210.4 343.5 210.0 343.8 209.7 344.0 209.3 344.2 209.0 344.5 208.6 344.8 208.3 345.0 208.0 345.2 207.7 345.5 207.4 345.8 207.2 346.0 207.0 346.2 206.8 346.5 206.7 346.8 206.6 347.0 206.5 347.2 206.5 347.5 206.5 347.8 206.7 348.0 206.8 348.2 207.0 348.5 207.3 348.8 207.6 349.0 208.0 349.2 208.4 349.5 208.8 349.8 209.3 350.0 209.7 350.2 210.3 350.5 210.8 350.8 211.3 351.0 211.9 351.2 212.4 351.5 213.0 351.8 213.5 352.0 214.0 352.2 214.6 352.5 215.1 352.8 215.6 353.0 216.0 353.2 216.5 353.5 216.9 353.8 217.3 354.0 217.6 354.2 217.9 354.5 218.2 354.8 218.6 355.0 218.9 355.2 219.3 355.5 219.6 355.8 219.9 356.0 220.3 356.2 220.6 356.5 221.0 356.8 221.3 357.0 221.6 357.2 221.9 357.5 222.2 357.8 222.5 358.0 222.8 358.2 223.0 358.5 223.2 358.8 223.5 359.0 223.6 359.2 223.8 359.5 223.9 359.8 224.1 360.0 224.1 360.2 224.2 360.5 224.2 360.8 224.2 361.0 224.1 361.2 223.9 361.5 223.8 361.8 223.6 362.0 223.3 362.2 223.1 362.5 222.9 362.8 222.7 363.0 222.6 363.2 222.5 363.5 222.4 363.8 222.4 364.0 222.4 364.2 222.5 364.5 222.6 364.8 222.8 365.0 222.9 365.2 223.1 365.5 223.3 365.8 223.6 366.0 223.8 366.2 224.1 366.5 224.4 366.8 224.7 367.0 225.0 367.2 225.4 367.5 226.0 367.8 226.7 368.0 227.6 368.2 228.5 368.5 229.6 368.8 230.7 369.0 231.8 369.2 232.9 369.5 234.0 369.8 235.1 370.0 236.0 370.2 236.9 370.5 237.7 370.8 238.3 371.0 238.9 371.2 239.5 371.5 240.0 371.8 240.6 372.0 241.2 372.2 241.8 372.5 242.3 372.8 242.9 373.0 243.4 373.2 244.0 373.5 244.5 373.8 245.0 374.0 245.5 374.2 246.0 374.5 246.5 374.8 247.0 375.0 247.5 375.2 247.9 375.5 248.3 375.8 248.7 376.0 249.1 376.2 249.5 376.5 249.8 376.8 250.2 377.0 250.5 377.2 250.7 377.5 251.0 377.8 251.2 378.0 251.4 378.2 251.6 378.5 251.7 378.8 251.9 379.0 251.9 379.2 252.0 379.5 252.0 379.8 252.0 380.0 251.9 380.2 251.8 380.5 251.7 380.8 251.5 381.0 251.3 381.2 251.0 381.5 250.8 381.8 250.5 382.0 250.2 382.2 249.9 382.5 249.6 382.8 249.2 383.0 248.9 383.2 248.6 383.5 248.2 383.8 247.9 384.0 247.6 384.2 247.3 384.5 247.0 384.8 246.6 385.0 246.3 385.2 245.9 385.5 245.4 385.8 245.0 386.0 244.5 386.2 244.1 386.5 243.6 386.8 243.1 387.0 242.7 387.2 242.2 387.5 241.8 387.8 241.4 388.0 241.1 388.2 240.8 388.5 240.6 388.8 240.4 389.0 240.3 389.2 240.2 389.5 240.2 389.8 240.3 390.0 240.4 390.2 240.6 390.5 240.8 390.8 241.0 391.0 241.2 391.2 241.5 391.5 241.9 391.8 242.2 392.0 242.6 392.2 242.9 392.5 243.3 392.8 243.7 393.0 244.1 393.2 244.5 393.5 244.9 393.8 245.3 394.0 245.6 394.2 246.0 394.5 246.3 394.8 246.6 395.0 246.9 395.2 247.1 395.5 247.4 395.8 247.7 396.0 247.9 396.2 248.2 396.5 248.5 396.8 248.8 397.0 249.0 397.2 249.3 397.5 249.6 397.8 249.9 398.0 250.1 398.2 250.4 398.5 250.6 398.8 250.8 399.0 251.0 399.2 251.2 399.5 251.4 399.8 251.6 400.0 251.7 400.2 251.8 400.5 251.9 400.8 252.0 401.0 252.0 401.2 252.0 401.5 251.9 401.8 251.9 402.0 251.7 402.2 251.6 402.5 251.4 402.8 251.2 403.0 250.9 403.2 250.7 403.5 250.4 403.8 250.1 404.0 249.7 404.2 249.4 404.5 249.0 404.8 248.7 405.0 248.3 405.2 247.9 405.5 247.5 405.8 247.2 406.0 246.8 406.2 246.4 406.5 246.1 406.8 245.7 407.0 245.4 407.2 245.0 407.5 244.7 407.8 244.4 408.0 244.2 408.2 243.9 408.5 243.7 408.8 243.5 409.0 243.4 409.2 243.2 409.5 243.2 409.8 243.1 410.0 243.1 410.2 243.2 410.5 243.3 410.8 243.4 411.0 243.6 411.2 243.8 411.5 244.1 411.8 244.3 412.0 244.6 412.2 245.0 412.5 245.3 412.8 245.6 413.0 246.0 413.2 246.3 413.5 246.6 413.8 246.9 414.0 247.2 414.2 247.5 414.5 247.8 414.8 248.0 415.0 248.2 415.2 248.3 415.5 248.5 415.8 248.7 416.0 248.9 416.2 249.1 416.5 249.3 416.8 249.5 417.0 249.7 417.2 249.9 417.5 250.1 417.8 250.3 418.0 250.5 418.2 250.6 418.5 250.8 418.8 251.0 419.0 251.1 419.2 251.3 419.5 251.4 419.8 251.5 420.0 251.6 420.2 251.7 420.5 251.8 420.8 251.9 421.0 251.9 421.2 252.0 421.5 252.0 421.8 252.0 422.0 252.0 422.2 251.9 422.5 251.8 422.8 251.7 423.0 251.6 423.2 251.4 423.5 251.2 423.8 251.0 424.0 250.7 424.2 250.5 424.5 250.2 424.8 249.9 425.0 249.6 425.2 249.3 425.5 248.9 425.8 248.6 426.0 248.3 426.2 247.9 426.5 247.5 426.8 247.2 427.0 246.8 427.2 246.5 427.5 246.1 427.8 245.7 428.0 245.2 428.2 244.7 428.5 244.0 428.8 243.4 429.0 242.6 429.2 241.9 429.5 241.1 429.8 240.3 430.0 239.5 430.2 238.6 430.5 237.8 430.8 237.0 431.0 236.3 431.2 235.5 431.5 234.9 431.8 234.2 432.0 233.6 432.2 233.1 432.5 232.7 432.8 232.4 433.0 232.1 433.2 232.0 433.5 232.0 433.8 232.0 434.0 232.0 434.2 232.0 434.5 232.0 434.8 232.1 435.0 232.1 435.2 232.1 435.5 232.2 435.8 232.2 436.0 232.2 436.2 232.3 436.5 232.3 436.8 232.3 437.0 232.4 437.2 232.4 437.5 232.4 437.8 232.5 438.0 232.5 438.2 232.6 438.5 232.6 438.8 232.6 439.0 232.6 439.2 232.7 439.5 232.7 439.8 232.7 440.0 232.7 440.2 232.7 440.5 232.7 440.8 232.7 441.0 232.6 441.2 232.5 441.5 232.4 441.8 232.3 442.0 232.1 442.2 232.0 442.5 231.8 442.8 231.6 443.0 231.4 443.2 231.2 443.5 231.0 443.8 230.8 444.0 230.5 444.2 230.3 444.5 230.1 444.8 229.8 445.0 229.6 445.2 229.4 445.5 229.1 445.8 228.7 446.0 228.4 446.2 227.9 446.5 227.5 446.8 227.0 447.0 226.5 447.2 226.0 447.5 225.4 447.8 224.9 448.0 224.4 448.2 224.0 448.5 223.5 448.8 223.1 449.0 222.8 449.2 222.5 449.5 222.2 449.8 222.1 450.0 222.0 450.2 222.0 450.5 222.0 450.8 222.1 451.0 222.1 451.2 222.2 451.5 222.3 451.8 222.3 452.0 222.4 452.2 222.6 452.5 222.7 452.8 222.8 453.0 222.9 453.2 223.1 453.5 223.2 453.8 223.3 454.0 223.5 454.2 223.6 454.5 223.7 454.8 223.9 455.0 224.0 455.2 224.1 455.5 224.2 455.8 224.3 456.0 224.4 456.2 224.5 456.5 224.6 456.8 224.6 457.0 224.7 457.2 224.7 457.5 224.7 457.8 224.7 458.0 224.6 458.2 224.5 458.5 224.3 458.8 224.2 459.0 223.9 459.2 223.7 459.5 223.4 459.8 223.1 460.0 222.7 460.2 222.4 460.5 222.0 460.8 221.6 461.0 221.2 461.2 220.8 461.5 220.4 461.8 219.9 462.0 219.5 462.2 219.0 462.5 218.6 462.8 218.2 463.0 217.7 463.2 217.3 463.5 216.9 463.8 216.5 464.0 216.1 464.2 215.8 464.5 215.5 464.8 215.1 465.0 214.9 465.2 214.6 465.5 214.4 465.8 214.2 466.0 214.1 466.2 214.0 466.5 213.9 466.8 213.9 467.0 213.9 467.2 214.0 467.5 214.0 467.8 214.1 468.0 214.2 468.2 214.3 468.5 214.4 468.8 214.5 469.0 214.7 469.2 214.8 469.5 215.0 469.8 215.1 470.0 215.3 470.2 215.5 470.5 215.6 470.8 215.8 471.0 216.0 471.2 216.1 471.5 216.3 471.8 216.5 472.0 216.6 472.2 216.8 472.5 216.9 472.8 217.0 473.0 217.2 473.2 217.3 473.5 217.3 473.8 217.4 474.0 217.5 474.2 217.5 474.5 217.5 474.8 217.5 475.0 217.4 475.2 217.3 475.5 217.1 475.8 216.9 476.0 216.6 476.2 216.3 476.5 216.0 476.8 215.6 477.0 215.2 477.2 214.8 477.5 214.3 477.8 213.8 478.0 213.3 478.2 212.8 478.5 212.3 478.8 211.7 479.0 211.1 479.2 210.6 479.5 210.0 479.8 209.4 480.0 208.8 480.2 208.2 480.5 207.6 480.8 207.1 481.0 206.5 481.2 205.9 481.5 205.4 481.8 204.9 482.0 204.4 482.2 203.9 482.5 203.4 482.8 203.0 483.0 202.6 483.2 202.2 483.5 201.9 483.8 201.5 484.0 201.3 484.2 201.0 484.5 200.9 484.8 200.7 485.0 200.6 485.2 200.6 485.5 200.6 485.8 200.6 486.0 200.6 486.2 200.7 486.5 200.7 486.8 200.7 487.0 200.8 487.2 200.8 487.5 200.8 487.8 200.9 488.0 201.0 488.2 201.0 488.5 201.1 488.8 201.1 489.0 201.2 489.2 201.3 489.5 201.3 489.8 201.4 490.0 201.5 490.2 201.5 490.5 201.6 490.8 201.7 491.0 201.7 491.2 201.8 491.5 201.9 491.8 201.9 492.0 202.0 492.2 202.0 492.5 202.1 492.8 202.1 493.0 202.1 493.2 202.2 493.5 202.2 493.8 202.2 494.0 202.2 494.2 202.2 494.5 202.1 494.8 202.0 495.0 201.9 495.2 201.7 495.5 201.5 495.8 201.3 496.0 201.0 496.2 200.7 496.5 200.4 496.8 200.0 497.0 199.7 497.2 199.3 497.5 198.9 497.8 198.4 498.0 198.0 498.2 197.5 498.5 197.1 498.8 196.6 499.0 196.1 499.2 195.7 499.5 195.2 499.8 194.8 500.0 194.3 500.2 193.8 500.5 193.2 500.8 192.6 501.0 191.9 501.2 191.1 501.5 190.3 501.8 189.5 502.0 188.6 502.2 187.7 502.5 186.8 502.8 185.8 503.0 184.9 503.2 183.9 503.5 183.0 503.8 182.1 504.0 181.2 504.2 180.3 504.5 179.5 504.8 178.7 505.0 177.9 505.2 177.3 505.5 176.6 505.8 176.1 506.0 175.6 506.2 175.2 506.5 174.9 506.8 174.8 507.0 174.7 507.2 174.6 507.5 174.6 507.8 174.5 508.0 174.4 508.2 174.4 508.5 174.4 508.8 174.3 509.0 174.3 509.2 174.3 509.5 174.2 509.8 174.2 510.0 174.2 510.2 174.2 510.5 174.1 510.8 174.1 511.0 174.1 511.2 174.1 511.5 174.1 511.8 174.0 512.0 174.0 512.2 174.0 512.5 173.9 512.8 173.9 513.0 173.8 513.2 173.8 513.5 173.7 513.8 173.7 514.0 173.6 514.2 173.5 514.5 173.4 514.8 173.2 515.0 173.1 515.2 172.9 515.5 172.7 515.8 172.5 516.0 172.3 516.2 172.1 516.5 171.9 516.8 171.7 517.0 171.5 517.2 171.3 517.5 171.1 517.8 170.9 518.0 170.8 518.2 170.6 518.5 170.5 518.8 170.4 519.0 170.3 519.2 170.2 519.5 170.2 519.8 170.2 520.0 170.3 520.2 170.5 520.5 170.7 520.8 171.0 521.0 171.3 521.2 171.7 521.5 172.1 521.8 172.6 522.0 173.1 522.2 173.6 522.5 174.1 522.8 174.6 523.0 175.2 523.2 175.7 523.5 176.3 523.8 176.8 524.0 177.3 524.2 177.8 524.5 178.2 524.8 178.6 525.0 179.0 525.2 179.3 525.5 179.6 525.8 179.8 526.0 180.1 526.2 180.3 526.5 180.5 526.8 180.8 527.0 181.0 527.2 181.2 527.5 181.5 527.8 181.7 528.0 181.9 528.2 182.1 528.5 182.3 528.8 182.5 529.0 182.7 529.2 182.9 529.5 183.0 529.8 183.2 530.0 183.4 530.2 183.5 530.5 183.6 530.8 183.7 531.0 183.8 531.2 183.9 531.5 184.0 531.8 184.0 532.0 184.1 532.2 184.1 532.5 184.1 532.8 184.1 533.0 184.0 533.2 183.8 533.5 183.7 533.8 183.5 534.0 183.2 534.2 183.0 534.5 182.7 534.8 182.3 535.0 182.0 535.2 181.6 535.5 181.2 535.8 180.7 536.0 180.3 536.2 179.8 536.5 179.3 536.8 178.8 537.0 178.3 537.2 177.8 537.5 177.3 537.8 176.8 538.0 176.3 538.2 175.7 538.5 175.2 538.8 174.7 539.0 174.2 539.2 173.7 539.5 173.2 539.8 172.7 540.0 172.2 540.2 171.7 540.5 171.3 540.8 170.9 541.0 170.5 541.2 170.1 541.5 169.8 541.8 169.5 542.0 169.2 542.2 168.9 542.5 168.7 542.8 168.5 543.0 168.4 543.2 168.3 543.5 168.2 543.8 168.2 544.0 168.2 544.2 168.3 544.5 168.5 544.8 168.7 545.0 168.9 545.2 169.2 545.5 169.5 545.8 169.8 546.0 170.2 546.2 170.5 546.5 170.9 546.8 171.3 547.0 171.8 547.2 172.2 547.5 172.6 547.8 173.0 548.0 173.4 548.2 173.8 548.5 174.1 548.8 174.5 549.0 174.8 549.2 175.1 549.5 175.3 549.8 175.5 550.0 175.7 550.2 175.8 550.5 176.0 550.8 176.1 551.0 176.2 551.2 176.3 551.5 176.4 551.8 176.5 552.0 176.6 552.2 176.7 552.5 176.7 552.8 176.8 553.0 176.9 553.2 177.0 553.5 177.0 553.8 177.1 554.0 177.2 554.2 177.2 554.5 177.3 554.8 177.4 555.0 177.5 555.2 177.6 555.5 177.6 555.8 177.7 556.0 177.8 556.2 177.9 556.5 178.0 556.8 178.1 557.0 178.2 557.2 178.4 557.5 178.5 557.8 178.6 558.0 178.7 558.2 178.9 558.5 179.0 558.8 179.2 559.0 179.3 559.2 179.5 559.5 179.7 559.8 179.8 560.0 180.0 560.2 180.3 560.5 180.5 560.8 180.8 561.0 181.1 561.2 181.6 561.5 182.1 561.8 182.6 562.0 183.2 562.2 183.9 562.5 184.6 562.8 185.3 563.0 186.1 563.2 186.9 563.5 187.7 563.8 188.6 564.0 189.5 564.2 190.3 564.5 191.2 564.8 192.1 565.0 192.9 565.2 193.8 565.5 194.6 565.8 195.4 566.0 196.2 566.2 197.0 566.5 197.7 566.8 198.3 567.0 199.0 567.2 199.5 567.5 200.0 567.8 200.5 568.0 200.9 568.2 201.4 568.5 201.8 568.8 202.3 569.0 202.7 569.2 203.2 569.5 203.7 569.8 204.1 570.0 204.5 570.2 205.0 570.5 205.4 570.8 205.8 571.0 206.2 571.2 206.6 571.5 207.0 571.8 207.4 572.0 207.7 572.2 208.0 572.5 208.3 572.8 208.6 573.0 208.9 573.2 209.1 573.5 209.3 573.8 209.5 574.0 209.7 574.2 209.8 574.5 209.9 574.8 210.0 575.0 210.0 575.2 210.0 575.5 209.9 575.8 209.8 576.0 209.7 576.2 209.5 576.5 209.2 576.8 209.0 577.0 208.7 577.2 208.3 577.5 207.9 577.8 207.5 578.0 207.1 578.2 206.7 578.5 206.2 578.8 205.8 579.0 205.3 579.2 204.8 579.5 204.3 579.8 203.8 580.0 203.3 580.2 202.8 580.5 202.3 580.8 201.8 581.0 201.4 581.2 200.9 581.5 200.5 581.8 200.1 582.0 199.7 582.2 199.3 582.5 199.0 582.8 198.7 583.0 198.5 583.2 198.2 583.5 198.1 583.8 197.9 584.0 197.8 584.2 197.8 584.5 197.8 584.8 197.9 585.0 198.1 585.2 198.2 585.5 198.5 585.8 198.8 586.0 199.1 586.2 199.5 586.5 199.8 586.8 200.3 587.0 200.7 587.2 201.1 587.5 201.5 587.8 202.0 588.0 202.4 588.2 202.8 588.5 203.2 588.8 203.5 589.0 203.9 589.2 204.2 589.5 204.4 589.8 204.7 590.0 205.1 590.2 205.4 590.5 205.7 590.8 206.0 591.0 206.4 591.2 206.7 591.5 207.0 591.8 207.4 592.0 207.7 592.2 208.0 592.5 208.4 592.8 208.7 593.0 209.0 593.2 209.3 593.5 209.6 593.8 209.9 594.0 210.2 594.2 210.5 594.5 210.8 594.8 211.0 595.0 211.3 595.2 211.5 595.5 211.8 595.8 212.0 596.0 212.1 596.2 212.3 596.5 212.5 596.8 212.6 597.0 212.7 597.2 212.8 597.5 212.8 597.8 212.9 598.0 212.9 598.2 212.9 598.5 212.8 598.8 212.7 599.0 212.5 599.2 212.4 599.5 212.1 599.8 211.9 600.0 211.6 600.2 211.3 600.5 210.9 600.8 210.5 601.0 210.1 601.2 209.7 601.5 209.3 601.8 208.9 602.0 208.4 602.2 208.0 602.5 207.5 602.8 207.0 603.0 206.6 603.2 206.1 603.5 205.6 603.8 205.2 604.0 204.7 604.2 204.3 604.5 203.8 604.8 203.4 605.0 203.0 605.2 202.7 605.5 202.3 605.8 202.0 606.0 201.7 606.2 201.4 606.5 201.2 606.8 201.0 607.0 200.8 607.2 200.7 607.5 200.6 607.8 200.6 608.0 200.6 608.2 200.6 608.5 200.7 608.8 200.7 609.0 200.8 609.2 200.8 609.5 200.9 609.8 201.0 610.0 201.1 610.2 201.2 610.5 201.4 610.8 201.5 611.0 201.6 611.2 201.8 611.5 201.9 611.8 202.1 612.0 202.2 612.2 202.3 612.5 202.5 612.8 202.6 613.0 202.8 613.2 202.9 613.5 203.1 613.8 203.2 614.0 203.3 614.2 203.5 614.5 203.6 614.8 203.7 615.0 203.8 615.2 203.9 615.5 203.9 615.8 204.0 616.0 204.0 616.2 204.1 616.5 204.1 616.8 204.1 617.0 204.1 617.2 204.0 617.5 203.9 617.8 203.7 618.0 203.6 618.2 203.4 618.5 203.1 618.8 202.9 619.0 202.6 619.2 202.4 619.5 202.1 619.8 201.8 620.0 201.5 620.2 201.2 620.5 200.9 620.8 200.6 621.0 200.3 621.2 200.0 621.5 199.7 621.8 199.5 622.0 199.3 622.2 199.1 622.5 198.9 622.8 198.8 623.0 198.7 623.2 198.6 623.5 198.6 623.8 198.6 624.0 198.6 624.2 198.7 624.5 198.7 624.8 198.8 625.0 198.9 625.2 199.0 625.5 199.1 625.8 199.3 626.0 199.4 626.2 199.6 626.5 199.7 626.8 199.9 627.0 200.1 627.2 200.3 627.5 200.5 627.8 200.7 628.0 201.0 628.2 201.2 628.5 201.4 628.8 201.7 629.0 201.9 629.2 202.2 629.5 202.4 629.8 202.7 630.0 202.9 630.2 203.2 630.5 203.4 630.8 203.7 631.0 204.0 631.2 204.2 631.5 204.5 631.8 204.8 632.0 205.0 632.2 205.3 632.5 205.5 632.8 205.7 633.0 206.0 633.2 206.2 633.5 206.4 633.8 206.7 634.0 206.9 634.2 207.1 634.5 207.3 634.8 207.5 635.0 207.7 635.2 207.9 635.5 208.1 635.8 208.3 636.0 208.5 636.2 208.8 636.5 209.0 636.8 209.3 637.0 209.5 637.2 209.7 637.5 210.0 637.8 210.2 638.0 210.5 638.2 210.7 638.5 211.0 638.8 211.2 639.0 211.5 639.2 211.8 639.5 212.0 639.8 212.3 640.0 212.5 640.2 212.8 640.5 213.0 640.8 213.2 641.0 213.5 641.2 213.7 641.5 214.0 641.8 214.2 642.0 214.4 642.2 214.6 642.5 214.8 642.8 215.0 643.0 215.3 643.2 215.4 643.5 215.6 643.8 215.8 644.0 216.0 644.2 216.2 644.5 216.3 644.8 216.5 645.0 216.6 645.2 216.8 645.5 216.9 645.8 217.0 646.0 217.1 646.2 217.2 646.5 217.3 646.8 217.3 647.0 217.4 647.2 217.4 647.5 217.5 647.8 217.5 648.0 217.5 648.2 217.5 648.5 217.4 648.8 217.3 649.0 217.2 649.2 217.0 649.5 216.8 649.8 216.6 650.0 216.4 650.2 216.1 650.5 215.9 650.8 215.7 651.0 215.4 651.2 215.1 651.5 214.7 651.8 214.2 652.0 213.6 652.2 213.0 652.5 212.3 652.8 211.5 653.0 210.8 653.2 209.9 653.5 209.1 653.8 208.1 654.0 207.2 654.2 206.3 654.5 205.3 654.8 204.3 655.0 203.3 655.2 202.3 655.5 201.4 655.8 200.4 656.0 199.4 656.2 198.5 656.5 197.6 656.8 196.8 657.0 195.9 657.2 195.1 657.5 194.4 657.8 193.7 658.0 193.1 658.2 192.6 658.5 192.1 658.8 191.7 659.0 191.4 659.2 191.2 659.5 191.0 659.8 191.0 660.0 191.0 660.2 191.0 660.5 191.0 660.8 191.0 661.0 191.0 661.2 191.1 661.5 191.1 661.8 191.1 662.0 191.1 662.2 191.2 662.5 191.2 662.8 191.2 663.0 191.3 663.2 191.3 663.5 191.3 663.8 191.4 664.0 191.4 664.2 191.4 664.5 191.5 664.8 191.5 665.0 191.6 665.2 191.6 665.5 191.6 665.8 191.7 666.0 191.7 666.2 191.7 666.5 191.8 666.8 191.8 667.0 191.8 667.2 191.9 667.5 191.9 667.8 191.9 668.0 191.9 668.2 192.0 668.5 192.0 668.8 192.0 669.0 192.0 669.2 192.0 669.5 192.0 669.8 192.0 670.0 191.9 670.2 191.7 670.5 191.5 670.8 191.3 671.0 190.9 671.2 190.6 671.5 190.2 671.8 189.8 672.0 189.3 672.2 188.8 672.5 188.2 672.8 187.7 673.0 187.1 673.2 186.5 673.5 185.8 673.8 185.2 674.0 184.5 674.2 183.9 674.5 183.2 674.8 182.5 675.0 181.8 675.2 181.2 675.5 180.5 675.8 179.9 676.0 179.2 676.2 178.6 676.5 178.0 676.8 177.4 677.0 176.9 677.2 176.3 677.5 175.8 677.8 175.4 678.0 174.9 678.2 174.6 678.5 174.2 678.8 173.9 679.0 173.7 679.2 173.5 679.5 173.4 679.8 173.3 680.0 173.3 680.2 173.3 680.5 173.3 680.8 173.3 681.0 173.4 681.2 173.4 681.5 173.5 681.8 173.5 682.0 173.6 682.2 173.6 682.5 173.7 682.8 173.7 683.0 173.8 683.2 173.9 683.5 174.0 683.8 174.0 684.0 174.1 684.2 174.2 684.5 174.2 684.8 174.3 685.0 174.4 685.2 174.5 685.5 174.5 685.8 174.6 686.0 174.6 686.2 174.7 686.5 174.7 686.8 174.8 687.0 174.8 687.2 174.9 687.5 174.9 687.8 174.9 688.0 174.9 688.2 174.9 688.5 174.8 688.8 174.7 689.0 174.6 689.2 174.4 689.5 174.1 689.8 173.8 690.0 173.5 690.2 173.1 690.5 172.7 690.8 172.2 691.0 171.7 691.2 171.2 691.5 170.7 691.8 170.1 692.0 169.6 692.2 168.9 692.5 168.3 692.8 167.7 693.0 167.0 693.2 166.3 693.5 165.7 693.8 165.0 694.0 164.3 694.2 163.6 694.5 162.9 694.8 162.1 695.0 161.4 695.2 160.7 695.5 160.0 695.8 159.4 696.0 158.7 696.2 158.0 696.5 157.4 696.8 156.8 697.0 156.1 697.2 155.6 697.5 155.0 697.8 154.5 698.0 154.0 698.2 153.5 698.5 153.0 698.8 152.6 699.0 152.2 699.2 151.9 699.5 151.6 699.8 151.3 700.0 151.1 700.2 151.0 700.5 150.9 700.8 150.8 701.0 150.8 701.2 150.8 701.5 150.8 701.8 150.8 702.0 150.8 702.2 150.8 702.5 150.9 702.8 150.9 703.0 150.9 703.2 150.9 703.5 150.9 703.8 151.0 704.0 151.0 704.2 151.0 704.5 151.0 704.8 151.0 705.0 151.1 705.2 151.1 705.5 151.1 705.8 151.1 706.0 151.1 706.2 151.2 706.5 151.2 706.8 151.2 707.0 151.2 707.2 151.2 707.5 151.2 707.8 151.2 708.0 151.2 708.2 151.1 708.5 151.0 708.8 150.8 709.0 150.7 709.2 150.4 709.5 150.2 709.8 149.9 710.0 149.6 710.2 149.3 710.5 149.0 710.8 148.7 711.0 148.3 711.2 147.9 711.5 147.6 711.8 147.2 712.0 146.8 712.2 146.5 712.5 146.1 712.8 145.7 713.0 145.4 713.2 145.0 713.5 144.7 713.8 144.4 714.0 144.1 714.2 143.9 714.5 143.6 714.8 143.4 715.0 143.2 715.2 143.1 715.5 143.0 715.8 142.9 716.0 142.9 716.2 142.9 716.5 143.0 716.8 143.1 717.0 143.2 717.2 143.3 717.5 143.5 717.8 143.7 718.0 143.9 718.2 144.2 718.5 144.5 718.8 144.8 719.0 145.1 719.2 145.4 719.5 145.8 719.8 146.1 720.0 146.5 720.2 146.9 720.5 147.3 720.8 147.7 721.0 148.1 721.2 148.5 721.5 149.0 721.8 149.4 722.0 149.8 722.2 150.2 722.5 150.6 722.8 151.0 723.0 151.5 723.2 151.8 723.5 152.2 723.8 152.6 724.0 153.0 724.2 153.3 724.5 153.6 724.8 153.9 725.0 154.2 725.2 154.5 725.5 154.8 725.8 155.0 726.0 155.2 726.2 155.3 726.5 155.5 726.8 155.6 727.0 155.7 727.2 155.7 727.5 155.7 727.8 155.7 728.0 155.6 728.2 155.5 728.5 155.3 728.8 155.1 729.0 154.9 729.2 154.7 729.5 154.4 729.8 154.1 730.0 153.8 730.2 153.4 730.5 153.1 730.8 152.7 731.0 152.3 731.2 152.0 731.5 151.6 731.8 151.2 732.0 150.8 732.2 150.4 732.5 150.0 732.8 149.6 733.0 149.3 733.2 148.9 733.5 148.6 733.8 148.2 734.0 147.9 734.2 147.7 734.5 147.4 734.8 147.2 735.0 147.0 735.2 146.8 735.5 146.7 735.8 146.6 736.0 146.5 736.2 146.5 736.5 146.5 736.8 146.6 737.0 146.7 737.2 146.8 737.5 146.9 737.8 147.1 738.0 147.3 738.2 147.5 738.5 147.8 738.8 148.1 739.0 148.4 739.2 148.7 739.5 149.0 739.8 149.3 740.0 149.7 740.2 150.0 740.5 150.4 740.8 150.8 741.0 151.1 741.2 151.5 741.5 151.9 741.8 152.3 742.0 152.7 742.2 153.0 742.5 153.4 742.8 153.8 743.0 154.2 743.2 154.5 743.5 154.9 743.8 155.2 744.0 155.5 744.2 155.8 744.5 156.1 744.8 156.4 745.0 156.6 745.2 156.8 745.5 157.0 745.8 157.2 746.0 157.3 746.2 157.4 746.5 157.5 746.8 157.6 747.0 157.6 747.2 157.6 747.5 157.6 747.8 157.5 748.0 157.4 748.2 157.4 748.5 157.3 748.8 157.1 749.0 157.0 749.2 156.9 749.5 156.8 749.8 156.6 750.0 156.5 750.2 156.4 750.5 156.3 750.8 156.2 751.0 156.0 751.2 155.9 751.5 155.9 751.8 155.8 752.0 155.7 752.2 155.7 752.5 155.7 752.8 155.7 753.0 155.8 753.2 155.9 753.5 156.1 753.8 156.2 754.0 156.5 754.2 156.7 754.5 157.0 754.8 157.3 755.0 157.7 755.2 158.1 755.5 158.5 755.8 158.9 756.0 159.4 756.2 159.8 756.5 160.3 756.8 160.8 757.0 161.3 757.2 161.9 757.5 162.4 757.8 162.9 758.0 163.5 758.2 164.0 758.5 164.6 758.8 165.2 759.0 165.7 759.2 166.3 759.5 166.8 759.8 167.3 760.0 167.9 760.2 168.4 760.5 168.9 760.8 169.4 761.0 169.8 761.2 170.3 761.5 170.7 761.8 171.1 762.0 171.5 762.2 171.9 762.5 172.2 762.8 172.5 763.0 172.7 763.2 173.0 763.5 173.1 763.8 173.3 764.0 173.4 764.2 173.5 764.5 173.5 764.8 173.5 765.0 173.4 765.2 173.3 765.5 173.2 765.8 173.0 766.0 172.9 766.2 172.7 766.5 172.5 766.8 172.3 767.0 172.1 767.2 171.9 767.5 171.8 767.8 171.6 768.0 171.5 768.2 171.4 768.5 171.4 768.8 171.4 769.0 171.4 769.2 171.5 769.5 171.6 769.8 171.8 770.0 172.0 770.2 172.2 770.5 172.4 770.8 172.7 771.0 173.0 771.2 173.3 771.5 173.7 771.8 174.0 772.0 174.4 772.2 174.9 772.5 175.3 772.8 175.7 773.0 176.2 773.2 176.7 773.5 177.2 773.8 177.7 774.0 178.3 774.2 178.8 774.5 179.4 774.8 180.0 775.0 180.5 775.2 181.1 775.5 181.7 775.8 182.3 776.0 182.9 776.2 183.5 776.5 184.1 776.8 184.7 777.0 185.3 777.2 185.9 777.5 186.5 777.8 187.0 778.0 187.6 778.2 188.2 778.5 188.8 778.8 189.3 779.0 189.8 779.2 190.4 779.5 190.9 779.8 191.4 780.0 191.9 780.2 192.3 780.5 192.8 780.8 193.2 781.0 193.6 781.2 194.0 781.5 194.3 781.8 194.7 782.0 195.0 782.2 195.2 782.5 195.5 782.8 195.7 783.0 195.9 783.2 196.0 783.5 196.2 783.8 196.2 784.0 196.3 784.2 196.3 784.5 196.3 784.8 196.2 785.0 196.0 785.2 195.8 785.5 195.6 785.8 195.4 786.0 195.0 786.2 194.7 786.5 194.3 786.8 193.9 787.0 193.5 787.2 193.1 787.5 192.6 787.8 192.1 788.0 191.6 788.2 191.1 788.5 190.5 788.8 190.0 789.0 189.5 789.2 188.9 789.5 188.4 789.8 187.9 790.0 187.3 790.2 186.8 790.5 186.3 790.8 185.8 791.0 185.4 791.2 184.9 791.5 184.5 791.8 184.1 792.0 183.7 792.2 183.4 792.5 183.1 792.8 182.8 793.0 182.6 793.2 182.4 793.5 182.3 793.8 182.2 794.0 182.2 794.2 182.2 794.5 182.3 794.8 182.3 795.0 182.4 795.2 182.5 795.5 182.7 795.8 182.8 796.0 183.0 796.2 183.2 796.5 183.4 796.8 183.6 797.0 183.8 797.2 184.0 797.5 184.2 797.8 184.5 798.0 184.7 798.2 184.9 798.5 185.2 798.8 185.4 799.0 185.6 799.2 185.8 799.5 186.0 799.8 186.2 800.0 186.4 800.2 186.5 800.5 186.7 800.8 186.8 801.0 186.9 801.2 187.0 801.5 187.1 801.8 187.1 802.0 187.1 802.2 187.1 802.5 187.1 802.8 187.0 803.0 187.0 803.2 186.9 803.5 186.8 803.8 186.8 804.0 186.7 804.2 186.6 804.5 186.5 804.8 186.4 805.0 186.3 805.2 186.2 805.5 186.2 805.8 186.1 806.0 186.0 806.2 185.9 806.5 185.9 806.8 185.8 807.0 185.8 807.2 185.7 807.5 185.7 807.8 185.7 808.0 185.7 808.2 185.8 808.5 185.9 808.8 186.0 809.0 186.1 809.2 186.3 809.5 186.5 809.8 186.8 810.0 187.0 810.2 187.3 810.5 187.6 810.8 187.9 811.0 188.2 811.2 188.5 811.5 188.9 811.8 189.2 812.0 189.6 812.2 190.0 812.5 190.4 812.8 190.8 813.0 191.1 813.2 191.5 813.5 191.9 813.8 192.3 814.0 192.7 814.2 193.1 814.5 193.4 814.8 193.8 815.0 194.1 815.2 194.5 815.5 194.8 815.8 195.1 816.0 195.4 816.2 195.6 816.5 195.9 816.8 196.1 817.0 196.3 817.2 196.5 817.5 196.6 817.8 196.7 818.0 196.8 818.2 196.9 818.5 196.9 818.8 196.9 819.0 196.8 819.2 196.6 819.5 196.4 819.8 196.2 820.0 195.9 820.2 195.6 820.5 195.2 820.8 194.8 821.0 194.4 821.2 194.0 821.5 193.5 821.8 193.1 822.0 192.6 822.2 192.1 822.5 191.6 822.8 191.1 823.0 190.6 823.2 190.1 823.5 189.7 823.8 189.2 824.0 188.8 824.2 188.4 824.5 188.0 824.8 187.7 825.0 187.4 825.2 187.1 825.5 186.9 825.8 186.7 826.0 186.6 826.2 186.5 826.5 186.5 826.8 186.5 827.0 186.6 827.2 186.6 827.5 186.7 827.8 186.9 828.0 187.0 828.2 187.2 828.5 187.3 828.8 187.5 829.0 187.7 829.2 188.0 829.5 188.2 829.8 188.5 830.0 188.7 830.2 189.0 830.5 189.3 830.8 189.6 831.0 189.9 831.2 190.2 831.5 190.5 831.8 190.8 832.0 191.1 832.2 191.4 832.5 191.7 832.8 192.0 833.0 192.3 833.2 192.6 833.5 192.9 833.8 193.2 834.0 193.5 834.2 193.8 834.5 194.1 834.8 194.3 835.0 194.6 835.2 194.8 835.5 195.1 835.8 195.3 836.0 195.5 836.2 195.6 836.5 195.8 836.8 195.9 837.0 196.1 837.2 196.2 837.5 196.2 837.8 196.3 838.0 196.3 838.2 196.3 838.5 196.2 838.8 196.1 839.0 195.9 839.2 195.7 839.5 195.4 839.8 195.1 840.0 194.8 840.2 194.4 840.5 193.9 840.8 193.5 841.0 193.0 841.2 192.4 841.5 191.9 841.8 191.3 842.0 190.7 842.2 190.1 842.5 189.4 842.8 188.8 843.0 188.1 843.2 187.5 843.5 186.8 843.8 186.1 844.0 185.4 844.2 184.7 844.5 184.1 844.8 183.4 845.0 182.8 845.2 182.1 845.5 181.5 845.8 180.9 846.0 180.3 846.2 179.8 846.5 179.2 846.8 178.7 847.0 178.3 847.2 177.8 847.5 177.4 847.8 177.1 848.0 176.8 848.2 176.5 848.5 176.3 848.8 176.1 849.0 176.0 849.2 175.9 849.5 175.9 849.8 175.9 850.0 175.9 850.2 176.0 850.5 176.0 850.8 176.1 851.0 176.2 851.2 176.3 851.5 176.4 851.8 176.5 852.0 176.6 852.2 176.7 852.5 176.8 852.8 177.0 853.0 177.1 853.2 177.2 853.5 177.4 853.8 177.6 854.0 177.7 854.2 177.9 854.5 178.0 854.8 178.2 855.0 178.3 855.2 178.5 855.5 178.7 855.8 178.8 856.0 179.0 856.2 179.1 856.5 179.3 856.8 179.4 857.0 179.5 857.2 179.6 857.5 179.8 857.8 179.9 858.0 180.0 858.2 180.1 858.5 180.2 858.8 180.2 859.0 180.3 859.2 180.3 859.5 180.4 859.8 180.4 860.0 180.4 860.2 180.4 860.5 180.3 860.8 180.1 861.0 179.8 861.2 179.5 861.5 179.2 861.8 178.8 862.0 178.3 862.2 177.8 862.5 177.3 862.8 176.7 863.0 176.1 863.2 175.4 863.5 174.8 863.8 174.1 864.0 173.4 864.2 172.7 864.5 172.0 864.8 171.3 865.0 170.6 865.2 169.9 865.5 169.2 865.8 168.5 866.0 167.8 866.2 167.2 866.5 166.5 866.8 165.9 867.0 165.3 867.2 164.6 867.5 163.9 867.8 163.2 868.0 162.5 868.2 161.7 868.5 160.9 868.8 160.1 869.0 159.3 869.2 158.5 869.5 157.6 869.8 156.8 870.0 156.0 870.2 155.1 870.5 154.3 870.8 153.5 871.0 152.7 871.2 151.9 871.5 151.1 871.8 150.4 872.0 149.6 872.2 148.9 872.5 148.3 872.8 147.6 873.0 147.0 873.2 146.4 873.5 145.9 873.8 145.4 874.0 145.0 874.2 144.6 874.5 144.3 874.8 144.0 875.0 143.8 875.2 143.6 875.5 143.5 875.8 143.3 876.0 143.1 876.2 143.0 876.5 142.9 876.8 142.7 877.0 142.6 877.2 142.5 877.5 142.4 877.8 142.3 878.0 142.2 878.2 142.1 878.5 142.0 878.8 141.9 879.0 141.9 879.2 141.8 879.5 141.7 879.8 141.6 880.0 141.5 880.2 141.3 880.5 141.2 880.8 141.1 881.0 141.0 881.2 140.8 881.5 140.7 881.8 140.5 882.0 140.3 882.2 140.1 882.5 139.9 882.8 139.6 883.0 139.3 883.2 139.1 883.5 138.8 883.8 138.5 884.0 138.2 884.2 137.9 884.5 137.6 884.8 137.3 885.0 137.1 885.2 136.8 885.5 136.5 885.8 136.3 886.0 136.1 886.2 135.9 886.5 135.7 886.8 135.5 887.0 135.4 887.2 135.2 887.5 135.1 887.8 135.0 888.0 134.9 888.2 134.8 888.5 134.7 888.8 134.6 889.0 134.4 889.2 134.3 889.5 134.2 889.8 134.1 890.0 134.0 890.2 133.9 890.5 133.8 890.8 133.7 891.0 133.6 891.2 133.5 891.5 133.3 891.8 133.2 892.0 133.0 892.2 132.8 892.5 132.6 892.8 132.4 893.0 132.1 893.2 131.8 893.5 131.5 893.8 131.1 894.0 130.7 894.2 130.3 894.5 129.8 894.8 129.4 895.0 128.9 895.2 128.4 895.5 127.9 895.8 127.3 896.0 126.8 896.2 126.3 896.5 125.7 896.8 125.2 897.0 124.7 897.2 124.1 897.5 123.6 897.8 123.1 898.0 122.6 898.2 122.1 898.5 121.7 898.8 121.2 899.0 120.8 899.2 120.4 899.5 120.1 899.8 119.7 900.0 119.5 900.2 119.2 900.5 119.0 900.8 118.8 901.0 118.7 901.2 118.6 901.5 118.6 901.8 118.6 902.0 118.6 902.2 118.7 902.5 118.7 902.8 118.8 903.0 118.8 903.2 118.9 903.5 119.0 903.8 119.1 904.0 119.2 904.2 119.3 904.5 119.4 904.8 119.5 905.0 119.6 905.2 119.7 905.5 119.8 905.8 119.9 906.0 120.1 906.2 120.2 906.5 120.3 906.8 120.4 907.0 120.5 907.2 120.6 907.5 120.7 907.8 120.8 908.0 120.9 908.2 121.0 908.5 121.0 908.8 121.1 909.0 121.1 909.2 121.2 909.5 121.2 909.8 121.2 910.0 121.2 910.2 121.2 910.5 121.1 910.8 121.0 911.0 121.0 911.2 120.8 911.5 120.7 911.8 120.6 912.0 120.4 912.2 120.3 912.5 120.1 912.8 119.9 913.0 119.7 913.2 119.5 913.5 119.3 913.8 119.1 914.0 118.8 914.2 118.6 914.5 118.4 914.8 118.2 915.0 117.9 915.2 117.5 915.5 117.1 915.8 116.7 916.0 116.2 916.2 115.6 916.5 115.0 916.8 114.4 917.0 113.7 917.2 113.0 917.5 112.3 917.8 111.5 918.0 110.8 918.2 110.0 918.5 109.2 918.8 108.5 919.0 107.7 919.2 106.9 919.5 106.2 919.8 105.5 920.0 104.8 920.2 104.1 920.5 103.5 920.8 102.9 921.0 102.3 921.2 101.8 921.5 101.4 921.8 101.0 922.0 100.6 922.2 100.4 922.5 100.2 922.8 100.0 923.0 100.0 923.2 100.0 923.5 100.1 923.8 100.1 924.0 100.2 924.2 100.3 924.5 100.5 924.8 100.6 925.0 100.8 925.2 101.0 925.5 101.2 925.8 101.5 926.0 101.7 926.2 102.0 926.5 102.3 926.8 102.5 927.0 102.8 927.2 103.1 927.5 103.4 927.8 103.7 928.0 104.0 928.2 104.3 928.5 104.6 928.8 104.9 929.0 105.2 929.2 105.5 929.5 105.7 929.8 106.0 930.0 106.3 930.2 106.5 930.5 106.8 930.8 107.0 931.0 107.2 931.2 107.4 931.5 107.5 931.8 107.7 932.0 107.8 932.2 107.9 932.5 107.9 932.8 108.0 933.0 108.0 933.2 108.0 933.5 108.0 933.8 107.9 934.0 107.8 934.2 107.7 934.5 107.6 934.8 107.5 935.0 107.4 935.2 107.3 935.5 107.1 935.8 107.0 936.0 106.9 936.2 106.7 936.5 106.6 936.8 106.5 937.0 106.5 937.2 106.4 937.5 106.3 937.8 106.3 938.0 106.3 938.2 106.4 938.5 106.5 938.8 106.7 939.0 106.9 939.2 107.2 939.5 107.5 939.8 107.9 940.0 108.4 940.2 108.8 940.5 109.3 940.8 109.9 941.0 110.5 941.2 111.0 941.5 111.7 941.8 112.3 942.0 113.0 942.2 113.6 942.5 114.3 942.8 115.0 943.0 115.7 943.2 116.4 943.5 117.0 943.8 117.7 944.0 118.4 944.2 119.0 944.5 119.6 944.8 120.3 945.0 120.8 945.2 121.4 945.5 121.9 945.8 122.4 946.0 122.9 946.2 123.3 946.5 123.7 946.8 124.1 947.0 124.5 947.2 124.9 947.5 125.4 947.8 125.8 948.0 126.3 948.2 126.7 948.5 127.1 948.8 127.6 949.0 128.0 949.2 128.5 949.5 128.9 949.8 129.3 950.0 129.7 950.2 130.2 950.5 130.6 950.8 131.0 951.0 131.3 951.2 131.7 951.5 132.1 951.8 132.4 952.0 132.8 952.2 133.1 952.5 133.4 952.8 133.7 953.0 133.9 953.2 134.2 953.5 134.4 953.8 134.6 954.0 134.7 954.2 134.9 954.5 135.0 954.8 135.1 955.0 135.2 955.2 135.2 955.5 135.2 955.8 135.1 956.0 135.0 956.2 134.9 956.5 134.7 956.8 134.5 957.0 134.2 957.2 133.9 957.5 133.5 957.8 133.1 958.0 132.7 958.2 132.3 958.5 131.9 958.8 131.4 959.0 130.9 959.2 130.4 959.5 129.9 959.8 129.4 960.0 129.0 960.2 128.5 960.5 128.0 960.8 127.5 961.0 127.0 961.2 126.6 961.5 126.2 961.8 125.8 962.0 125.4 962.2 125.0 962.5 124.7 962.8 124.4 963.0 124.2 963.2 124.0 963.5 123.9 963.8 123.8 964.0 123.7 964.2 123.7 964.5 123.7 964.8 123.8 965.0 123.9 965.2 124.1 965.5 124.3 965.8 124.5 966.0 124.7 966.2 125.0 966.5 125.3 966.8 125.6 967.0 126.0 967.2 126.4 967.5 126.7 967.8 127.2 968.0 127.6 968.2 128.1 968.5 128.5 968.8 129.0 969.0 129.5 969.2 130.0 969.5 130.5 969.8 131.1 970.0 131.6 970.2 132.2 970.5 132.7 970.8 133.3 971.0 133.9 971.2 134.4 971.5 135.0 971.8 135.6 972.0 136.1 972.2 136.7 972.5 137.2 972.8 137.8 973.0 138.3 973.2 138.9 973.5 139.4 973.8 139.9 974.0 140.4 974.2 140.9 974.5 141.3 974.8 141.8 975.0 142.2 975.2 142.6 975.5 143.0 975.8 143.4 976.0 143.7 976.2 144.1 976.5 144.4 976.8 144.6 977.0 144.9 977.2 145.1 977.5 145.2 977.8 145.4 978.0 145.5 978.2 145.6 978.5 145.6 978.8 145.6 979.0 145.5 979.2 145.4 979.5 145.3 979.8 145.1 980.0 144.9 980.2 144.7 980.5 144.4 980.8 144.2 981.0 143.9 981.2 143.6 981.5 143.3 981.8 143.0 982.0 142.7 982.2 142.4 982.5 142.1 982.8 141.8 983.0 141.5 983.2 141.3 983.5 141.1 983.8 140.9 984.0 140.8 984.2 140.7 984.5 140.6 984.8 140.6 985.0 140.6 985.2 140.7 985.5 140.7 985.8 140.8 986.0 140.9 986.2 141.1 986.5 141.2 986.8 141.4 987.0 141.6 987.2 141.8 987.5 142.0 987.8 142.2 988.0 142.5 988.2 142.8 988.5 143.0 988.8 143.3 989.0 143.6 989.2 143.9 989.5 144.2 989.8 144.5 990.0 144.8 990.2 145.1 990.5 145.4 990.8 145.7 991.0 146.0 991.2 146.3 991.5 146.6 991.8 146.9 992.0 147.2 992.2 147.4 992.5 147.7 992.8 148.0 993.0 148.2 993.2 148.4 993.5 148.6 993.8 148.9 994.0 149.0 994.2 149.2 994.5 149.4 994.8 149.5 995.0 149.6 995.2 149.7 995.5 149.7 995.8 149.8 996.0 149.8 996.2 149.8 996.5 149.7 996.8 149.7 997.0 149.6 997.2 149.4 997.5 149.3 997.8 149.1 998.0 148.9 998.2 148.8 998.5 148.6 998.8 148.4 999.0 148.1 999.2 147.9 999.5 147.7 999.8 147.5 1000.0 147.3 1000.2 147.1 1000.5 147.0 1000.8 146.8 1001.0 146.7 1001.2 146.6 1001.5 146.5 1001.8 146.4 1002.0 146.4 1002.2 146.4 1002.5 146.4 1002.8 146.4 1003.0 146.5 1003.2 146.5 1003.5 146.6 1003.8 146.7 1004.0 146.8 1004.2 146.9 1004.5 147.0 1004.8 147.1 1005.0 147.2 1005.2 147.4 1005.5 147.5 1005.8 147.7 1006.0 147.9 1006.2 148.1 1006.5 148.3 1006.8 148.5 1007.0 148.8 1007.2 149.0 1007.5 149.3 1007.8 149.5 1008.0 149.8 1008.2 150.1 1008.5 150.4 1008.8 150.7 1009.0 151.1 1009.2 151.4 1009.5 151.8 1009.8 152.1 1010.0 152.5 1010.2 152.9 1010.5 153.3" fill="none" stroke="#0000ff" stroke-width="1.2" stroke-linejoin="round"/>
<path d="M67.5 650.8 L67.8 636.0 68.0 622.1 68.2 608.9 68.5 596.5 68.8 584.8 69.0 574.0 69.2 563.9 69.5 554.5 69.8 546.0 70.0 538.2 70.2 531.1 70.5 524.8 70.8 519.3 71.0 514.5 71.2 510.5 71.5 507.2 71.8 504.6 72.0 502.8 72.2 501.7 72.5 501.3 72.8 502.4 73.0 505.7 73.2 510.8 73.5 517.4 73.8 525.4 74.0 534.5 74.2 544.3 74.5 554.6 74.8 565.2 75.0 575.9 75.2 586.2 75.5 596.0 75.8 605.1 76.0 613.1 76.2 619.7 76.5 624.8 76.8 628.1 77.0 629.2 77.2 629.1 77.5 628.9 77.8 628.5 78.0 628.1 78.2 627.7 78.5 627.3 78.8 627.0 79.0 626.8 79.2 626.7 79.5 627.1 79.8 628.0 80.0 629.2 80.2 630.7 80.5 632.3 80.8 634.0 81.0 635.6 81.2 637.0 81.5 638.1 81.8 638.9 82.0 639.2 82.2 638.1 82.5 635.0 82.8 630.1 83.0 623.7 83.2 616.2 83.5 607.7 83.8 598.5 84.0 589.0 84.2 579.3 84.5 569.8 84.8 560.8 85.0 552.5 85.2 545.1 85.5 539.0 85.8 534.5 86.0 531.7 86.2 531.0 86.5 532.3 86.8 535.1 87.0 539.3 87.2 544.8 87.5 551.2 87.8 558.4 88.0 566.1 88.2 574.3 88.5 582.6 88.8 590.8 89.0 598.8 89.2 606.4 89.5 613.3 89.8 619.3 90.0 624.3 90.2 628.0 90.5 630.2 90.8 630.8 91.0 630.7 91.2 630.4 91.5 629.9 91.8 629.4 92.0 628.8 92.2 628.2 92.5 627.6 92.8 627.0 93.0 626.5 93.2 626.1 93.5 625.9 93.8 625.8 94.0 626.0 94.2 626.3 94.5 626.9 94.8 627.6 95.0 628.5 95.2 629.6 95.5 630.8 95.8 632.1 96.0 633.5 96.2 635.0 96.5 636.6 96.8 638.2 97.0 639.9 97.2 641.6 97.5 643.4 97.8 645.1 98.0 646.8 98.2 648.5 98.5 650.1 98.8 651.7 99.0 653.5 99.2 655.7 99.5 658.0 99.8 660.5 100.0 663.1 100.2 665.7 100.5 668.1 100.8 670.4 101.0 672.5 101.2 674.2 101.5 675.5 101.8 676.4 102.0 676.7 102.2 674.5 102.5 668.1 102.8 658.2 103.0 645.3 103.2 629.9 103.5 612.6 103.8 594.1 104.0 574.7 104.2 555.1 104.5 535.8 104.8 517.5 105.0 500.6 105.2 485.6 105.5 473.3 105.8 464.0 106.0 458.4 106.2 457.0 106.5 458.4 106.8 461.6 107.0 466.5 107.2 472.7 107.5 480.2 107.8 488.8 108.0 498.2 108.2 508.2 108.5 518.8 108.8 529.5 109.0 540.4 109.2 551.2 109.5 561.6 109.8 571.6 110.0 580.8 110.2 589.2 110.5 596.4 110.8 602.4 111.0 607.0 111.2 609.8 111.5 610.8 111.8 610.6 112.0 610.1 112.2 609.4 112.5 608.5 112.8 607.6 113.0 606.8 113.2 606.1 113.5 605.6 113.8 605.5 114.0 606.2 114.2 607.6 114.5 609.7 114.8 612.4 115.0 615.4 115.2 618.5 115.5 621.8 115.8 625.0 116.0 627.9 116.2 630.4 116.5 632.4 116.8 633.7 117.0 634.2 117.2 633.2 117.5 630.2 117.8 625.6 118.0 619.6 118.2 612.4 118.5 604.4 118.8 595.8 119.0 586.7 119.2 577.6 119.5 568.7 119.8 560.1 120.0 552.3 120.2 545.3 120.5 539.6 120.8 535.3 121.0 532.7 121.2 532.0 121.5 533.0 121.8 535.3 122.0 538.8 122.2 543.2 122.5 548.6 122.8 554.7 123.0 561.4 123.2 568.6 123.5 576.1 123.8 583.8 124.0 591.6 124.2 599.2 124.5 606.7 124.8 613.7 125.0 620.3 125.2 626.3 125.5 631.4 125.8 635.6 126.0 638.8 126.2 640.8 126.5 642.4 126.8 643.9 127.0 645.4 127.2 646.8 127.5 648.1 127.8 649.4 128.0 650.6 128.2 651.7 128.5 652.7 128.8 653.6 129.0 654.3 129.2 655.0 129.5 655.5 129.8 655.9 130.0 656.2 130.2 656.3 130.5 655.3 130.8 651.3 131.0 644.8 131.2 635.9 131.5 625.2 131.8 612.9 132.0 599.5 132.2 585.3 132.5 570.6 132.8 555.9 133.0 541.4 133.2 527.6 133.5 514.8 133.8 503.5 134.0 493.8 134.2 486.3 134.5 481.3 134.8 479.1 135.0 479.8 135.2 482.8 135.5 487.8 135.8 494.5 136.0 502.6 136.2 511.9 136.5 522.0 136.8 532.7 137.0 543.6 137.2 554.6 137.5 565.3 137.8 575.4 138.0 584.7 138.2 592.8 138.5 599.5 138.8 604.5 139.0 607.5 139.2 608.3 139.5 608.2 139.8 608.1 140.0 608.0 140.2 607.8 140.5 607.6 140.8 607.4 141.0 607.2 141.2 607.1 141.5 607.0 141.8 607.0 142.0 607.2 142.2 607.5 142.5 608.1 142.8 608.8 143.0 609.7 143.2 610.8 143.5 612.0 143.8 613.4 144.0 614.8 144.2 616.4 144.5 618.1 144.8 619.8 145.0 621.6 145.2 623.5 145.5 625.4 145.8 627.3 146.0 629.2 146.2 631.2 146.5 633.1 146.8 635.0 147.0 636.9 147.2 638.7 147.5 640.5 147.8 642.5 148.0 644.9 148.2 647.5 148.5 650.3 148.8 653.1 149.0 656.0 149.2 658.9 149.5 661.6 149.8 664.2 150.0 666.6 150.2 668.6 150.5 670.3 150.8 671.6 151.0 672.3 151.2 672.4 151.5 670.0 151.8 664.5 152.0 656.3 152.2 645.7 152.5 633.2 152.8 619.1 153.0 603.8 153.2 587.8 153.5 571.4 153.8 555.0 154.0 539.0 154.2 523.7 154.5 509.6 154.8 497.1 155.0 486.5 155.2 478.3 155.5 472.8 155.8 470.4 156.0 471.0 156.2 473.7 156.5 478.3 156.8 484.4 157.0 492.0 157.2 500.6 157.5 510.2 157.8 520.5 158.0 531.3 158.2 542.2 158.5 553.2 158.8 564.0 159.0 574.3 159.2 583.9 159.5 592.5 159.8 600.1 160.0 606.2 160.2 610.8 160.5 613.5 160.8 614.2 161.0 614.0 161.2 613.6 161.5 613.1 161.8 612.6 162.0 612.2 162.2 612.0 162.5 612.2 162.8 612.8 163.0 613.9 163.2 615.4 163.5 617.3 163.8 619.4 164.0 621.7 164.2 624.2 164.5 626.9 164.8 629.6 165.0 632.3 165.2 634.9 165.5 637.5 165.8 640.1 166.0 643.4 166.2 647.2 166.5 651.2 166.8 655.2 167.0 658.8 167.2 661.9 167.5 664.0 167.8 665.0 168.0 663.9 168.2 659.8 168.5 653.0 168.8 643.9 169.0 632.9 169.2 620.5 169.5 607.0 169.8 592.8 170.0 578.4 170.2 564.1 170.5 550.4 170.8 537.7 171.0 526.4 171.2 516.9 171.5 509.6 171.8 505.0 172.0 503.3 172.2 504.3 172.5 507.3 172.8 512.0 173.0 518.2 173.2 525.6 173.5 534.0 173.8 543.2 174.0 552.9 174.2 563.0 174.5 573.1 174.8 583.2 175.0 592.8 175.2 601.9 175.5 610.1 175.8 617.3 176.0 623.2 176.2 627.5 176.5 630.1 176.8 630.8 177.0 630.8 177.2 630.7 177.5 630.7 177.8 630.6 178.0 630.6 178.2 630.5 178.5 630.4 178.8 630.4 179.0 630.3 179.2 630.3 179.5 630.3 179.8 630.8 180.0 632.1 180.2 634.0 180.5 636.4 180.8 639.1 181.0 641.9 181.2 644.6 181.5 647.1 181.8 649.1 182.0 650.5 182.2 651.2 182.5 650.3 182.8 646.7 183.0 640.7 183.2 632.8 183.5 623.2 183.8 612.5 184.0 600.9 184.2 588.9 184.5 576.8 184.8 565.0 185.0 553.8 185.2 543.8 185.5 535.2 185.8 528.4 186.0 523.8 186.2 521.8 186.5 522.2 186.8 524.4 187.0 527.9 187.2 532.7 187.5 538.6 187.8 545.4 188.0 552.9 188.2 561.0 188.5 569.4 188.8 578.0 189.0 586.5 189.2 594.9 189.5 603.0 189.8 610.5 190.0 617.3 190.2 623.2 190.5 628.0 190.8 631.5 191.0 633.7 191.2 634.2 191.5 634.1 191.8 633.8 192.0 633.4 192.2 632.9 192.5 632.4 192.8 631.9 193.0 631.5 193.2 631.1 193.5 630.9 193.8 630.8 194.0 631.2 194.2 632.2 194.5 633.6 194.8 635.4 195.0 637.6 195.2 640.1 195.5 642.8 195.8 645.7 196.0 648.6 196.2 651.6 196.5 654.5 196.8 657.3 197.0 660.2 197.2 663.7 197.5 667.8 197.8 672.2 198.0 676.6 198.2 680.5 198.5 683.7 198.8 685.9 199.0 686.7 199.2 684.8 199.5 679.2 199.8 670.6 200.0 659.3 200.2 645.8 200.5 630.7 200.8 614.3 201.0 597.1 201.2 579.7 201.5 562.5 201.8 545.9 202.0 530.5 202.2 516.7 202.5 504.9 202.8 495.7 203.0 489.5 203.2 486.8 203.5 487.4 203.8 489.9 204.0 494.2 204.2 500.0 204.5 507.0 204.8 515.2 205.0 524.2 205.2 533.8 205.5 543.9 205.8 554.2 206.0 564.5 206.2 574.6 206.5 584.2 206.8 593.2 207.0 601.4 207.2 608.4 207.5 614.2 207.8 618.5 208.0 621.0 208.2 621.7 208.5 621.3 208.8 620.4 209.0 619.1 209.2 617.5 209.5 615.8 209.8 614.2 210.0 612.6 210.2 611.3 210.5 610.4 210.8 610.0 211.0 610.1 211.2 610.6 211.5 611.3 211.8 612.4 212.0 613.7 212.2 615.2 212.5 617.0 212.8 618.9 213.0 621.0 213.2 623.2 213.5 625.5 213.8 627.9 214.0 630.3 214.2 632.8 214.5 635.2 214.8 637.6 215.0 639.9 215.2 642.2 215.5 644.7 215.8 647.7 216.0 651.1 216.2 654.6 216.5 658.3 216.8 661.8 217.0 665.2 217.2 668.2 217.5 670.8 217.8 672.7 218.0 673.9 218.2 674.1 218.5 671.6 218.8 665.7 219.0 656.9 219.2 645.7 219.5 632.6 219.8 617.9 220.0 602.1 220.2 585.7 220.5 569.2 220.8 552.9 221.0 537.3 221.2 522.9 221.5 510.1 221.8 499.3 222.0 491.1 222.2 485.9 222.5 484.0 222.8 485.0 223.0 487.9 223.2 492.4 223.5 498.4 223.8 505.6 224.0 513.9 224.2 523.0 224.5 532.8 224.8 542.9 225.0 553.2 225.2 563.6 225.5 573.7 225.8 583.5 226.0 592.6 226.2 600.9 226.5 608.1 226.8 614.1 227.0 618.6 227.2 621.5 227.5 622.5 227.8 622.4 228.0 622.1 228.2 621.6 228.5 621.1 228.8 620.5 229.0 620.0 229.2 619.6 229.5 619.3 229.8 619.2 230.0 619.5 230.2 620.0 230.5 620.9 230.8 622.1 231.0 623.5 231.2 625.1 231.5 627.0 231.8 628.9 232.0 631.1 232.2 633.3 232.5 635.7 232.8 638.0 233.0 640.5 233.2 642.9 233.5 645.3 233.8 647.6 234.0 649.9 234.2 652.2 234.5 655.0 234.8 658.3 235.0 661.8 235.2 665.3 235.5 668.9 235.8 672.3 236.0 675.4 236.2 678.1 236.5 680.2 236.8 681.5 237.0 682.0 237.2 680.1 237.5 674.5 237.8 665.9 238.0 654.6 238.2 641.2 238.5 626.1 238.8 609.8 239.0 592.7 239.2 575.3 239.5 558.1 239.8 541.6 240.0 526.2 240.2 512.4 240.5 500.6 240.8 491.5 241.0 485.3 241.2 482.6 241.5 483.2 241.8 485.8 242.0 490.1 242.2 496.1 242.5 503.3 242.8 511.7 243.0 520.9 243.2 530.9 243.5 541.3 243.8 552.0 244.0 562.7 244.2 573.3 244.5 583.5 244.8 593.0 245.0 601.8 245.2 609.5 245.5 616.0 245.8 621.0 246.0 624.3 246.2 625.8 246.5 625.7 246.8 625.5 247.0 625.1 247.2 624.6 247.5 624.2 247.8 623.8 248.0 623.5 248.2 623.3 248.5 623.5 248.8 624.5 249.0 626.0 249.2 628.1 249.5 630.6 249.8 633.5 250.0 636.7 250.2 640.0 250.5 643.5 250.8 646.9 251.0 650.3 251.2 653.6 251.5 656.6 251.8 659.2 252.0 661.5 252.2 663.3 252.5 664.5 252.8 665.0 253.0 663.9 253.2 659.6 253.5 652.6 253.8 643.1 254.0 631.7 254.2 618.8 254.5 604.8 254.8 590.1 255.0 575.1 255.2 560.3 255.5 546.1 255.8 532.9 256.0 521.2 256.2 511.3 256.5 503.8 256.8 498.9 257.0 497.2 257.2 498.7 257.5 503.0 257.8 509.5 258.0 518.0 258.2 528.0 258.5 539.0 258.8 550.8 259.0 562.7 259.2 574.5 259.5 585.8 259.8 596.0 260.0 604.8 260.2 611.8 260.5 616.5 260.8 618.6 261.0 618.6 261.2 618.5 261.5 618.2 261.8 617.8 262.0 617.3 262.2 616.9 262.5 616.4 262.8 615.9 263.0 615.5 263.2 615.2 263.5 615.1 263.8 615.0 264.0 615.3 264.2 615.9 264.5 616.8 264.8 618.1 265.0 619.6 265.2 621.3 265.5 623.2 265.8 625.4 266.0 627.7 266.2 630.1 266.5 632.6 266.8 635.2 267.0 637.9 267.2 640.5 267.5 643.2 267.8 645.8 268.0 648.3 268.2 650.8 268.5 653.1 268.8 655.3 269.0 657.3 269.2 659.1 269.5 660.6 269.8 661.9 270.0 663.2 270.2 664.5 270.5 665.7 270.8 667.0 271.0 668.2 271.2 669.4 271.5 670.5 271.8 671.6 272.0 672.5 272.2 673.3 272.5 674.0 272.8 674.5 273.0 674.8 273.2 675.0 273.5 673.9 273.8 669.7 274.0 662.7 274.2 653.3 274.5 641.8 274.8 628.6 275.0 614.0 275.2 598.5 275.5 582.4 275.8 566.1 276.0 550.0 276.2 534.3 276.5 519.5 276.8 506.0 277.0 494.2 277.2 484.3 277.5 476.8 277.8 472.0 278.0 470.3 278.2 471.6 278.5 475.2 278.8 480.9 279.0 488.4 279.2 497.3 279.5 507.5 279.8 518.5 280.0 530.1 280.2 542.0 280.5 553.9 280.8 565.5 281.0 576.5 281.2 586.7 281.5 595.6 281.8 603.1 282.0 608.8 282.2 612.4 282.5 613.7 282.8 613.5 283.0 613.1 283.2 612.5 283.5 611.8 283.8 611.2 284.0 610.6 284.2 610.2 284.5 610.0 284.8 610.2 285.0 610.8 285.2 611.9 285.5 613.2 285.8 614.9 286.0 616.8 286.2 618.9 286.5 621.3 286.8 623.8 287.0 626.4 287.2 629.1 287.5 631.9 287.8 634.6 288.0 637.4 288.2 640.1 288.5 642.7 288.8 645.4 289.0 648.6 289.2 652.4 289.5 656.4 289.8 660.6 290.0 664.6 290.2 668.4 290.5 671.7 290.8 674.3 291.0 676.2 291.2 677.0 291.5 676.1 291.8 672.6 292.0 666.8 292.2 658.9 292.5 649.2 292.8 638.0 293.0 625.7 293.2 612.5 293.5 598.7 293.8 584.6 294.0 570.5 294.2 556.7 294.5 543.5 294.8 531.2 295.0 520.0 295.2 510.3 295.5 502.4 295.8 496.6 296.0 493.1 296.2 492.2 296.5 493.8 296.8 497.5 297.0 502.9 297.2 509.9 297.5 518.2 297.8 527.5 298.0 537.6 298.2 548.2 298.5 559.0 298.8 569.8 299.0 580.4 299.2 590.5 299.5 599.8 299.8 608.1 300.0 615.1 300.2 620.5 300.5 624.2 300.8 625.8 301.0 625.6 301.2 624.9 301.5 623.9 301.8 622.7 302.0 621.5 302.2 620.4 302.5 619.6 302.8 619.2 303.0 619.3 303.2 619.9 303.5 620.8 303.8 622.0 304.0 623.5 304.2 625.3 304.5 627.2 304.8 629.3 305.0 631.5 305.2 633.7 305.5 635.9 305.8 638.2 306.0 640.3 306.2 642.4 306.5 645.2 306.8 648.3 307.0 651.6 307.2 654.9 307.5 657.9 307.8 660.4 308.0 662.2 308.2 663.0 308.5 662.0 308.8 658.2 309.0 651.8 309.2 643.2 309.5 632.7 309.8 620.8 310.0 607.7 310.2 593.8 310.5 579.5 310.8 565.2 311.0 551.1 311.2 537.7 311.5 525.2 311.8 514.1 312.0 504.7 312.2 497.4 312.5 492.5 312.8 490.4 313.0 491.0 313.2 493.9 313.5 498.6 313.8 504.9 314.0 512.7 314.2 521.6 314.5 531.4 314.8 541.9 315.0 552.7 315.2 563.7 315.5 574.6 315.8 585.2 316.0 595.1 316.2 604.2 316.5 612.2 316.8 618.9 317.0 623.9 317.2 627.2 317.5 628.3 317.8 628.2 318.0 627.9 318.2 627.4 318.5 626.9 318.8 626.3 319.0 625.8 319.2 625.4 319.5 625.1 319.8 625.0 320.0 625.5 320.2 626.5 320.5 627.9 320.8 629.8 321.0 631.9 321.2 634.2 321.5 636.6 321.8 639.1 322.0 641.4 322.2 643.5 322.5 645.4 322.8 646.8 323.0 647.8 323.2 648.3 323.5 647.3 323.8 643.3 324.0 636.6 324.2 627.7 324.5 617.0 324.8 604.9 325.0 591.7 325.2 577.8 325.5 563.8 325.8 549.9 326.0 536.5 326.2 524.1 326.5 513.1 326.8 503.8 327.0 496.7 327.2 492.1 327.5 490.5 327.8 491.8 328.0 495.6 328.2 501.4 328.5 509.0 328.8 518.1 329.0 528.3 329.2 539.2 329.5 550.6 329.8 562.2 330.0 573.5 330.2 584.4 330.5 594.3 330.8 603.1 331.0 610.4 331.2 615.9 331.5 619.1 331.8 620.0 332.0 620.0 332.2 619.9 332.5 619.8 332.8 619.7 333.0 619.6 333.2 619.5 333.5 619.4 333.8 619.3 334.0 619.2 334.2 619.2 334.5 619.4 334.8 619.8 335.0 620.5 335.2 621.4 335.5 622.5 335.8 623.8 336.0 625.3 336.2 626.9 336.5 628.6 336.8 630.5 337.0 632.4 337.2 634.4 337.5 636.4 337.8 638.5 338.0 640.6 338.2 642.7 338.5 644.8 338.8 646.9 339.0 648.9 339.2 650.8 339.5 653.0 339.8 655.6 340.0 658.5 340.2 661.6 340.5 664.7 340.8 667.8 341.0 670.8 341.2 673.6 341.5 676.1 341.8 678.3 342.0 679.9 342.2 680.9 342.5 681.3 342.8 679.4 343.0 673.9 343.2 665.4 343.5 654.2 343.8 640.7 344.0 625.5 344.2 609.0 344.5 591.6 344.8 573.8 345.0 555.9 345.2 538.5 345.5 522.0 345.8 506.8 346.0 493.3 346.2 482.1 346.5 473.6 346.8 468.1 347.0 466.2 347.2 467.4 347.5 470.9 347.8 476.3 348.0 483.4 348.2 492.0 348.5 501.8 348.8 512.5 349.0 523.8 349.2 535.5 349.5 547.3 349.8 558.9 350.0 570.1 350.2 580.6 350.5 590.2 350.8 598.5 351.0 605.3 351.2 610.4 351.5 613.4 351.8 614.2 352.0 613.9 352.2 613.3 352.5 612.5 352.8 611.7 353.0 611.1 353.2 610.8 353.5 611.0 353.8 611.5 354.0 612.6 354.2 613.9 354.5 615.6 354.8 617.6 355.0 619.8 355.2 622.3 355.5 624.9 355.8 627.6 356.0 630.4 356.2 633.2 356.5 636.0 356.8 638.8 357.0 641.5 357.2 644.1 357.5 647.3 357.8 651.1 358.0 655.2 358.2 659.4 358.5 663.5 358.8 667.3 359.0 670.5 359.2 673.0 359.5 674.6 359.8 674.9 360.0 672.8 360.2 668.0 360.5 660.7 360.8 651.3 361.0 640.1 361.2 627.5 361.5 613.8 361.8 599.3 362.0 584.4 362.2 569.3 362.5 554.4 362.8 540.0 363.0 526.5 363.2 514.2 363.5 503.4 363.8 494.4 364.0 487.6 364.2 483.2 364.5 481.7 364.8 482.8 365.0 486.0 365.2 490.9 365.5 497.4 365.8 505.3 366.0 514.2 366.2 523.9 366.5 534.2 366.8 544.9 367.0 555.7 367.2 566.3 367.5 576.5 367.8 586.1 368.0 594.8 368.2 602.4 368.5 608.6 368.8 613.2 369.0 616.0 369.2 616.7 369.5 616.4 369.8 615.9 370.0 615.1 370.2 614.1 370.5 613.1 370.8 612.2 371.0 611.3 371.2 610.6 371.5 610.1 371.8 610.0 372.0 610.2 372.2 610.7 372.5 611.5 372.8 612.5 373.0 613.7 373.2 615.1 373.5 616.7 373.8 618.5 374.0 620.5 374.2 622.6 374.5 624.8 374.8 627.1 375.0 629.5 375.2 632.0 375.5 634.5 375.8 637.0 376.0 639.5 376.2 642.1 376.5 644.6 376.8 647.0 377.0 649.4 377.2 651.8 377.5 654.0 377.8 656.1 378.0 658.0 378.2 659.8 378.5 661.5 378.8 662.9 379.0 664.2 379.2 665.2 379.5 666.1 379.8 667.1 380.0 668.0 380.2 669.0 380.5 669.9 380.8 670.8 381.0 671.7 381.2 672.5 381.5 673.3 381.8 674.0 382.0 674.7 382.2 675.3 382.5 675.8 382.8 676.2 383.0 676.6 383.2 676.8 383.5 677.0 383.8 676.9 384.0 674.4 384.2 668.6 384.5 660.0 384.8 648.9 385.0 635.8 385.2 621.1 385.5 605.1 385.8 588.3 386.0 571.1 386.2 554.0 386.5 537.2 386.8 521.2 387.0 506.5 387.2 493.4 387.5 482.3 387.8 473.7 388.0 467.9 388.2 465.4 388.5 466.1 388.8 469.0 389.0 474.0 389.2 480.6 389.5 488.8 389.8 498.1 390.0 508.4 390.2 519.4 390.5 530.7 390.8 542.3 391.0 553.7 391.2 564.8 391.5 575.2 391.8 584.7 392.0 593.1 392.2 600.1 392.5 605.4 392.8 608.8 393.0 610.0 393.2 609.9 393.5 609.6 393.8 609.1 394.0 608.5 394.2 607.9 394.5 607.3 394.8 606.8 395.0 606.5 395.2 606.3 395.5 606.4 395.8 606.7 396.0 607.2 396.2 607.9 396.5 608.8 396.8 609.9 397.0 611.2 397.2 612.5 397.5 614.0 397.8 615.7 398.0 617.4 398.2 619.2 398.5 621.0 398.8 622.9 399.0 624.9 399.2 626.9 399.5 628.8 399.8 630.8 400.0 632.7 400.2 634.6 400.5 636.5 400.8 638.3 401.0 640.5 401.2 642.9 401.5 645.6 401.8 648.4 402.0 651.4 402.2 654.3 402.5 657.2 402.8 659.9 403.0 662.4 403.2 664.5 403.5 666.3 403.8 667.7 404.0 668.5 404.2 668.6 404.5 666.5 404.8 661.6 405.0 654.3 405.2 644.9 405.5 633.8 405.8 621.2 406.0 607.7 406.2 593.4 406.5 578.9 406.8 564.3 407.0 550.0 407.2 536.5 407.5 523.9 407.8 512.8 408.0 503.4 408.2 496.1 408.5 491.2 408.8 489.1 409.0 489.6 409.2 491.8 409.5 495.6 409.8 500.8 410.0 507.0 410.2 514.3 410.5 522.3 410.8 531.0 411.0 540.0 411.2 549.3 411.5 558.6 411.8 567.7 412.0 576.6 412.2 584.9 412.5 592.5 412.8 599.2 413.0 604.8 413.2 609.1 413.5 612.0 413.8 613.3 414.0 613.2 414.2 612.6 414.5 611.8 414.8 610.8 415.0 609.9 415.2 609.0 415.5 608.3 415.8 608.0 416.0 608.1 416.2 608.4 416.5 609.0 416.8 609.9 417.0 610.9 417.2 612.1 417.5 613.6 417.8 615.2 418.0 616.9 418.2 618.8 418.5 620.8 418.8 622.9 419.0 625.1 419.2 627.3 419.5 629.6 419.8 632.0 420.0 634.3 420.2 636.7 420.5 639.1 420.8 641.4 421.0 643.7 421.2 646.0 421.5 648.1 421.8 650.2 422.0 652.2 422.2 654.0 422.5 655.7 422.8 657.2 423.0 658.6 423.2 659.8 423.5 660.8 423.8 661.9 424.0 663.0 424.2 664.1 424.5 665.2 424.8 666.2 425.0 667.2 425.2 668.1 425.5 669.0 425.8 669.8 426.0 670.4 426.2 671.0 426.5 671.4 426.8 671.6 427.0 671.7 427.2 670.3 427.5 666.3 427.8 660.1 428.0 651.8 428.2 641.8 428.5 630.4 428.8 617.8 429.0 604.4 429.2 590.4 429.5 576.1 429.8 561.8 430.0 547.8 430.2 534.4 430.5 521.8 430.8 510.4 431.0 500.4 431.2 492.1 431.5 485.9 431.8 481.9 432.0 480.5 432.2 481.4 432.5 483.9 432.8 488.0 433.0 493.3 433.2 499.8 433.5 507.3 433.8 515.5 434.0 524.3 434.2 533.5 434.5 543.0 434.8 552.6 435.0 562.1 435.2 571.3 435.5 580.0 435.8 588.2 436.0 595.5 436.2 601.8 436.5 606.9 436.8 610.8 437.0 613.1 437.2 613.7 437.5 613.8 437.8 613.8 438.0 613.9 438.2 613.9 438.5 613.9 438.8 614.0 439.0 614.4 439.2 615.3 439.5 616.5 439.8 618.1 440.0 620.0 440.2 622.1 440.5 624.4 440.8 626.9 441.0 629.6 441.2 632.3 441.5 635.0 441.8 637.7 442.0 640.4 442.2 643.0 442.5 645.8 442.8 649.2 443.0 653.1 443.2 657.2 443.5 661.2 443.8 665.1 444.0 668.4 444.2 671.0 444.5 672.6 444.8 672.9 445.0 670.8 445.2 665.8 445.5 658.4 445.8 648.9 446.0 637.7 446.2 625.0 446.5 611.3 446.8 596.9 447.0 582.1 447.2 567.4 447.5 553.0 447.8 539.3 448.0 526.6 448.2 515.4 448.5 505.9 448.8 498.5 449.0 493.5 449.2 491.4 449.5 491.8 449.8 493.6 450.0 496.7 450.2 500.9 450.5 506.1 450.8 512.2 451.0 519.1 451.2 526.6 451.5 534.7 451.8 543.1 452.0 551.8 452.2 560.7 452.5 569.6 452.8 578.4 453.0 587.0 453.2 595.2 453.5 603.0 453.8 610.2 454.0 616.7 454.2 622.4 454.5 627.0 454.8 630.7 455.0 633.1 455.2 634.2 455.5 634.3 455.8 634.3 456.0 634.3 456.2 634.4 456.5 634.4 456.8 634.5 457.0 635.0 457.2 636.1 457.5 637.6 457.8 639.5 458.0 641.7 458.2 644.1 458.5 646.7 458.8 649.4 459.0 652.1 459.2 654.7 459.5 657.3 459.8 660.4 460.0 664.1 460.2 668.2 460.5 672.1 460.8 675.5 461.0 678.0 461.2 679.2 461.5 678.1 461.8 673.8 462.0 666.7 462.2 657.2 462.5 645.6 462.8 632.4 463.0 617.9 463.2 602.5 463.5 586.6 463.8 570.7 464.0 555.1 464.2 540.2 464.5 526.4 464.8 514.1 465.0 503.7 465.2 495.6 465.5 490.1 465.8 487.8 466.0 488.3 466.2 490.5 466.5 494.2 466.8 499.2 467.0 505.4 467.2 512.7 467.5 520.7 467.8 529.5 468.0 538.7 468.2 548.3 468.5 558.0 468.8 567.7 469.0 577.3 469.2 586.5 469.5 595.3 469.8 603.3 470.0 610.6 470.2 616.8 470.5 621.8 470.8 625.5 471.0 627.7 471.2 628.3 471.5 628.1 471.8 627.6 472.0 627.0 472.2 626.5 472.5 626.0 472.8 625.8 473.0 625.9 473.2 626.5 473.5 627.4 473.8 628.7 474.0 630.2 474.2 632.1 474.5 634.1 474.8 636.4 475.0 638.8 475.2 641.3 475.5 643.8 475.8 646.4 476.0 649.0 476.2 651.6 476.5 654.1 476.8 656.5 477.0 659.5 477.2 663.0 477.5 666.7 477.8 670.6 478.0 674.4 478.2 677.9 478.5 680.9 478.8 683.2 479.0 684.6 479.2 684.9 479.5 682.7 479.8 677.4 480.0 669.5 480.2 659.4 480.5 647.3 480.8 633.7 481.0 618.9 481.2 603.2 481.5 587.0 481.8 570.7 482.0 554.6 482.2 539.1 482.5 524.5 482.8 511.1 483.0 499.4 483.2 489.7 483.5 482.3 483.8 477.6 484.0 476.0 484.2 477.1 484.5 480.3 484.8 485.4 485.0 492.1 485.2 500.1 485.5 509.2 485.8 519.2 486.0 529.9 486.2 540.9 486.5 552.1 486.8 563.2 487.0 573.9 487.2 584.0 487.5 593.4 487.8 601.6 488.0 608.6 488.2 614.0 488.5 617.6 488.8 619.2 489.0 619.1 489.2 618.6 489.5 617.8 489.8 616.9 490.0 615.8 490.2 614.8 490.5 613.9 490.8 613.1 491.0 612.6 491.2 612.5 491.5 612.7 491.8 613.1 492.0 613.7 492.2 614.4 492.5 615.4 492.8 616.5 493.0 617.8 493.2 619.2 493.5 620.8 493.8 622.4 494.0 624.2 494.2 626.0 494.5 627.9 494.8 629.8 495.0 631.8 495.2 633.7 495.5 635.7 495.8 637.7 496.0 639.7 496.2 641.6 496.5 643.4 496.8 645.3 497.0 647.4 497.2 649.8 497.5 652.5 497.8 655.3 498.0 658.3 498.2 661.2 498.5 664.1 498.8 666.9 499.0 669.5 499.2 671.8 499.5 673.7 499.8 675.2 500.0 676.2 500.2 676.7 500.5 675.7 500.8 671.9 501.0 665.5 501.2 656.8 501.5 646.1 501.8 633.8 502.0 620.2 502.2 605.6 502.5 590.2 502.8 574.5 503.0 558.7 503.2 543.2 503.5 528.3 503.8 514.2 504.0 501.3 504.2 490.0 504.5 480.5 504.8 473.1 505.0 468.2 505.2 466.1 505.5 466.7 505.8 469.3 506.0 473.8 506.2 479.9 506.5 487.3 506.8 495.8 507.0 505.3 507.2 515.5 507.5 526.1 507.8 537.1 508.0 548.0 508.2 558.8 508.5 569.2 508.8 579.0 509.0 587.9 509.2 595.8 509.5 602.4 509.8 607.6 510.0 611.0 510.2 612.5 510.5 612.5 510.8 612.3 511.0 612.1 511.2 611.8 511.5 611.5 511.8 611.3 512.0 611.0 512.2 610.9 512.5 610.8 512.8 611.3 513.0 612.7 513.2 614.8 513.5 617.5 513.8 620.6 514.0 624.0 514.2 627.4 514.5 630.8 514.8 634.0 515.0 636.8 515.2 639.0 515.5 640.6 515.8 641.3 516.0 640.3 516.2 636.3 516.5 629.7 516.8 621.0 517.0 610.5 517.2 598.6 517.5 585.8 517.8 572.6 518.0 559.2 518.2 546.2 518.5 533.9 518.8 522.9 519.0 513.4 519.2 505.9 519.5 500.8 519.8 498.6 520.0 499.1 520.2 501.3 520.5 505.1 520.8 510.2 521.0 516.4 521.2 523.6 521.5 531.5 521.8 540.0 522.0 548.9 522.2 558.0 522.5 567.1 522.8 576.0 523.0 584.5 523.2 592.4 523.5 599.6 523.8 605.8 524.0 610.9 524.2 614.7 524.5 616.9 524.8 617.5 525.0 617.4 525.2 617.1 525.5 616.7 525.8 616.3 526.0 615.8 526.2 615.4 526.5 615.0 526.8 614.8 527.0 614.7 527.2 614.9 527.5 615.4 527.8 616.3 528.0 617.4 528.2 618.9 528.5 620.5 528.8 622.4 529.0 624.4 529.2 626.6 529.5 628.9 529.8 631.3 530.0 633.8 530.2 636.2 530.5 638.7 530.8 641.2 531.0 643.6 531.2 646.0 531.5 648.2 531.8 650.2 532.0 652.2 532.2 653.9 532.5 655.3 532.8 656.6 533.0 657.5 533.2 658.2 533.5 658.9 533.8 659.5 534.0 660.0 534.2 660.5 534.5 660.9 534.8 661.4 535.0 661.8 535.2 662.3 535.5 662.8 535.8 663.4 536.0 664.1 536.2 665.0 536.5 666.0 536.8 667.1 537.0 668.2 537.2 669.1 537.5 669.7 537.8 670.0 538.0 668.9 538.2 664.6 538.5 657.5 538.8 647.9 539.0 636.1 539.2 622.7 539.5 607.8 539.8 592.0 540.0 575.6 540.2 559.0 540.5 542.5 540.8 526.6 541.0 511.5 541.2 497.7 541.5 485.6 541.8 475.5 542.0 467.9 542.2 463.0 542.5 461.3 542.8 462.4 543.0 465.4 543.2 470.3 543.5 476.6 543.8 484.3 544.0 493.1 544.2 502.8 544.5 513.2 544.8 524.0 545.0 535.0 545.2 546.0 545.5 556.8 545.8 567.2 546.0 576.9 546.2 585.7 546.5 593.4 546.8 599.7 547.0 604.6 547.2 607.6 547.5 608.7 547.8 608.6 548.0 608.5 548.2 608.3 548.5 608.1 548.8 607.9 549.0 607.7 549.2 607.6 549.5 607.5 549.8 607.8 550.0 608.7 550.2 610.0 550.5 611.8 550.8 614.0 551.0 616.4 551.2 619.1 551.5 622.0 551.8 624.9 552.0 627.9 552.2 630.9 552.5 633.7 552.8 636.5 553.0 640.1 553.2 644.3 553.5 648.7 553.8 653.1 554.0 656.9 554.2 660.0 554.5 662.0 554.8 662.4 555.0 660.1 555.2 654.6 555.5 646.5 555.8 636.2 556.0 624.0 556.2 610.5 556.5 595.9 556.8 580.8 557.0 565.5 557.2 550.4 557.5 536.0 557.8 522.7 558.0 510.9 558.2 501.0 558.5 493.4 558.8 488.5 559.0 486.8 559.2 487.7 559.5 490.1 559.8 494.0 560.0 499.2 560.2 505.4 560.5 512.6 560.8 520.5 561.0 529.0 561.2 537.9 561.5 547.1 561.8 556.3 562.0 565.4 562.2 574.2 562.5 582.6 562.8 590.4 563.0 597.4 563.2 603.5 563.5 608.4 563.8 612.0 564.0 614.1 564.2 614.7 564.5 614.5 564.8 614.0 565.0 613.3 565.2 612.6 565.5 611.9 565.8 611.3 566.0 610.9 566.2 610.8 566.5 611.0 566.8 611.3 567.0 611.9 567.2 612.7 567.5 613.6 567.8 614.8 568.0 616.0 568.2 617.5 568.5 619.0 568.8 620.6 569.0 622.4 569.2 624.2 569.5 626.2 569.8 628.2 570.0 630.2 570.2 632.3 570.5 634.4 570.8 636.5 571.0 638.6 571.2 640.7 571.5 642.8 571.8 644.8 572.0 646.8 572.2 648.7 572.5 650.5 572.8 652.3 573.0 653.9 573.2 655.5 573.5 656.9 573.8 658.1 574.0 659.2 574.2 660.2 574.5 661.0 574.8 661.7 575.0 662.4 575.2 663.0 575.5 663.6 575.8 664.2 576.0 664.8 576.2 665.5 576.5 666.1 576.8 666.8 577.0 667.6 577.2 668.7 577.5 669.9 577.8 671.3 578.0 672.6 578.2 673.8 578.5 674.6 578.8 675.0 579.0 673.8 579.2 669.1 579.5 661.4 579.8 651.0 580.0 638.3 580.2 623.8 580.5 608.0 580.8 591.2 581.0 573.8 581.2 556.4 581.5 539.4 581.8 523.1 582.0 508.0 582.2 494.6 582.5 483.2 582.8 474.3 583.0 468.4 583.2 465.8 583.5 466.4 583.8 468.9 584.0 473.1 584.2 478.9 584.5 485.9 584.8 494.1 585.0 503.1 585.2 512.7 585.5 522.9 585.8 533.3 586.0 543.7 586.2 554.0 586.5 563.8 586.8 573.1 587.0 581.6 587.2 589.2 587.5 595.4 587.8 600.3 588.0 603.6 588.2 605.0 588.5 604.9 588.8 604.7 589.0 604.3 589.2 603.8 589.5 603.4 589.8 603.0 590.0 602.7 590.2 602.5 590.5 602.6 590.8 602.9 591.0 603.5 591.2 604.3 591.5 605.3 591.8 606.5 592.0 607.9 592.2 609.4 592.5 611.1 592.8 612.9 593.0 614.9 593.2 616.9 593.5 619.1 593.8 621.3 594.0 623.5 594.2 625.8 594.5 628.2 594.8 630.5 595.0 632.9 595.2 635.2 595.5 637.5 595.8 639.8 596.0 641.9 596.2 644.1 596.5 646.1 596.8 648.0 597.0 649.8 597.2 651.4 597.5 652.9 597.8 654.3 598.0 655.4 598.2 656.3 598.5 657.1 598.8 657.6 599.0 658.0 599.2 658.4 599.5 658.8 599.8 659.2 600.0 659.6 600.2 660.0 600.5 660.3 600.8 660.6 601.0 660.9 601.2 661.1 601.5 661.3 601.8 661.5 602.0 661.6 602.2 661.7 602.5 661.7 602.8 660.1 603.0 655.4 603.2 648.1 603.5 638.6 603.8 627.2 604.0 614.4 604.2 600.6 604.5 586.2 604.8 571.5 605.0 556.9 605.2 543.0 605.5 529.9 605.8 518.3 606.0 508.3 606.2 500.6 606.5 495.3 606.8 493.1 607.0 493.5 607.2 495.6 607.5 499.2 607.8 504.0 608.0 509.9 608.2 516.7 608.5 524.3 608.8 532.6 609.0 541.2 609.2 550.1 609.5 559.1 609.8 568.0 610.0 576.8 610.2 585.1 610.5 592.8 610.8 599.8 611.0 605.9 611.2 610.9 611.5 614.8 611.8 617.2 612.0 618.0 612.2 618.0 612.5 617.9 612.8 617.8 613.0 617.7 613.2 617.6 613.5 617.5 613.8 617.5 614.0 617.9 614.2 618.8 614.5 620.0 614.8 621.7 615.0 623.7 615.2 625.9 615.5 628.3 615.8 630.8 616.0 633.4 616.2 636.0 616.5 638.6 616.8 641.0 617.0 643.8 617.2 647.2 617.5 651.0 617.8 654.8 618.0 658.4 618.2 661.5 618.5 663.7 618.8 664.7 619.0 663.6 619.2 659.4 619.5 652.4 619.8 643.1 620.0 631.8 620.2 619.1 620.5 605.2 620.8 590.7 621.0 575.9 621.2 561.3 621.5 547.3 621.8 534.3 622.0 522.7 622.2 513.0 622.5 505.5 622.8 500.7 623.0 499.0 623.2 499.8 623.5 502.2 623.8 506.0 624.0 511.0 624.2 517.1 624.5 524.1 624.8 531.8 625.0 540.1 625.2 548.8 625.5 557.8 625.8 566.9 626.0 575.9 626.2 584.7 626.5 593.1 626.8 601.0 627.0 608.1 627.2 614.4 627.5 619.6 627.8 623.6 628.0 626.3 628.2 627.5 628.5 627.4 628.8 627.1 629.0 626.6 629.2 626.0 629.5 625.5 629.8 625.1 630.0 625.0 630.2 625.3 630.5 626.1 630.8 627.2 631.0 628.6 631.2 630.0 631.5 631.3 631.8 632.4 632.0 633.1 632.2 633.3 632.5 631.9 632.8 628.7 633.0 624.1 633.2 618.1 633.5 611.2 633.8 603.5 634.0 595.3 634.2 586.8 634.5 578.3 634.8 570.1 635.0 562.4 635.2 555.5 635.5 549.5 635.8 544.9 636.0 541.7 636.2 540.3 636.5 540.9 636.8 543.1 637.0 546.8 637.2 551.7 637.5 557.6 637.8 564.3 638.0 571.6 638.2 579.2 638.5 587.0 638.8 594.7 639.0 602.1 639.2 608.9 639.5 615.0 639.8 620.2 640.0 624.1 640.2 626.6 640.5 627.5 640.8 627.4 641.0 627.2 641.2 626.9 641.5 626.5 641.8 626.0 642.0 625.5 642.2 625.0 642.5 624.4 642.8 623.9 643.0 623.4 643.2 622.9 643.5 622.5 643.8 622.2 644.0 622.0 644.2 622.0 644.5 622.4 644.8 623.4 645.0 624.9 645.2 626.8 645.5 629.1 645.8 631.7 646.0 634.5 646.2 637.6 646.5 640.9 646.8 644.2 647.0 647.6 647.2 650.9 647.5 654.2 647.8 657.4 648.0 660.3 648.2 663.0 648.5 665.4 648.8 667.4 649.0 669.0 649.2 670.2 649.5 671.2 649.8 672.1 650.0 673.1 650.2 674.0 650.5 674.9 650.8 675.7 651.0 676.5 651.2 677.3 651.5 678.0 651.8 678.7 652.0 679.3 652.2 679.8 652.5 680.2 652.8 680.6 653.0 680.9 653.2 681.1 653.5 681.3 653.8 681.2 654.0 678.5 654.2 672.3 654.5 663.0 654.8 651.1 655.0 637.0 655.2 621.2 655.5 604.0 655.8 586.0 656.0 567.5 656.2 549.0 656.5 531.0 656.8 513.8 657.0 498.0 657.2 483.9 657.5 472.0 657.8 462.7 658.0 456.5 658.2 453.8 658.5 454.4 658.8 457.3 659.0 462.0 659.2 468.4 659.5 476.3 659.8 485.3 660.0 495.4 660.2 506.2 660.5 517.5 660.8 529.1 661.0 540.8 661.2 552.2 661.5 563.3 661.8 573.6 662.0 583.1 662.2 591.5 662.5 598.5 662.8 604.0 663.0 607.6 663.2 609.2 663.5 609.1 663.8 608.6 664.0 607.9 664.2 607.2 664.5 606.5 664.8 606.0 665.0 605.8 665.2 606.0 665.5 606.4 665.8 607.2 666.0 608.2 666.2 609.5 666.5 611.0 666.8 612.6 667.0 614.5 667.2 616.5 667.5 618.7 667.8 620.9 668.0 623.3 668.2 625.7 668.5 628.2 668.8 630.6 669.0 633.1 669.2 635.6 669.5 638.0 669.8 640.4 670.0 642.7 670.2 645.2 670.5 648.2 670.8 651.6 671.0 655.2 671.2 658.8 671.5 662.5 671.8 666.1 672.0 669.5 672.2 672.5 672.5 675.1 672.8 677.2 673.0 678.6 673.2 679.2 673.5 678.2 673.8 674.5 674.0 668.3 674.2 659.8 674.5 649.4 674.8 637.4 675.0 624.2 675.2 609.9 675.5 595.0 675.8 579.7 676.0 564.3 676.2 549.2 676.5 534.6 676.8 520.9 677.0 508.4 677.2 497.3 677.5 488.1 677.8 480.9 678.0 476.1 678.2 474.1 678.5 474.7 678.8 477.3 679.0 481.7 679.2 487.6 679.5 494.9 679.8 503.4 680.0 512.7 680.2 522.7 680.5 533.2 680.8 544.0 681.0 554.8 681.2 565.4 681.5 575.7 681.8 585.3 682.0 594.1 682.2 601.9 682.5 608.4 682.8 613.4 683.0 616.8 683.2 618.3 683.5 618.1 683.8 617.3 684.0 616.2 684.2 614.8 684.5 613.4 684.8 612.2 685.0 611.3 685.2 610.8 685.5 610.9 685.8 611.2 686.0 611.8 686.2 612.7 686.5 613.7 686.8 615.0 687.0 616.4 687.2 617.9 687.5 619.7 687.8 621.5 688.0 623.4 688.2 625.5 688.5 627.6 688.8 629.7 689.0 631.9 689.2 634.1 689.5 636.2 689.8 638.4 690.0 640.5 690.2 642.6 690.5 644.6 690.8 646.9 691.0 649.7 691.2 652.7 691.5 655.8 691.8 659.1 692.0 662.3 692.2 665.4 692.5 668.3 692.8 671.0 693.0 673.2 693.2 675.0 693.5 676.2 693.8 676.7 694.0 675.7 694.2 671.9 694.5 665.6 694.8 656.9 695.0 646.4 695.2 634.2 695.5 620.6 695.8 606.1 696.0 590.9 696.2 575.3 696.5 559.7 696.8 544.3 697.0 529.5 697.2 515.5 697.5 502.7 697.8 491.5 698.0 482.0 698.2 474.7 698.5 469.9 698.8 467.8 699.0 468.3 699.2 470.6 699.5 474.4 699.8 479.6 700.0 486.1 700.2 493.6 700.5 501.9 700.8 510.9 701.0 520.5 701.2 530.4 701.5 540.5 701.8 550.6 702.0 560.5 702.2 570.1 702.5 579.1 702.8 587.4 703.0 594.9 703.2 601.4 703.5 606.6 703.8 610.4 704.0 612.7 704.2 613.3 704.5 613.3 704.8 613.3 705.0 613.3 705.2 613.3 705.5 613.3 705.8 613.3 706.0 613.5 706.2 614.2 706.5 615.4 706.8 617.1 707.0 619.1 707.2 621.4 707.5 624.0 707.8 626.8 708.0 629.7 708.2 632.6 708.5 635.6 708.8 638.5 709.0 641.2 709.2 644.2 709.5 648.0 709.8 652.2 710.0 656.6 710.2 660.9 710.5 664.6 710.8 667.6 711.0 669.5 711.2 669.9 711.5 667.4 711.8 661.6 712.0 653.1 712.2 642.1 712.5 629.3 712.8 614.9 713.0 599.5 713.2 583.5 713.5 567.3 713.8 551.3 714.0 536.1 714.2 522.0 714.5 509.5 714.8 499.0 715.0 491.0 715.2 485.8 715.5 484.0 715.8 485.2 716.0 488.5 716.2 493.7 716.5 500.6 716.8 508.8 717.0 518.0 717.2 528.1 717.5 538.8 717.8 549.6 718.0 560.5 718.2 571.2 718.5 581.3 718.8 590.5 719.0 598.7 719.2 605.6 719.5 610.8 719.8 614.1 720.0 615.3 720.2 615.2 720.5 615.0 720.8 614.8 721.0 614.5 721.2 614.2 721.5 614.0 721.8 613.8 722.0 613.7 722.2 613.8 722.5 614.2 722.8 614.7 723.0 615.5 723.2 616.5 723.5 617.6 723.8 618.9 724.0 620.3 724.2 621.9 724.5 623.5 724.8 625.3 725.0 627.1 725.2 629.0 725.5 630.9 725.8 632.9 726.0 634.9 726.2 636.9 726.5 638.9 726.8 640.8 727.0 642.7 727.2 644.5 727.5 646.5 727.8 648.8 728.0 651.4 728.2 654.2 728.5 657.1 728.8 660.0 729.0 663.0 729.2 665.8 729.5 668.4 729.8 670.7 730.0 672.7 730.2 674.3 730.5 675.3 730.8 675.8 731.0 674.9 731.2 671.3 731.5 665.2 731.8 657.1 732.0 647.0 732.2 635.5 732.5 622.7 732.8 608.9 733.0 594.5 733.2 579.7 733.5 564.9 733.8 550.3 734.0 536.2 734.2 523.0 734.5 510.9 734.8 500.2 735.0 491.3 735.2 484.4 735.5 479.8 735.8 477.8 736.0 478.3 736.2 480.8 736.5 485.0 736.8 490.7 737.0 497.6 737.2 505.6 737.5 514.5 737.8 524.1 738.0 534.1 738.2 544.3 738.5 554.6 738.8 564.7 739.0 574.4 739.2 583.6 739.5 592.0 739.8 599.4 740.0 605.6 740.2 610.4 740.5 613.6 740.8 615.0 741.0 615.0 741.2 614.9 741.5 614.7 741.8 614.5 742.0 614.4 742.2 614.2 742.5 614.2 742.8 614.5 743.0 615.2 743.2 616.4 743.5 618.0 743.8 619.8 744.0 622.0 744.2 624.4 744.5 627.0 744.8 629.8 745.0 632.6 745.2 635.4 745.5 638.2 745.8 640.9 746.0 643.6 746.2 646.6 746.5 650.3 746.8 654.4 747.0 658.6 747.2 662.6 747.5 666.3 747.8 669.4 748.0 671.5 748.2 672.5 748.5 671.5 748.8 667.8 749.0 661.5 749.2 653.1 749.5 642.9 749.8 631.1 750.0 618.1 750.2 604.2 750.5 589.9 750.8 575.3 751.0 560.9 751.2 546.9 751.5 533.7 751.8 521.7 752.0 511.1 752.2 502.3 752.5 495.6 752.8 491.3 753.0 489.8 753.2 490.7 753.5 493.1 753.8 497.0 754.0 502.2 754.2 508.5 754.5 515.8 754.8 523.8 755.0 532.4 755.2 541.4 755.5 550.8 755.8 560.2 756.0 569.5 756.2 578.6 756.5 587.3 756.8 595.5 757.0 602.9 757.2 609.4 757.5 614.8 757.8 619.0 758.0 621.8 758.2 623.0 758.5 623.0 758.8 622.8 759.0 622.6 759.2 622.4 759.5 622.2 759.8 622.1 760.0 622.0 760.2 622.3 760.5 623.1 760.8 624.4 761.0 626.1 761.2 628.2 761.5 630.5 761.8 633.1 762.0 635.9 762.2 638.7 762.5 641.6 762.8 644.5 763.0 647.2 763.2 649.9 763.5 653.2 763.8 657.1 764.0 661.4 764.2 665.6 764.5 669.6 764.8 672.9 765.0 675.2 765.2 676.3 765.5 675.3 765.8 671.4 766.0 664.9 766.2 656.2 766.5 645.5 766.8 633.3 767.0 619.9 767.2 605.5 767.5 590.6 767.8 575.5 768.0 560.5 768.2 546.1 768.5 532.4 768.8 519.9 769.0 508.9 769.2 499.7 769.5 492.8 769.8 488.4 770.0 486.8 770.2 487.8 770.5 490.5 770.8 494.8 771.0 500.6 771.2 507.5 771.5 515.4 771.8 524.1 772.0 533.4 772.2 543.1 772.5 553.0 772.8 562.9 773.0 572.6 773.2 581.9 773.5 590.6 773.8 598.5 774.0 605.4 774.2 611.2 774.5 615.5 774.8 618.2 775.0 619.2 775.2 619.1 775.5 618.8 775.8 618.3 776.0 617.7 776.2 617.2 776.5 616.6 776.8 616.2 777.0 615.9 777.2 615.8 777.5 616.1 777.8 616.9 778.0 618.1 778.2 619.6 778.5 621.4 778.8 623.6 779.0 626.0 779.2 628.6 779.5 631.4 779.8 634.4 780.0 637.5 780.2 640.6 780.5 643.8 780.8 647.0 781.0 650.2 781.2 653.3 781.5 656.3 781.8 659.2 782.0 661.9 782.2 664.3 782.5 666.6 782.8 668.5 783.0 670.2 783.2 671.5 783.5 672.5 783.8 673.5 784.0 674.6 784.2 675.5 784.5 676.5 784.8 677.4 785.0 678.3 785.2 679.2 785.5 680.0 785.8 680.7 786.0 681.3 786.2 681.9 786.5 682.4 786.8 682.8 787.0 683.1 787.2 683.2 787.5 683.3 787.8 681.6 788.0 676.7 788.2 669.0 788.5 658.9 788.8 646.7 789.0 632.9 789.2 617.8 789.5 601.8 789.8 585.2 790.0 568.5 790.2 552.1 790.5 536.2 790.8 521.3 791.0 507.8 791.2 496.0 791.5 486.4 791.8 479.2 792.0 474.9 792.2 473.9 792.5 475.6 792.8 479.6 793.0 485.5 793.2 493.2 793.5 502.2 793.8 512.3 794.0 523.2 794.2 534.7 794.5 546.3 794.8 558.0 795.0 569.2 795.2 579.9 795.5 589.6 795.8 598.1 796.0 605.1 796.2 610.3 796.5 613.4 796.8 614.2 797.0 614.2 797.2 614.1 797.5 614.0 797.8 613.9 798.0 613.8 798.2 613.8 798.5 613.7 798.8 613.7 799.0 614.2 799.2 615.2 799.5 616.7 799.8 618.7 800.0 621.0 800.2 623.5 800.5 626.2 800.8 629.0 801.0 631.9 801.2 634.6 801.5 637.3 801.8 640.5 802.0 644.4 802.2 648.6 802.5 652.7 802.8 656.2 803.0 658.8 803.2 660.0 803.5 658.9 803.8 654.9 804.0 648.2 804.2 639.2 804.5 628.3 804.8 616.0 805.0 602.7 805.2 588.6 805.5 574.4 805.8 560.3 806.0 546.8 806.2 534.2 806.5 523.1 806.8 513.7 807.0 506.5 807.2 501.8 807.5 500.2 807.8 501.1 808.0 503.8 808.2 508.1 808.5 513.7 808.8 520.5 809.0 528.2 809.2 536.8 809.5 545.9 809.8 555.4 810.0 565.1 810.2 574.8 810.5 584.3 810.8 593.4 811.0 602.0 811.2 609.7 811.5 616.5 811.8 622.1 812.0 626.4 812.2 629.1 812.5 630.0 812.8 630.0 813.0 630.0 813.2 629.9 813.5 629.9 813.8 629.8 814.0 629.8 814.2 629.7 814.5 629.7 814.8 629.7 815.0 630.0 815.2 630.6 815.5 631.6 815.8 632.9 816.0 634.4 816.2 636.2 816.5 638.2 816.8 640.3 817.0 642.6 817.2 644.9 817.5 647.4 817.8 649.8 818.0 652.2 818.2 654.6 818.5 656.9 818.8 659.2 819.0 662.0 819.2 665.3 819.5 668.9 819.8 672.5 820.0 676.0 820.2 679.2 820.5 682.0 820.8 684.1 821.0 685.5 821.2 685.7 821.5 683.2 821.8 677.5 822.0 668.9 822.2 657.8 822.5 644.8 822.8 630.1 823.0 614.2 823.2 597.4 823.5 580.3 823.8 563.2 824.0 546.4 824.2 530.5 824.5 515.8 824.8 502.8 825.0 491.7 825.2 483.1 825.5 477.4 825.8 474.9 826.0 475.5 826.2 478.0 826.5 482.3 826.8 488.1 827.0 495.2 827.2 503.3 827.5 512.4 827.8 522.1 828.0 532.3 828.2 542.8 828.5 553.3 828.8 563.6 829.0 573.6 829.2 582.9 829.5 591.5 829.8 599.0 830.0 605.4 830.2 610.3 830.5 613.5 830.8 615.0 831.0 615.0 831.2 614.8 831.5 614.5 831.8 614.2 832.0 613.9 832.2 613.5 832.5 613.3 832.8 613.1 833.0 613.0 833.2 613.2 833.5 614.0 833.8 615.1 834.0 616.7 834.2 618.6 834.5 620.8 834.8 623.3 835.0 626.0 835.2 629.0 835.5 632.1 835.8 635.3 836.0 638.7 836.2 642.0 836.5 645.4 836.8 648.8 837.0 652.1 837.2 655.4 837.5 658.4 837.8 661.3 838.0 664.0 838.2 666.5 838.5 668.6 838.8 670.5 839.0 671.9 839.2 673.0 839.5 673.6 839.8 673.8 840.0 673.6 840.2 673.2 840.5 672.6 840.8 672.1 841.0 671.5 841.2 671.1 841.5 671.0 841.8 671.1 842.0 671.4 842.2 671.8 842.5 672.2 842.8 672.6 843.0 672.9 843.2 673.0 843.5 671.8 843.8 667.1 844.0 659.4 844.2 649.0 844.5 636.4 844.8 622.0 845.0 606.3 845.2 589.7 845.5 572.6 845.8 555.6 846.0 539.0 846.2 523.3 846.5 508.9 846.8 496.3 847.0 485.9 847.2 478.2 847.5 473.5 847.8 472.3 848.0 473.6 848.2 476.6 848.5 481.0 848.8 486.8 849.0 493.6 849.2 501.4 849.5 510.0 849.8 519.1 850.0 528.6 850.2 538.2 850.5 547.9 850.8 557.4 851.0 566.5 851.2 575.1 851.5 582.9 851.8 589.7 852.0 595.5 852.2 599.9 852.5 602.9 852.8 604.2 853.0 604.1 853.2 603.7 853.5 603.2 853.8 602.5 854.0 601.8 854.2 601.3 854.5 600.9 854.8 600.8 855.0 601.0 855.2 601.5 855.5 602.3 855.8 603.4 856.0 604.7 856.2 606.2 856.5 607.9 856.8 609.8 857.0 611.9 857.2 614.0 857.5 616.3 857.8 618.7 858.0 621.2 858.2 623.7 858.5 626.2 858.8 628.8 859.0 631.3 859.2 633.8 859.5 636.3 859.8 638.6 860.0 640.9 860.2 643.1 860.5 645.2 860.8 647.1 861.0 648.8 861.2 650.3 861.5 651.6 861.8 652.7 862.0 653.6 862.2 654.5 862.5 655.3 862.8 656.0 863.0 656.7 863.2 657.4 863.5 658.0 863.8 658.6 864.0 659.3 864.2 659.9 864.5 660.5 864.8 661.1 865.0 661.8 865.2 662.5 865.5 663.3 865.8 664.1 866.0 665.1 866.2 666.3 866.5 667.6 866.8 669.1 867.0 670.5 867.2 671.9 867.5 673.2 867.8 674.3 868.0 675.2 868.2 675.8 868.5 676.0 868.8 674.5 869.0 670.1 869.2 663.2 869.5 654.2 869.8 643.2 870.0 630.6 870.2 616.8 870.5 602.1 870.8 586.7 871.0 571.0 871.2 555.3 871.5 539.9 871.8 525.2 872.0 511.4 872.2 498.8 872.5 487.8 872.8 478.8 873.0 471.9 873.2 467.5 873.5 466.0 873.8 467.2 874.0 470.6 874.2 475.9 874.5 482.9 874.8 491.2 875.0 500.8 875.2 511.2 875.5 522.3 875.8 533.7 876.0 545.2 876.2 556.6 876.5 567.5 876.8 577.8 877.0 587.1 877.2 595.3 877.5 601.9 877.8 606.9 878.0 609.8 878.2 610.6 878.5 610.5 878.8 610.2 879.0 609.9 879.2 609.5 879.5 609.1 879.8 608.8 880.0 608.6 880.2 608.5 880.5 609.0 880.8 610.1 881.0 611.7 881.2 613.7 881.5 616.0 881.8 618.5 882.0 621.1 882.2 623.7 882.5 626.1 882.8 628.3 883.0 630.2 883.2 631.6 883.5 632.5 883.8 632.7 884.0 631.2 884.2 627.8 884.5 622.9 884.8 616.8 885.0 609.6 885.2 601.8 885.5 593.6 885.8 585.4 886.0 577.4 886.2 570.0 886.5 563.4 886.8 558.0 887.0 553.9 887.2 551.7 887.5 551.5 887.8 554.1 888.0 559.1 888.2 566.0 888.5 574.4 888.8 583.9 889.0 593.9 889.2 604.0 889.5 613.7 889.8 622.6 890.0 630.2 890.2 636.0 890.5 639.6 890.8 640.5 891.0 640.5 891.2 640.5 891.5 640.4 891.8 640.4 892.0 640.3 892.2 640.2 892.5 640.2 892.8 640.1 893.0 640.1 893.2 640.0 893.5 640.0 893.8 640.0 894.0 640.1 894.2 640.2 894.5 640.5 894.8 640.7 895.0 640.9 895.2 641.1 895.5 641.3 895.8 641.3 896.0 639.7 896.2 636.0 896.5 630.5 896.8 623.4 897.0 615.0 897.2 605.6 897.5 595.2 897.8 584.3 898.0 573.0 898.2 561.7 898.5 550.5 898.8 539.6 899.0 529.5 899.2 520.2 899.5 512.0 899.8 505.3 900.0 500.1 900.2 496.8 900.5 495.7 900.8 496.7 901.0 499.7 901.2 504.3 901.5 510.3 901.8 517.5 902.0 525.8 902.2 534.7 902.5 544.2 902.8 553.9 903.0 563.7 903.2 573.3 903.5 582.5 903.8 591.1 904.0 598.7 904.2 605.3 904.5 610.5 904.8 614.1 905.0 615.9 905.2 616.1 905.5 615.9 905.8 615.7 906.0 615.4 906.2 615.0 906.5 614.7 906.8 614.3 907.0 614.0 907.2 613.7 907.5 613.5 907.8 613.4 908.0 613.5 908.2 613.7 908.5 614.1 908.8 614.7 909.0 615.4 909.2 616.3 909.5 617.3 909.8 618.4 910.0 619.7 910.2 621.0 910.5 622.4 910.8 623.9 911.0 625.4 911.2 627.0 911.5 628.6 911.8 630.3 912.0 632.0 912.2 633.6 912.5 635.3 912.8 637.0 913.0 638.6 913.2 640.1 913.5 641.7 913.8 643.4 914.0 645.4 914.2 647.6 914.5 650.0 914.8 652.4 915.0 654.9 915.2 657.4 915.5 659.8 915.8 662.0 916.0 664.1 916.2 665.8 916.5 667.3 916.8 668.4 917.0 669.0 917.2 669.1 917.5 666.5 917.8 660.5 918.0 651.5 918.2 640.1 918.5 626.5 918.8 611.3 919.0 594.8 919.2 577.6 919.5 560.0 919.8 542.5 920.0 525.6 920.2 509.6 920.5 495.0 920.8 482.2 921.0 471.6 921.2 463.8 921.5 459.1 921.8 457.9 922.0 459.2 922.2 462.1 922.5 466.4 922.8 472.1 923.0 478.8 923.2 486.6 923.5 495.2 923.8 504.3 924.0 514.0 924.2 524.0 924.5 534.1 924.8 544.1 925.0 554.0 925.2 563.5 925.5 572.5 925.8 580.7 926.0 588.1 926.2 594.5 926.5 599.6 926.8 603.4 927.0 605.6 927.2 606.2 927.5 606.1 927.8 606.0 928.0 605.9 928.2 605.7 928.5 605.7 928.8 606.0 929.0 606.7 929.2 608.0 929.5 609.6 929.8 611.5 930.0 613.8 930.2 616.3 930.5 619.0 930.8 621.8 931.0 624.7 931.2 627.6 931.5 630.5 931.8 633.3 932.0 636.0 932.2 639.1 932.5 643.0 932.8 647.2 933.0 651.5 933.2 655.7 933.5 659.5 933.8 662.7 934.0 664.9 934.2 665.9 934.5 664.9 934.8 661.0 935.0 654.6 935.2 645.9 935.5 635.3 935.8 623.2 936.0 609.9 936.2 595.8 936.5 581.2 936.8 566.4 937.0 551.8 937.2 537.8 937.5 524.8 937.8 512.9 938.0 502.7 938.2 494.4 938.5 488.5 938.8 485.2 939.0 484.8 939.2 486.6 939.5 490.1 939.8 495.3 940.0 501.8 940.2 509.4 940.5 518.0 940.8 527.3 941.0 537.0 941.2 547.0 941.5 557.0 941.8 566.9 942.0 576.4 942.2 585.2 942.5 593.3 942.8 600.3 943.0 606.0 943.2 610.2 943.5 612.7 943.8 613.4 944.0 613.2 944.2 612.7 944.5 612.1 944.8 611.3 945.0 610.6 945.2 609.9 945.5 609.4 945.8 609.1 946.0 609.0 946.2 609.3 946.5 610.0 946.8 610.9 947.0 612.1 947.2 613.6 947.5 615.2 947.8 617.1 948.0 619.1 948.2 621.3 948.5 623.5 948.8 625.8 949.0 628.2 949.2 630.7 949.5 633.1 949.8 635.5 950.0 637.8 950.2 640.1 950.5 642.2 950.8 644.2 951.0 646.1 951.2 647.7 951.5 649.2 951.8 650.4 952.0 651.3 952.2 652.0 952.5 652.7 952.8 653.4 953.0 653.9 953.2 654.5 953.5 655.0 953.8 655.4 954.0 655.9 954.2 656.3 954.5 656.7 954.8 657.2 955.0 657.6 955.2 658.1 955.5 658.6 955.8 659.1 956.0 659.6 956.2 660.2 956.5 660.9 956.8 661.7 957.0 662.7 957.2 663.7 957.5 664.8 957.8 665.8 958.0 666.8 958.2 667.7 958.5 668.5 958.8 669.1 959.0 669.4 959.2 669.4 959.5 667.1 959.8 661.8 960.0 653.8 960.2 643.6 960.5 631.4 960.8 617.6 961.0 602.6 961.2 586.8 961.5 570.4 961.8 553.9 962.0 537.6 962.2 521.9 962.5 507.1 962.8 493.6 963.0 481.8 963.2 472.0 963.5 464.5 963.8 459.8 964.0 458.1 964.2 458.9 964.5 461.3 964.8 465.0 965.0 470.0 965.2 476.0 965.5 483.1 965.8 490.9 966.0 499.4 966.2 508.4 966.5 517.8 966.8 527.5 967.0 537.2 967.2 546.8 967.5 556.3 967.8 565.4 968.0 574.0 968.2 582.0 968.5 589.2 968.8 595.5 969.0 600.7 969.2 604.7 969.5 607.3 969.8 608.5 970.0 608.5 970.2 608.4 970.5 608.2 970.8 608.1 971.0 607.9 971.2 607.8 971.5 607.8 971.8 608.1 972.0 608.6 972.2 609.3 972.5 610.2 972.8 611.4 973.0 612.7 973.2 614.2 973.5 615.8 973.8 617.5 974.0 619.4 974.2 621.3 974.5 623.3 974.8 625.3 975.0 627.4 975.2 629.5 975.5 631.6 975.8 633.7 976.0 635.7 976.2 637.7 976.5 639.6 976.8 641.9 977.0 644.6 977.2 647.5 977.5 650.5 977.8 653.6 978.0 656.7 978.2 659.7 978.5 662.4 978.8 664.8 979.0 666.8 979.2 668.4 979.5 669.3 979.8 669.4 980.0 667.6 980.2 663.4 980.5 657.1 980.8 649.0 981.0 639.3 981.2 628.4 981.5 616.5 981.8 603.9 982.0 591.0 982.2 577.9 982.5 565.0 982.8 552.6 983.0 540.8 983.2 530.2 983.5 520.8 983.8 513.0 984.0 507.1 984.2 503.3 984.5 502.0 984.8 502.9 985.0 505.5 985.2 509.7 985.5 515.2 985.8 521.8 986.0 529.3 986.2 537.5 986.5 546.3 986.8 555.5 987.0 564.8 987.2 574.1 987.5 583.1 987.8 591.7 988.0 599.7 988.2 606.9 988.5 613.1 988.8 618.0 989.0 621.6 989.2 623.6 989.5 623.9 989.8 623.6 990.0 623.1 990.2 622.5 990.5 621.8 990.8 621.0 991.0 620.3 991.2 619.7 991.5 619.2 991.8 619.0 992.0 619.1 992.2 619.6 992.5 620.4 992.8 621.6 993.0 623.0 993.2 624.6 993.5 626.3 993.8 628.3 994.0 630.3 994.2 632.4 994.5 634.5 994.8 636.7 995.0 638.7 995.2 640.7 995.5 642.9 995.8 645.6 996.0 648.6 996.2 651.8 996.5 654.9 996.8 657.7 997.0 660.1 997.2 661.9 997.5 662.8 997.8 662.3 998.0 659.0 998.2 653.0 998.5 644.8 998.8 634.7 999.0 623.1 999.2 610.5 999.5 597.1 999.8 583.5 1000.0 569.9 1000.2 556.8 1000.5 544.5 1000.8 533.5 1001.0 524.1 1001.2 516.7 1001.5 511.7 1001.8 509.6 1002.0 510.1 1002.2 512.3 1002.5 516.0 1002.8 521.1 1003.0 527.3 1003.2 534.5 1003.5 542.4 1003.8 550.9 1004.0 559.9 1004.2 569.0 1004.5 578.2 1004.8 587.2 1005.0 595.9 1005.2 604.1 1005.5 611.6 1005.8 618.2 1006.0 623.8 1006.2 628.1 1006.5 630.9 1006.8 632.2 1007.0 632.2 1007.2 632.1 1007.5 631.9 1007.8 631.8 1008.0 631.7 1008.2 631.7 1008.5 631.9 1008.8 632.1 1009.0 632.4 1009.2 632.9 1009.5 633.4 1009.8 634.0 1010.0 634.7 1010.2 635.5 1010.5 636.3" fill="none" stroke="#4dae06" stroke-width="2" stroke-linejoin="round"/>
<rect x="224" y="306" width="2" height="10" fill="#8e8e8e"/>
<rect x="224" y="29" width="2" height="10" fill="#8e8e8e"/>
<rect x="381" y="306" width="2" height="10" fill="#8e8e8e"/>
<rect x="381" y="29" width="2" height="10" fill="#8e8e8e"/>
<rect x="538" y="306" width="2" height="10" fill="#8e8e8e"/>
<rect x="538" y="29" width="2" height="10" fill="#8e8e8e"/>
<rect x="696" y="306" width="1" height="10" fill="#262626"/>
<rect x="696" y="29" width="1" height="10" fill="#262626"/>
<rect x="853" y="306" width="1" height="10" fill="#262626"/>
<rect x="853" y="29" width="1" height="10" fill="#262626"/>
<line x1="67.5" x2="77.5" y1="259.0" y2="259.0" stroke="#262626" stroke-width="1"/>
<line x1="1000.5" x2="1010.5" y1="259.0" y2="259.0" stroke="#262626" stroke-width="1"/>
<line x1="67.5" x2="77.5" y1="201.5" y2="201.5" stroke="#262626" stroke-width="1"/>
<line x1="1000.5" x2="1010.5" y1="201.5" y2="201.5" stroke="#262626" stroke-width="1"/>
<line x1="67.5" x2="77.5" y1="144.0" y2="144.0" stroke="#262626" stroke-width="1"/>
<line x1="1000.5" x2="1010.5" y1="144.0" y2="144.0" stroke="#262626" stroke-width="1"/>
<line x1="67.5" x2="77.5" y1="86.5" y2="86.5" stroke="#262626" stroke-width="1"/>
<line x1="1000.5" x2="1010.5" y1="86.5" y2="86.5" stroke="#262626" stroke-width="1"/>
<line x1="67" x2="1011" y1="29.0" y2="29.0" stroke="#262626" stroke-width="1"/>
<line x1="67" x2="1011" y1="316.5" y2="316.5" stroke="#262626" stroke-width="1"/>
<line x1="67.75" x2="67.75" y1="28.5" y2="317.0" stroke="#262626" stroke-width="1"/>
<line x1="1010.5" x2="1010.5" y1="28.5" y2="317.0" stroke="#262626" stroke-width="1"/>
<text x="59.8" y="324.50" class="tk" text-anchor="end">0</text>
<text x="59.8" y="267.00" class="tk" text-anchor="end">0.2</text>
<text x="59.8" y="209.50" class="tk" text-anchor="end">0.4</text>
<text x="59.8" y="152.00" class="tk" text-anchor="end">0.6</text>
<text x="59.8" y="94.50" class="tk" text-anchor="end">0.8</text>
<text x="59.8" y="37.00" class="tk" text-anchor="end">1</text>
<text x="67.50" y="344.50" class="tk" text-anchor="middle">0</text>
<text x="224.66" y="344.50" class="tk" text-anchor="middle">5</text>
<text x="381.83" y="344.50" class="tk" text-anchor="middle">10</text>
<text x="539.00" y="344.50" class="tk" text-anchor="middle">15</text>
<text x="696.16" y="344.50" class="tk" text-anchor="middle">20</text>
<text x="853.33" y="344.50" class="tk" text-anchor="middle">25</text>
<text x="1010.49" y="344.50" class="tk" text-anchor="middle">30</text>
<text x="539" y="372.20" class="lb" text-anchor="middle">Time/s</text>
<text x="0" y="0" class="lb" text-anchor="middle" transform="translate(21.5 172.95) rotate(-90)">Amplitude</text>
<text x="539" y="18.3" class="tt" text-anchor="middle">Raw PPG signal with baseline drift</text>
<rect x="224" y="705" width="2" height="10" fill="#8e8e8e"/>
<rect x="224" y="429" width="2" height="10" fill="#8e8e8e"/>
<rect x="381" y="705" width="2" height="10" fill="#8e8e8e"/>
<rect x="381" y="429" width="2" height="10" fill="#8e8e8e"/>
<rect x="538" y="705" width="2" height="10" fill="#8e8e8e"/>
<rect x="538" y="429" width="2" height="10" fill="#8e8e8e"/>
<rect x="696" y="705" width="1" height="10" fill="#262626"/>
<rect x="696" y="429" width="1" height="10" fill="#262626"/>
<rect x="853" y="705" width="1" height="10" fill="#262626"/>
<rect x="853" y="429" width="1" height="10" fill="#262626"/>
<line x1="67.5" x2="77.5" y1="658.5" y2="658.5" stroke="#262626" stroke-width="1"/>
<line x1="1000.5" x2="1010.5" y1="658.5" y2="658.5" stroke="#262626" stroke-width="1"/>
<line x1="67.5" x2="77.5" y1="601.0" y2="601.0" stroke="#262626" stroke-width="1"/>
<line x1="1000.5" x2="1010.5" y1="601.0" y2="601.0" stroke="#262626" stroke-width="1"/>
<line x1="67.5" x2="77.5" y1="543.5" y2="543.5" stroke="#262626" stroke-width="1"/>
<line x1="1000.5" x2="1010.5" y1="543.5" y2="543.5" stroke="#262626" stroke-width="1"/>
<line x1="67.5" x2="77.5" y1="486.0" y2="486.0" stroke="#262626" stroke-width="1"/>
<line x1="1000.5" x2="1010.5" y1="486.0" y2="486.0" stroke="#262626" stroke-width="1"/>
<line x1="67" x2="1011" y1="428.5" y2="428.5" stroke="#262626" stroke-width="1"/>
<line x1="67" x2="1011" y1="716.0" y2="716.0" stroke="#262626" stroke-width="1"/>
<line x1="67.75" x2="67.75" y1="428.0" y2="716.5" stroke="#262626" stroke-width="1"/>
<line x1="1010.5" x2="1010.5" y1="428.0" y2="716.5" stroke="#262626" stroke-width="1"/>
<text x="59.8" y="724.00" class="tk" text-anchor="end">-0.2</text>
<text x="59.8" y="666.50" class="tk" text-anchor="end">-0.1</text>
<text x="59.8" y="609.00" class="tk" text-anchor="end">0</text>
<text x="59.8" y="551.50" class="tk" text-anchor="end">0.1</text>
<text x="59.8" y="494.00" class="tk" text-anchor="end">0.2</text>
<text x="59.8" y="436.50" class="tk" text-anchor="end">0.3</text>
<text x="67.50" y="744.00" class="tk" text-anchor="middle">0</text>
<text x="224.66" y="744.00" class="tk" text-anchor="middle">5</text>
<text x="381.83" y="744.00" class="tk" text-anchor="middle">10</text>
<text x="539.00" y="744.00" class="tk" text-anchor="middle">15</text>
<text x="696.16" y="744.00" class="tk" text-anchor="middle">20</text>
<text x="853.33" y="744.00" class="tk" text-anchor="middle">25</text>
<text x="1010.49" y="744.00" class="tk" text-anchor="middle">30</text>
<text x="539" y="771.70" class="lb" text-anchor="middle">Time/s</text>
<text x="0" y="0" class="lb" text-anchor="middle" transform="translate(16.0 572.45) rotate(-90)">Amplitude</text>
<text x="539" y="417.8" class="tt" text-anchor="middle">PPG signal after removing baseline drift</text>
</svg>
</body></html>
